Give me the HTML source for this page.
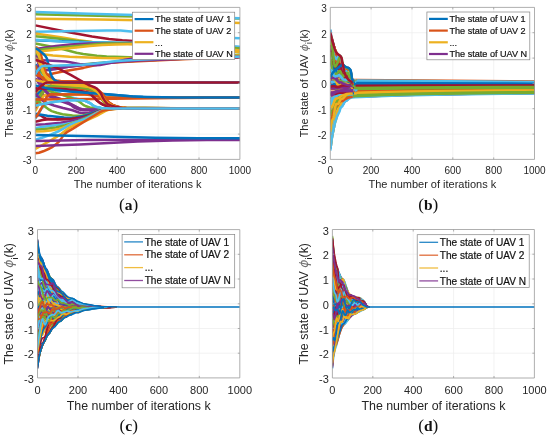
<!DOCTYPE html>
<html lang="en"><head><meta charset="utf-8"><title>UAV state convergence</title>
<style>
html,body{margin:0;padding:0;background:#fff}
body{width:550px;height:438px;overflow:hidden}
svg{display:block;font-family:"Liberation Sans",sans-serif}
</style></head><body>
<svg width="550" height="438" viewBox="0 0 550 438">
<rect width="550" height="438" fill="#fff"/>
<g>
<rect x="35.3" y="7.4" width="204.6" height="152" fill="#fff"/>
<path d="M76.2 7.4V159.4M117.1 7.4V159.4M158.1 7.4V159.4M199 7.4V159.4M35.3 134.1H239.9M35.3 108.7H239.9M35.3 83.4H239.9M35.3 58.1H239.9M35.3 32.7H239.9" stroke="#ececec" stroke-width="0.7" fill="none"/>
<clipPath id="cp1"><rect x="35.3" y="6.4" width="205.6" height="154"/></clipPath>
<g clip-path="url(#cp1)" fill="none" stroke-width="2.5" stroke-linejoin="round" stroke-linecap="butt">
<path d="M35.3 14.2L109 16L239.9 18.5" stroke="#77AC30"/>
<path d="M35.3 12L88.7 13.8L170.9 15.9L239.9 18.2" stroke="#4DBEEE"/>
<path d="M35.3 18.8L98.9 19.5L166.2 20.7L227.8 22.4L239.9 22.9" stroke="#EDB120"/>
<path d="M35.3 25.4L68.9 32.3L92 36.6L109 38.9L122.3 40.3L177.3 44.1L223.5 46.5L239.9 47.2" stroke="#A2142F"/>
<path d="M35.3 31.7L106.7 30.5L120.6 30.5L131.1 31.4L174.8 35L213.5 37.2L239.9 38.3" stroke="#4DBEEE"/>
<path d="M35.3 33.5L62.3 37.6L78.7 40.2L92.4 42L104 42.8L140.1 44.3L175 46.5L209.8 49.3L239.9 52.2" stroke="#EDB120"/>
<path d="M35.3 36.3L57.8 38.5L75.8 40.8L92.6 42.2L112 42.8L145.8 43.6L192.8 45.5L239.5 47.9L239.9 47.9" stroke="#77AC30"/>
<path d="M35.3 40.3L88.3 42.2L157.4 44.3L235.4 47.2L239.9 47.4" stroke="#0072BD"/>
<path d="M35.3 39.8L61.9 41.6L78.9 42.2L145.8 43L185.1 44.2L230.1 46.2L239.9 46.7" stroke="#4DBEEE"/>
<path d="M35.3 43.4L53.3 46.9L62.3 49L76.4 52.8L83.2 54L96.9 55.8L106.7 56.5L129.6 57.2L164.2 57.2L197.1 56.6L224.8 55.6L239.9 54.8" stroke="#77AC30"/>
<path d="M35.3 48.9L56 45.9L70.3 44.4L88.9 43.5L104 43.4L146.6 44.1L177.3 45.1L210.4 46.9L239.9 48.9" stroke="#7E2F8E"/>
<path d="M35.3 50.5L45.3 49L65 46.9L101.2 43.8L110 43.6L151.7 43.7L176.7 44.4L204.1 45.8L235.2 48.1L239.9 48.4" stroke="#77AC30"/>
<path d="M35.3 52.5L45.9 50.8L64.6 48.7L89.9 46.1L102.4 44.9L115.9 44.4L139.4 44.1L161.5 44.5L183.8 45.4L206.3 47L229.1 49.2L239.9 50.5" stroke="#EDB120"/>
<path d="M35.3 53L39 53.8L52.9 55.4L69.7 56.7L101.6 58L118.4 58.3L175.2 57.4L230.3 55.9L239.9 55.5" stroke="#EDB120"/>
<path d="M35.3 73.3L41 69.3L43.5 68L45.5 67.4L53.9 66.5L76.8 65.1L98.3 63L125.7 61.2L177.3 58.9L217.6 57.7L239.9 57.3" stroke="#77AC30"/>
<path d="M35.3 75.8L41 72.2L44.1 70.7L48.2 69.6L56 68.2L83.4 64.9L113.5 62.2L134.7 60.7L186.7 58.4L219.4 57.5L239.9 57.3" stroke="#7E2F8E"/>
<path d="M35.3 80.9L42.7 77L46.8 75.3L54.1 73.3L64.1 71.2L83.4 67.9L100.8 64L107.3 63.1L122.7 61.9L175.7 59.4L214.1 58L239.9 57.6" stroke="#D95319"/>
<path d="M35.3 60.1L48.2 60.4L65.6 61.6L70.1 62.2L80.1 64.3L85.2 64.8L96.3 65.2L100 64.9L112.6 62.5L125.1 59.7L134.9 58.2L144.4 57.9L186.5 57.1L238.3 56.8L239.9 56.8" stroke="#7E2F8E"/>
<path d="M35.3 64.4L36.7 65.9L38.4 68.2L39.2 69.8L40.8 73.5L41.4 74.5L43.1 76.4L44.9 77.9L48.4 79.9L51.9 81.4L56.8 82.6L64.4 83.8L72.3 84.5L82.2 85.1L85.2 85.6L90.3 87.4L94 89.2L96.7 91L98.9 93L101.6 96.1L102.6 97.7L104 100.1L105.5 101.6L107.7 103.4L110.2 104.8L114.3 106.4L118.6 107.4L124.9 108.3L130.2 108.5L239.9 108.5" stroke="#0072BD"/>
<path d="M35.3 54.3L35.9 54.8L36.7 56L37.8 58.1L38.2 59.2L38.8 61.5L39.8 66L40.2 67.5L41.6 71.9L42.5 74L43.1 75.2L43.9 76.3L45.7 78.1L48 79.6L51.9 81.3L56.4 82.7L60.5 83.5L69.1 84.2L80.9 84.9L85.6 85.6L90.3 86.9L93.6 88.3L97.1 90.4L99.3 92.2L101.8 94.8L103.2 96.6L105.3 100.1L106.7 101.6L109 103.4L111.4 104.8L115.5 106.4L119.8 107.4L126.1 108.3L131.5 108.5L239.9 108.5" stroke="#77AC30"/>
<path d="M35.3 70.7L40.4 77.1L42.7 80.1L44.1 81.4L47 83.3L52.1 85.8L56.8 87.7L60.5 88.6L67.6 89.5L76.4 90.5L84.4 91.9L88.7 93.1L90.1 93.8L92.2 95.6L95 98.5L97.5 101L100.8 103.4L103.4 104.9L108.3 106.5L113 107.5L120.6 108.4L133.1 108.5L239.9 108.5" stroke="#A2142F"/>
<path d="M35.3 91L38.8 88.8L43.3 86.4L45.1 86L52.1 86.2L75.4 87.7L84.8 88.7L89.9 89.8L94.6 91.4L97.3 92.6L98.7 93.9L100.6 96.1L104.3 101.1L105.9 102.9L107.5 104L111.8 106.3L114.7 107.4L117.1 107.7L172.8 108.3L239.9 108.5" stroke="#4DBEEE"/>
<path d="M35.3 87.2L40.4 92L42.5 94.1L43.7 94.9L47.2 95.8L59.9 99.8L70.3 103.7L73.6 105.3L78.9 108.3L81.3 109.2L83.8 109.5L94.8 110L98.7 109.9L106.3 108.8L122.1 108.5L239.9 108.5" stroke="#7E2F8E"/>
<path d="M35.3 94.8L37.8 91.7L41 88.2L42.3 87.3L45.3 86.2L47.6 85.9L66 86L78.3 86.8L86.2 87.6L91.4 88.7L95.2 90L97.3 91.2L100.2 93.6L103.8 97.1L108.5 102.9L110 104.3L111.4 105.1L115.7 106.8L119.2 107.6L123.3 107.8L178.5 108.3L239.9 108.5" stroke="#EDB120"/>
<path d="M35.3 97.3L37.6 94.2L39.2 92.4L42.3 89.8L43.7 89.1L45.1 89L51.9 89.5L130.4 96.3L143.1 96.9L174.4 97.4L239.9 97.6" stroke="#0072BD"/>
<path d="M35.3 55.5L35.9 56.2L36.5 57.4L37.3 59.3L37.6 60L37.8 60.9L38.8 66.4L39 67.2L39.2 67.9L39.4 68.2L40.6 68.9L44.9 70.2L48.8 70.1L54.9 69.3L68.4 66.7L86.5 64.6L119.4 61.7L139.2 60.5L189.2 58.4L221.3 57.5L239.9 57.3" stroke="#7E2F8E"/>
<path d="M35.3 118.9L41.2 109L42.5 107.5L44.9 105.2L47 103.9L50.4 102.7L55.1 101.7L65.6 100.4L72.1 100.1L82.8 100.2L85.2 100.9L90.1 103.2L94.6 106.4L96.3 107.1L101.2 107.9L110.8 108.5L239.9 108.5" stroke="#4DBEEE"/>
<path d="M35.3 111.3L39 103.6L40.6 100L41.4 98.6L43.5 96.1L44.7 95.1L45.7 94.8L50.4 94.3L85 94.4L90.7 95.1L102.2 97.1L106.3 97.6L239.9 97.6" stroke="#EDB120"/>
<path d="M35.3 116.3L37.1 115.4L39 115.1L40.2 115.2L41.8 116.1L44.5 117.9L45.9 118.4L52.1 119.2L57.6 119.4L71.1 118.9L76.8 118.3L84.8 116.7L88.7 115.7L93.6 113.6L99.1 111.1L102.4 110.1L111.2 108.8L116.9 108.5L239.9 108.5" stroke="#A2142F"/>
<path d="M35.3 68.2L43.9 78.9L47.2 83L51.9 87.8L54.7 90.3L58.6 92.7L62.9 94.9L67.2 96.5L73.6 98L80.9 99.6L86.2 101.4L89.9 103.1L94.6 106.4L96.3 107.1L101.2 107.9L110.8 108.5L239.9 108.5" stroke="#4DBEEE"/>
<path d="M35.3 106.2L36.7 102.3L38 99.4L40.4 94.7L41.4 93.1L42.3 92.4L44.9 91.4L47.4 91L49.8 91.3L65.4 95.9L73.4 98.8L78.3 101.1L80.1 102.2L83.6 105.1L85.4 106L89.7 107.5L93 108.1L102 108.5L239.9 108.5" stroke="#77AC30"/>
<path d="M35.3 108.7L37.1 103.8L38.8 99.9L41.6 94L43.1 91.5L44.1 90.2L46.8 87.7L48.4 86.7L49.6 86.4L63.5 86.5L71.5 87.3L85.8 89.5L91.4 90.7L95.7 92.3L96.9 93.1L98.3 94.5L100.6 97.5L103.2 101.2L104.9 102.9L106.3 103.9L111 106.2L114.3 107.3L116.9 107.7L172.6 108.3L239.9 108.5" stroke="#D95319"/>
<path d="M35.3 102.4L38.8 98.2L41 95.2L43.9 90.3L44.9 89L46.1 88.1L48.8 86.6L50.8 86L58 86.1L73.4 86.9L83.4 88L88.9 89.1L93.4 90.5L95.2 91.3L96.7 92.5L98.5 94.7L102.4 100L104 101.8L106.9 103.7L111 106L114.1 107.2L116.5 107.7L168.1 108.3L239.9 108.5" stroke="#77AC30"/>
<path d="M35.3 70.7L38.2 77L40.8 82.3L45.1 90.4L46.6 92.6L47.6 93.7L49.8 95.1L53.1 96.4L59.4 98.4L65.8 101.1L68 102.4L70.7 104.7L73.2 106.9L74.8 107.8L78.9 109.5L81.1 110L97.9 109.9L105.1 109L116.1 108.5L239.9 108.5" stroke="#7E2F8E"/>
<path d="M35.3 78.3L39 83.5L42.3 87.6L45.1 90.6L49.2 94.2L53.1 97L56.8 99.1L62.1 101.5L73.2 105.7L79.3 108.5L82.2 109.3L84.8 109.5L99.3 109.4L110 108.5L239.9 108.5" stroke="#7E2F8E"/>
<path d="M35.3 93.5L38.8 97.3L41.4 99.7L43.9 101.4L47.8 103.3L53.9 105.5L63.1 108L72.5 110.3L78.9 112.5L81.3 112.9L89.1 112.6L94.6 112.1L97.7 111.1L102 109.5L104.9 109.1L114.1 108.5L239.9 108.5" stroke="#7E2F8E"/>
<path d="M35.3 98.6L40.8 103.4L49.2 109.7L51.7 111.1L56.8 112.8L62.5 114.2L72.5 115.6L78.1 115.8L82.6 115.4L90.7 113.8L93.8 112.7L100 110L102.6 109.3L112.4 108.6L132.7 108.5L239.9 108.5" stroke="#77AC30"/>
<path d="M35.3 113.8L47.4 115.8L64.1 117.6L71.5 117.9L75.6 117.5L84.6 115.7L89.5 114.2L98.7 111L102.8 110L112.2 108.7L117.8 108.5L239.9 108.5" stroke="#0072BD"/>
<path d="M35.3 121.7L42.7 120L47 119.6L71.7 118.8L77.7 118.1L86.5 116.3L89.9 115.2L99.1 111.1L102.4 110.1L111.2 108.8L116.9 108.5L239.9 108.5" stroke="#A2142F"/>
<path d="M35.3 124.7L45.3 124.2L60.7 122.7L69.7 121.2L79.7 119L85.8 117.3L90.3 115.3L97.7 111.7L101.4 110.4L108.1 109.2L114.7 108.5L239.9 108.5" stroke="#7E2F8E"/>
<path d="M35.3 128L49.2 126L63.3 124.4L70.5 123.1L78.3 121L85.2 118.6L89.7 116.4L95.7 113.3L104.3 109.7L107.3 108.9L111.6 108.6L127.4 108.5L239.9 108.5" stroke="#4DBEEE"/>
<path d="M35.3 129.8L44.9 128.9L56 127.4L65 125.5L71.7 123.5L80.1 120.4L94.2 114L105.3 109.8L109 108.9L113 108.7L127.8 108.5L239.9 108.5" stroke="#77AC30"/>
<path d="M35.3 131.5L43.7 131.2L50.6 130.5L58.2 129.1L61.7 128.1L71.5 123.9L84.8 119.5L88.3 118L93.8 114.7L97.9 112.4L100.8 111.3L107.7 109.4L112 108.8L125.3 108.5L239.9 108.5" stroke="#EDB120"/>
<path d="M35.3 139.6L42.1 137.7L51.1 134.5L59.2 131L63.9 128.4L69.9 124.9L74.8 122.7L86.7 118.3L92 115.6L98.3 112.4L102 111L109.4 109.4L114.5 108.8L128.4 108.5L239.9 108.5" stroke="#4DBEEE"/>
<path d="M35.3 149L46.8 142.7L57 136.6L61.3 133.7L68.2 128.6L71.5 126.6L76.4 124.5L84.6 121.4L96.7 115.9L100.6 113.7L105.1 111.1L107.7 110L112.6 109.2L120 108.6L191.2 108.5L239.9 108.5" stroke="#EDB120"/>
<path d="M35.3 153.3L39 152.7L43.3 151.3L49.6 148.5L52.7 146.8L56 144.3L59 141.5L60.7 139.4L63.5 135.4L65 133.8L67.8 131.6L73.4 128.3L88.9 118.8L94.8 115.2L99.7 112.2L102.8 110.8L105.9 110.1L113.3 108.9L118.8 108.5L239.9 108.5" stroke="#D95319"/>
<path d="M35.3 117.9L38 114L41 109L43.7 104.1L45.1 100.7L46.1 98.2L47 96.7L47.6 96.1L49.6 94.8L51.3 94.3L85 94.4L90.7 95.1L102.2 97.1L106.3 97.6L239.9 97.6" stroke="#D95319"/>
<path d="M35.3 99.4L93.2 99L175.5 97.9L239.9 97.6" stroke="#D95319"/>
<path d="M35.3 88.5L54.7 88.8L65.4 89.3L76.6 90.5L83.6 91.7L88.1 92.9L89.9 93.7L91.8 95.3L95 98.5L97.5 101L100.8 103.4L103.4 104.9L108.3 106.5L113 107.5L120.6 108.4L133.1 108.5L239.9 108.5" stroke="#A2142F"/>
<path d="M35.3 85.4L47.6 88.4L54.7 89.7L69.7 91.4L114.5 95L132.9 96.5L147.6 97L177.9 97.5L239.9 97.6" stroke="#0072BD"/>
<path d="M35.3 46.9L36.3 47.2L37.6 48.2L39 49.9L39.6 50.8L40 51.7L40.6 53.6L42.9 62.1L44.3 68.3L44.9 70.5L45.3 71.6L46.3 73.3L47.8 75.1L49.6 76.9L52.9 79.1L56.4 80.9L59.6 82.1L66 83.4L73.6 84.3L83.4 85L87.3 85.8L92 87.4L95.5 89.1L98.3 91L100.6 93L103.2 96.1L104.3 97.7L105.7 100.1L107.1 101.6L109.4 103.4L111.8 104.8L115.9 106.4L120.2 107.4L126.6 108.3L131.9 108.5L239.9 108.5" stroke="#D95319"/>
<path d="M35.3 65.7L37.6 69.9L39.6 74.4L40.4 75.8L42.3 78L43.7 79.2L45.1 79.8L49 80.6L53.5 80.9L77 81.3L81.1 81.9L84 82.7L86.7 84.2L91 86.8L96.9 89.6L99.1 91.1L101.4 93.2L103.8 96.1L104.9 97.7L106.3 100.1L107.7 101.6L110 103.4L112.4 104.8L116.5 106.4L120.8 107.4L127.2 108.3L132.5 108.5L239.9 108.5" stroke="#D95319"/>
<path d="M35.3 74.5L43.7 77.7L50 79.5L55.6 80.5L60.7 80.9L77.4 81.2L81.9 81.9L84.2 82.5L86.9 84L91.2 86.7L97.3 89.6L99.5 91.1L101.8 93.2L104.3 96.1L105.3 97.7L106.7 100.1L108.1 101.6L110.4 103.4L112.8 104.8L116.9 106.4L121.2 107.4L127.6 108.3L132.9 108.5L239.9 108.5" stroke="#D95319"/>
<path d="M35.3 46.7L36.1 47.8L36.9 49.4L38.2 52.4L38.8 54.3L39.4 56.8L40.8 63.3L41.4 65.7L42.9 70.5L43.7 72.8L44.3 74.2L45.5 76L47.2 77.8L49 79.2L52.7 81.2L56.6 82.6L60.3 83.5L68 84.3L83.6 85.5L88.1 86.4L91.4 87.5L94.6 89.2L97.5 91.1L99.7 93.2L102.2 96.1L103.2 97.7L104.7 100.1L106.1 101.6L108.3 103.4L110.8 104.8L114.9 106.4L119.2 107.4L125.5 108.3L130.8 108.5L239.9 108.5" stroke="#EDB120"/>
<path d="M35.3 58.1L36.5 59.1L38 60.9L39.6 63.5L40.4 65.3L42.7 71.5L43.5 73.3L45.3 76.3L46.8 78.1L48.2 79.3L51.1 81L54.1 82.2L58.8 83.3L67.2 84.4L85.2 86.2L88.7 86.9L91.4 88L95 90.2L97.3 92L99.7 94.6L101.4 96.6L103.4 100.1L104.9 101.6L107.1 103.4L109.6 104.8L113.7 106.4L118 107.4L124.3 108.3L129.6 108.5L239.9 108.5" stroke="#EDB120"/>
<path d="M35.3 80.1L46.1 82.5L55.4 83.9L64.4 84.7L82.6 85.9L88.1 86.6L90.5 87.3L93.6 88.9L96.9 91.1L99.1 93.2L101.6 96.1L102.6 97.7L104 100.1L105.5 101.6L107.7 103.4L110.2 104.8L114.3 106.4L118.6 107.4L124.9 108.3L130.2 108.5L239.9 108.5" stroke="#EDB120"/>
<path d="M35.3 48.2L37.6 49.3L40.4 51.4L44.3 54.8L45.5 56.3L46.6 57.9L47 58.8L47.4 60.2L48.6 65.7L50 71.4L50.8 74L51.7 76.1L52.3 77.3L53.7 79.2L54.9 80.4L56.6 81.2L59 82L64.6 82.5L239.9 82.5" stroke="#0072BD"/>
<path d="M35.3 59.8L43.9 62.7L54.5 66.9L61.5 70.1L71.1 75.1L83.2 82L88.5 85L91.6 86.2L95 87.5L96.9 88.6L98.5 90.3L100.4 92.7L101.2 94L103.2 98.4L104.9 100.9L106.5 103L107.7 104.1L110.6 105.4L114.5 106.5L122.5 108.1L127 108.5L239.9 108.5" stroke="#A2142F"/>
<path d="M35.3 92.3L38.2 88.9L40.6 86.6L44.9 83.3L46.6 82.5L48.2 82.4L239.9 82.5" stroke="#A2142F"/>
<path d="M35.3 146L79.5 144.4L113.9 142.7L137.8 141.4L172.8 140.4L207 140L239.9 139.9" stroke="#7E2F8E"/>
<path d="M35.3 140.9L87.1 140L166.9 139.8L239.9 139.8" stroke="#7E2F8E"/>
<path d="M35.3 135.1L104 136.4L155.6 137.8L198.6 138.2L239.9 138.2" stroke="#0072BD"/>
<path d="M35.3 105.7L45.7 103.3L54.7 101.8L67 100.3L73.4 100.1L82.8 100.2L85.2 100.9L90.1 103.2L94.6 106.4L96.3 107.1L101.2 107.9L110.8 108.5L239.9 108.5" stroke="#4DBEEE"/>
<path d="M35.3 74.5L36.9 71.5L38.2 69.7L40.4 67.3L41.6 66.4L42.9 66.1L52.9 65.8L82.6 64.7L93.6 63.7L116.9 61.1L138 59.8L172.2 58.3L219.6 57.1L239.9 56.8" stroke="#4DBEEE"/>
</g>
<path d="M35.3 7.4H239.9V159.4H35.3ZM76.2 159.4v-2M76.2 7.4v2M117.1 159.4v-2M117.1 7.4v2M158.1 159.4v-2M158.1 7.4v2M199 159.4v-2M199 7.4v2M35.3 134.1h2M239.9 134.1h-2M35.3 108.7h2M239.9 108.7h-2M35.3 83.4h2M239.9 83.4h-2M35.3 58.1h2M239.9 58.1h-2M35.3 32.7h2M239.9 32.7h-2" stroke="#9a9a9a" stroke-width="0.8" fill="none"/>
<g font-size="10" fill="#262626">
<text x="35.3" y="174" text-anchor="middle">0</text>
<text x="76.2" y="174" text-anchor="middle">200</text>
<text x="117.1" y="174" text-anchor="middle">400</text>
<text x="158.1" y="174" text-anchor="middle">600</text>
<text x="199" y="174" text-anchor="middle">800</text>
<text x="239.9" y="174" text-anchor="middle">1000</text>
<text x="31.7" y="12.2" text-anchor="end">3</text>
<text x="31.7" y="37.5" text-anchor="end">2</text>
<text x="31.7" y="62.8" text-anchor="end">1</text>
<text x="31.7" y="88.2" text-anchor="end">0</text>
<text x="31.7" y="113.5" text-anchor="end">-1</text>
<text x="31.7" y="138.8" text-anchor="end">-2</text>
<text x="31.7" y="164.2" text-anchor="end">-3</text>
</g>
<text x="137.6" y="187.7" text-anchor="middle" font-size="11" fill="#262626">The number of iterations k</text>
<text transform="translate(13 83.4) rotate(-90)" text-anchor="middle" font-size="11" fill="#262626">The state of UAV <tspan font-family="'DejaVu Sans',sans-serif" font-style="italic" fill="#707070" font-size="11">ϕ</tspan><tspan font-size="8.2" dy="3.6">i</tspan><tspan dy="-3.6">(k)</tspan></text>
<rect x="132.5" y="12.2" width="102.2" height="47.4" fill="#fff" stroke="#858585" stroke-width="0.7"/>
<g font-size="9.1" fill="#111" stroke="#111" stroke-width="0.2">
<path d="M134.6 19.1h18.8" stroke="#0072BD" stroke-width="2.2" fill="none"/>
<text x="155.1" y="22.4">The state of UAV 1</text>
<path d="M134.6 30.7h18.8" stroke="#D95319" stroke-width="2.2" fill="none"/>
<text x="155.1" y="33.9">The state of UAV 2</text>
<path d="M134.6 42.2h18.8" stroke="#EDB120" stroke-width="2.2" fill="none"/>
<text x="155.1" y="45.5">...</text>
<path d="M134.6 53.8h18.8" stroke="#7E2F8E" stroke-width="2.2" fill="none"/>
<text x="155.1" y="57.1">The state of UAV N</text>
</g>
</g>
<g>
<rect x="330.3" y="7.4" width="204.2" height="152" fill="#fff"/>
<path d="M371.1 7.4V159.4M412 7.4V159.4M452.8 7.4V159.4M493.7 7.4V159.4M330.3 134.1H534.5M330.3 108.7H534.5M330.3 83.4H534.5M330.3 58.1H534.5M330.3 32.7H534.5" stroke="#ececec" stroke-width="0.7" fill="none"/>
<clipPath id="cp2"><rect x="330.3" y="6.4" width="205.2" height="154"/></clipPath>
<g clip-path="url(#cp2)" fill="none" stroke-width="2.5" stroke-linejoin="round" stroke-linecap="butt">
<path d="M330.3 60.7L330.9 63.8L331.3 65.4L331.7 66.4L331.9 66.8L332.5 67L333 67.6L333.4 68.7L334.6 73.3L335 74.4L335.4 75L335.8 75.1L336.4 74.6L337.7 73L339.5 71.8L340.3 71.7L341.7 72.3L342.6 73.4L343 73.2L345.8 71L346.6 71L347.5 71.6L348.5 73.1L349.9 76L350.7 77.3L351.3 79.1L351.9 80.9L352.4 81.6L353.6 82.2L355.6 82.3" stroke="#0072BD"/>
<path d="M330.3 50.6L330.9 53.9L331.3 55.6L331.7 56.8L332.1 57.3L332.8 58L333.4 59.3L334.4 62.5L334.8 63.4L335.2 63.8L335.8 63.7L337.4 62.4L340.1 61.2L341.1 61.2L341.5 61.4L341.7 61.9L341.9 62.7L342.6 65.7L342.8 66.3L343.8 68.2L345 71L345.6 71.9L347.5 72.8L348.5 73.4L350.1 72.9L350.5 73.1L350.7 73.4L350.9 74.2L351.3 76.3L351.7 78.5L351.9 79.5L352.1 80.2L352.6 80.8L353.2 81.3" stroke="#0072BD"/>
<path d="M330.3 102.5L330.7 102.7L331.1 102.4L331.9 100.9L332.5 99.5L334 98L334.8 96.5L335.6 94.8L336.4 93.7L337.4 93.3L339.3 93.3L340.5 92.8L342.6 91L345.4 90.2L350.5 88.4L354.2 88.1" stroke="#77AC30"/>
<path d="M330.3 133.3L330.7 131.9L331.1 131.1L331.5 131L331.9 131.4L332.3 129.7L332.5 128.5L332.8 127.2L333.2 123.8L334 116.3L334.2 114.7L334.4 113.3L334.6 112.2L334.8 111.3L335 110.7L335.4 110.1L336.2 109.7L336.8 108.7L338.1 105.4L338.7 104.3L340.3 102.5L341.7 100.5L344 98.2L345.8 95.9L349.3 93.7L351.1 92.7L355 92.5" stroke="#0072BD"/>
<path d="M330.3 96.2L332.1 95.5L336.4 95.5L339.5 95.6L343.4 96L349.3 95.5L355.4 95.5" stroke="#EDB120"/>
<path d="M330.3 137.1L330.7 132.8L331.1 129L331.3 127.4L331.5 126L331.7 125L331.9 124.2L333.6 122.6L334.2 121.5L334.8 119.7L336.4 113.1L337.4 109.8L339.1 105.3L339.7 104L341.3 102.1L342.6 100.1L343.4 99.6L344.4 98.9L346.2 96.6L349.7 93.8L351.3 93.3L353 93.2" stroke="#0072BD"/>
<path d="M330.3 97.5L331.9 98.6L335.4 98.5L337.9 98.4L342.8 97L348.3 96.5L353.2 96.3" stroke="#77AC30"/>
<path d="M330.3 64.2L330.7 63.7L331.3 63.9L331.7 64.1L331.9 63.9L332.3 64.1L333 63.9L333.4 64.3L333.8 65.1L334.8 67.9L335.4 69L336.2 70.2L336.6 71.2L337.2 73.5L338.1 77L338.5 78.3L338.9 79.1L339.5 79.5L341.7 78.8L342.6 79L344 77.6L346 76.7L347 76.7L348.7 77.2L350.3 77.1L350.7 77.4L351.1 78.4L351.9 81.6L352.1 82.2L352.6 82.8L353.8 83.7L355 83.8" stroke="#0072BD"/>
<path d="M330.3 35.7L331.1 38L331.5 38.7L331.9 38.9L333.4 44.4L334.4 47.9L334.6 49.2L335.8 59.8L336.2 62.9L336.6 65.3L336.8 66.2L337 66.9L337.2 67.4L337.4 67.6L337.7 67.6L338.1 66.9L338.9 64.8L339.3 64.2L339.9 64.1L341.3 64.4L341.5 64.5L341.7 65L341.9 66L342.3 68.5L342.6 69.5L342.8 70.1L343.4 70.9L344 71L346 69.5L347.2 69.3L349.5 69.8L350.3 70.1L350.5 70.3L350.7 70.9L350.9 72L351.1 73.4L351.7 78.4L351.9 79.8L352.1 80.8L352.4 81.3L353.2 82.3L354 82.7L355.6 82.7" stroke="#0072BD"/>
<path d="M330.3 143.9L330.5 141.2L330.7 138.7L330.9 136.4L331.1 134.4L331.5 130.9L331.9 127.9L332.8 124L333.6 120.9L334.4 117.9L335.4 113.7L336.2 111.3L337.9 107.5L338.5 106.6L339.3 106L340.1 105.7L340.7 104.9L341.3 103.5L342.8 99.4L343.4 98.1L344.2 97.2L347.7 94.3L349.9 92.3L351.5 91.9L355.4 91.6" stroke="#0072BD"/>
<path d="M330.3 89.3L331.3 87.9L331.9 87.3L334.4 88.5L337 88.8L340.9 88.8L344.6 89.2L349.9 88.7L355.6 88.6" stroke="#77AC30"/>
<path d="M330.3 148.3L330.5 148.1L330.7 147L331.3 142.2L331.9 137.9L332.5 134.2L333.4 130L334 127.2L334.4 123.2L334.6 121.4L334.8 119.8L335 118.4L335.2 117.2L335.4 116.3L335.8 115.1L336.2 114.6L337.2 114.1L337.7 113.3L338.3 111.5L339.1 108.7L339.7 107.4L340.5 106.7L341.9 105.7L343 104.4L344.4 101.8L345.2 101.1L346.8 100.4L349.3 97.5L350.7 96.7L354 96.3" stroke="#0072BD"/>
<path d="M330.3 121.7L330.7 121.6L330.9 121.2L331.1 120.7L331.5 118.9L331.9 116.7L332.3 114.1L332.8 112.1L333.2 110.7L335 106.4L336 103.4L337 100.2L337.7 98.8L338.5 97.8L340.1 96.9L341.5 96.3L342.6 95.1L344.4 92.5L345.4 91.6L349.5 89.4L351.5 88.9L355.6 88.7" stroke="#77AC30"/>
<path d="M330.3 97.5L331.3 98.8L331.9 99.2L334.4 97.3L336.4 96.4L339.3 96.4L345.2 97L350.7 96.7L353 96.7" stroke="#4DBEEE"/>
<path d="M330.3 30.3L330.7 34.7L331.1 38.6L331.5 42.1L331.9 45L332.3 45.8L332.8 45.6L333.4 44.5L334.6 48.5L335.6 51.2L336.4 52.7L337.4 53.9L337.9 54.3L338.3 55.7L339.5 60.9L339.9 62.3L340.3 63.3L340.7 63.8L341.3 63.7L341.5 63.6L341.7 63.8L341.9 64.3L342.6 66.5L342.8 66.8L343.6 67.3L344.4 68.6L345.4 70.6L346 71L346.6 70.7L347.5 69.3L348.1 68.3L348.5 68L348.9 68.3L350.3 71.1L350.7 71.9L350.9 72.7L351.3 74.9L351.9 78.5L352.1 79.3L352.4 79.8L353.4 80.7L353.8 81" stroke="#A2142F"/>
<path d="M330.3 89.2L334.4 89.3L336.6 88.6L339.9 87.1L341.5 87L347 89.5L349.1 89.5L353.4 89.3L357.1 89.2" stroke="#D95319"/>
<path d="M330.3 138.7L330.9 135L331.3 133.1L331.5 132.6L331.7 132.3L331.9 132.3L332.5 131.2L333 129.9L333.4 127.9L334.6 121L335.4 117L336 114.5L337.9 108.5L338.7 106.5L340.1 103.8L341.3 101L341.9 100.2L342.6 99.9L343.8 100L344.6 99.4L345.4 98.3L347.2 94.8L348.3 93.6L350.9 91.8L353.6 91.3L357.7 91.3" stroke="#D95319"/>
<path d="M330.3 134.6L331.3 128L331.9 124.7L332.5 122.2L335 114.1L335.6 112.6L337.9 108.5L339.1 106.4L340.3 104.1L344.4 98.9L346.4 96.7L349.1 95.3L351.3 94.6L356.8 94.4" stroke="#7E2F8E"/>
<path d="M330.3 108L330.9 106.1L331.5 104.7L332.1 103.9L334.6 101.7L336 100.4L337.7 99L339.1 97.8L341.9 96.2L344 95.6L347.2 94.2L351.9 93.3L355.2 93.1" stroke="#4DBEEE"/>
<path d="M330.3 88.7L331.5 87.9L335.6 87.7L339.1 88.3L340.9 87.9L344 86.7L346.4 86.5L356 86.8" stroke="#D95319"/>
<path d="M330.3 94.4L331.9 94.7L334.6 93.8L337 93.8L341.9 94.9L344 94.9L346.6 94.7L350.7 95.4L353.4 95.8L355 95.9" stroke="#4DBEEE"/>
<path d="M330.3 116.6L330.7 114.4L330.9 113.6L331.3 112.6L332.1 111.6L333 109.7L333.8 107.7L334.6 106.3L335.6 105.6L336.6 104.8L337.7 103.3L338.9 101.3L339.7 100.5L340.9 100.1L342.3 99.9L344.8 98.4L349.5 96.9L354.4 96.7L354.8 96.7" stroke="#A2142F"/>
<path d="M330.3 93L331.9 92.5L336.6 93.2L339.5 92.7L343.4 91.7L347.5 91.6L353.8 91.7" stroke="#D95319"/>
<path d="M330.3 84.2L331.3 82.3L331.9 81.5L335.6 83.3L337.2 83.5L339.1 82.8L340.9 82L344.2 82L349.5 82.3L355.6 82.3" stroke="#A2142F"/>
<path d="M330.3 106L331.3 101.8L331.7 100.5L331.9 100.1L333.4 98.9L334 97.6L334.8 95L335.4 92.9L336 91.5L336.6 91L338.1 91.2L340.1 89.9L341.5 89.5L344.4 87.5L346.6 86.5L350.9 85.5L357.5 85.3" stroke="#EDB120"/>
<path d="M330.3 82.6L331.9 81.6L334.2 82.3L336.2 82.8L340.9 83.1L343.2 83.8L346.4 83.6L350.5 83.2L351.7 83.8L353 84.2L356.8 84.3" stroke="#D95319"/>
<path d="M330.3 73.8L331.5 76L331.9 76.6L335.4 77.2L336.8 76.7L338.5 76.1L340.3 76.2L341.5 76.8L343 78.5L345.2 80.5L346.8 81.2L348.9 81.2L350.9 80.6L353 80L356.8 80" stroke="#D95319"/>
<path d="M330.3 104.9L330.9 104.2L331.3 103.4L331.7 102.2L332.3 100L332.8 98.9L333.4 97.9L334.6 97.2L336 96.6L337 95.4L338.3 93.7L339.1 93.2L340.9 93.3L343.6 92.1L347.2 91.3L353 90.6L354.8 90.5" stroke="#4DBEEE"/>
<path d="M330.3 125.1L330.5 123.5L330.7 122L330.9 120.9L331.1 120L331.5 118.8L332.1 117.2L333.2 113.3L333.8 111.7L334.4 110.7L335.8 109.3L336.6 107.9L338.7 102.8L339.5 101.3L341.5 98.6L342.1 98.3L343.8 98.6L344.6 98L346.6 95.9L348.9 94.4L351.3 93.8L355.8 93.6" stroke="#A2142F"/>
<path d="M330.3 146.8L330.9 142.4L331.7 136.2L332.3 132.5L333.6 126.2L334 124.6L334.4 123.5L335.2 122.2L336.4 118.4L337.4 113.8L338.3 110.9L339.3 108.1L340.5 105.5L341.3 104.4L342.6 103.2L344.2 100.7L345.6 99.3L349.5 97L351.3 96.2L354.4 95.9" stroke="#EDB120"/>
<path d="M330.3 128.1L330.7 125.1L330.9 123.2L331.7 114.9L331.9 113.3L332.1 112.9L332.3 112.8L333.2 113.6L333.6 113.4L334 112.4L335.2 107.7L335.8 105.9L336.4 104.7L337 104.2L338.1 104.3L339.1 104.3L340.1 103.7L342.1 101.8L343.2 99.9L344.2 98L346 96L347.9 94.8L350.9 93.3L355.6 92.8L356.6 92.8" stroke="#EDB120"/>
<path d="M330.3 47.1L330.7 44.9L330.9 44.1L331.1 43.6L331.3 43.3L331.7 43.3L331.9 43.5L332.3 46.4L332.8 48.6L333.4 51.3L334.4 55.5L335.8 62.7L336.2 64.3L336.8 65.9L338.9 69.7L339.5 70.2L340.1 70L341.3 68.6L341.5 68.5L341.7 68.7L341.9 69.3L342.6 71.7L342.8 72.1L344 73.1L345.2 73.3L346.2 73.5L347.7 74.5L349.3 74.3L349.9 74.9L350.5 76.1L350.7 76.9L351.1 79.1L351.7 82.7L351.9 83.6L352.1 84.4L352.6 85L353.8 85.8L356.6 85.8" stroke="#7E2F8E"/>
<path d="M330.3 141.6L330.5 138.7L330.7 136.2L330.9 133.9L331.1 132.1L331.3 130.5L331.5 129.3L331.9 127.5L332.3 125.8L333 122.4L333.6 118.9L334 117.1L334.4 115.8L335.2 114.1L336 112.4L337.2 108.6L338.7 104.2L339.3 102.8L340.3 101.4L342.3 99.2L344.6 95.3L346.6 92.6L348.5 91.2L350.3 90L352.1 89.7L353.6 89.7" stroke="#4DBEEE"/>
<path d="M330.3 81.2L331.3 81.3L332.3 80.9L335.8 81L339.7 82.4L342.8 83.8L345.6 84.1L350.3 83.3L351.7 83.5L354.4 83.9L355.8 83.9" stroke="#A2142F"/>
<path d="M330.3 126.5L331.1 122.5L331.9 118.4L332.5 116.5L334 112.2L334.6 110.5L335.2 109.4L336.6 108.2L338.5 105.1L340.3 103.2L344.6 99.7L346.2 98.1L350.5 96.4L354 96.2" stroke="#D95319"/>
<path d="M330.3 145.6L330.7 145.9L330.9 145.4L331.5 140.7L332.1 136.6L332.8 133L333.6 129L334 127.2L334.6 123.4L335 121.5L336.2 117.1L337 113.3L337.7 110.4L338.1 108.9L338.5 107.9L339.1 107.2L339.9 106.7L340.5 105.7L341.3 103.6L342.6 100.1L343.4 98.3L344.2 97.1L345.8 95.4L348.3 92.6L350.1 91.3L351.7 90.8L353.8 90.7" stroke="#EDB120"/>
<path d="M330.3 88L331.9 85.2L333.6 86.5L335.6 89.4L337 90.6L338.1 90.9L340.7 90.4L341.7 90L342.8 91L345 91.5L347.2 92.6L349.3 94L350.7 95L351.7 96.1L352.8 96.3L354.6 96" stroke="#77AC30"/>
<path d="M330.3 118.4L331.1 119L331.7 119L331.9 118.8L332.8 114.5L333.6 111L335.6 103.4L336.4 100.9L337 99.6L337.9 98.7L338.7 97.9L339.5 96.4L340.5 94.2L341.1 93.4L343 92.4L345.6 89L348.3 86.9L350.3 86.1L353 85.7" stroke="#77AC30"/>
<path d="M330.3 86L331.5 86.7L332.3 86.5L334.8 85.2L336.4 84.9L341.1 86.2L343 87.3L345.4 87.9L350.5 88.1L352.6 88.7L355.4 88.6" stroke="#7E2F8E"/>
<path d="M330.3 113.4L330.7 113.4L331.1 112.7L331.5 111.3L332.1 108.3L332.5 106.8L333 105.9L333.6 105.6L334.2 105.4L334.8 104.6L336 102.1L336.6 101.4L338.1 100.8L339.9 99.3L343 97.9L345 97L348.3 95.8L351.7 95.3L357.3 95.2" stroke="#77AC30"/>
<path d="M330.3 78.7L333.4 79.3L337.9 78.8L339.5 79.4L342.1 80.9L343.8 81.1L350.3 80.1L351.5 80L354.4 80.6L356 80.6" stroke="#EDB120"/>
<path d="M330.3 123.6L330.9 120.5L331.3 118.8L332.8 114.4L333.6 111.9L334.4 110.1L335.4 108.6L336.4 107.2L337.2 105.4L338.7 101.9L339.5 100.4L340.3 99.6L341.5 98.7L343.4 96.6L346.6 94.5L350.5 93.2L354.4 93.1" stroke="#77AC30"/>
<path d="M330.3 150.5L330.9 145.4L331.5 140.7L332.1 136.6L332.8 133L333.6 129L334.8 123.8L335.6 120.9L337 116.8L338.5 113.5L339.5 111.5L339.7 110.9L340.1 109.3L340.5 108.2L341.1 107.3L342.1 106.5L343 105L344 102.9L344.8 101.8L347.9 99.6L349.5 98.3L351.3 97.6L354.4 97.3" stroke="#4DBEEE"/>
<path d="M330.3 31.9L331.1 36.2L331.3 37L331.5 37.7L331.7 38L331.9 38.7L332.5 41.3L334 46.6L334.8 49.1L335 49.9L335.4 53.5L335.6 55.1L335.8 56.4L336 57.6L336.2 58.5L336.6 59.6L337 60L337.4 59.8L338.7 57.5L339.1 57.3L339.5 57.9L340.1 59.7L341.3 63.7L341.7 65L342.3 68L342.6 68.7L342.8 68.9L344.4 68.1L345 68.3L346.2 69.5L346.8 69.4L347.9 68.4L348.3 68.4L348.7 68.8L349.3 70.3L350.5 74.4L350.7 75.2L351.5 79.5L351.9 81.2L352.1 81.7L352.8 82.2L354 82.6L355 82.6" stroke="#D95319"/>
<path d="M330.3 88.3L331.7 88.2L334.4 88.5L339.7 87.5L342.8 87.6L346.6 88.1L353 87.9L354.6 87.9" stroke="#7E2F8E"/>
<path d="M330.3 119.3L331.1 118.8L331.9 118.7L332.8 115.2L333.6 111.6L334.2 109.4L334.8 107.8L335.6 106.5L337.4 104.2L338.9 102.7L340.1 101.3L341.1 101L342.6 100.9L345.2 99L348.9 97.4L352.1 96.8L355.8 96.6" stroke="#D95319"/>
<path d="M330.3 111.6L330.7 109.9L331.1 108.7L331.5 108.1L332.3 107.8L333.2 106.7L334 105L334.8 102.5L335.6 99.9L336.2 98.6L337 97.8L338.7 96.7L340.3 96.5L341.1 95.7L342.6 94L344.2 92.9L345.8 91.9L347.7 90.5L350.3 89.7L357.1 89.1L357.7 89.1" stroke="#77AC30"/>
<path d="M330.3 101.7L332.3 98.9L333.4 98.3L335 97.8L336.4 96.4L337.9 94.8L339.9 93.9L342.8 92.9L346.4 91.3L351.9 90.1L357.3 89.8" stroke="#4DBEEE"/>
<path d="M330.3 96.2L331.5 94.6L331.9 94.3L333.8 95L345.2 94.5L348.9 94.6L357.7 94.1" stroke="#4DBEEE"/>
<path d="M330.3 82.7L331.9 81.9L335.4 83.2L337.4 84L341.1 84.2L345.6 84L348.5 83.9L350.7 83.6L352.8 84.1L354 84.2" stroke="#0072BD"/>
<path d="M330.3 131.9L331.3 124.4L331.7 122L331.9 121.1L332.3 120.1L333 119L333.4 117.8L333.8 115.9L334.4 112L335 108.2L335.4 106.3L335.8 105L336.2 104.2L336.8 103.9L337.9 104.1L338.5 103.6L339.3 102L340.3 99.9L340.9 99.2L341.9 98.8L343 98.5L344 97.4L345.6 95.4L349.1 92.8L351.3 92L354.4 91.8" stroke="#EDB120"/>
<path d="M330.3 82.3L332.3 81.7L334.6 81.9L337.2 82.4L343 81.8L348.3 81.6L354.2 81.9" stroke="#4DBEEE"/>
<path d="M330.3 48.6L331.1 50.8L331.7 51.9L331.9 52L332.5 53.1L333.4 54.4L334 56L335.4 60.6L337 65L338.1 68L339.3 70.5L340.7 73.3L341.3 73.9L341.7 74.1L342.6 76L342.8 76.1L343.6 75.7L344.2 75.9L345.6 77.6L346.2 77.6L347 76.7L347.9 75.8L348.9 75.5L349.9 75.6L350.5 76.2L350.7 76.8L350.9 77.8L351.3 80.6L351.7 83.6L351.9 84.9L352.1 85.9L352.4 86.4L353.4 87.5L353.6 87.7" stroke="#A2142F"/>
<path d="M330.3 70.5L330.9 71.9L331.3 72.3L331.7 72.2L331.9 71.9L332.5 72.1L333 72.7L334 75.3L334.4 76L335.2 76.4L335.8 76.7L336.6 78.1L338.3 81.2L338.9 81.8L339.5 81.5L340.5 80.3L341.1 80.2L341.5 80.5L341.7 80.9L342.6 83.5L343 84.1L344.2 84.9L345.8 85.5L347.2 86.7L348.3 86.6L350.3 86.2L350.7 86.4L351.1 87.3L351.9 90.3L352.1 90.9L352.6 91.4L353.8 92.2L354 92.2" stroke="#7E2F8E"/>
<path d="M330.3 43.6L330.9 45.4L331.5 47.6L332.1 48.9L333.2 50.3L333.8 51.6L334.4 53.6L335.2 57.2L335.8 59.9L336.2 61.3L336.6 62.3L337 62.7L337.7 62.5L338.7 61.7L340.1 61.3L340.7 60.9L341.1 61.1L341.5 61.9L341.7 62.7L341.9 64.1L342.3 67.3L342.6 68.6L342.8 69.4L343.4 70.5L344.2 70.8L345 71.2L346 72.3L346.8 72.5L349.5 72.4L350.1 73L350.5 73.8L350.7 74.5L350.9 75.5L351.7 80.6L351.9 81.6L352.1 82.3L352.4 82.7L353 83.3" stroke="#D95319"/>
<path d="M330.3 84.5L331.9 85.3L338.1 83.3L340.7 83L344.8 83.3L354.2 83.1" stroke="#0072BD"/>
<path d="M330.3 94.1L332.1 94.5L335 94.1L339.1 92.7L341.3 92.6L346.2 93.1L356.6 92.8" stroke="#A2142F"/>
<path d="M330.3 109.2L331.5 107.6L331.9 107.2L333.2 104.2L334.4 101.1L335.4 99.3L336.2 98.4L337.4 98.2L338.7 97.9L341.3 95.9L346.2 94.1L350.3 93.5L354.2 93.4" stroke="#EDB120"/>
<path d="M330.3 72.7L330.9 70.7L331.3 69.8L331.7 69.5L331.9 69.6L332.8 72.9L333.6 75.6L335 79.2L337.2 83.9L338.1 85L339.1 85.6L339.9 85.5L341.1 84.5L341.7 83.9L342.8 84.1L344.4 83.8L346.2 83.5L348.3 84.4L350.5 84.9L350.9 85.3L351.9 87.6L352.4 88L354.2 88.5L356.6 88.5" stroke="#EDB120"/>
<path d="M330.3 77.8L331.9 77.5L334.6 79L336.6 80.4L338.7 81L341.3 81L342.8 81L345.2 80.1L347 80.4L349.5 81.2L351.5 82.2L352.6 82.6L355.2 82.7" stroke="#77AC30"/>
<path d="M330.3 38.5L330.7 42L331.1 44.8L331.3 45.9L331.5 46.7L331.7 47.3L331.9 47.6L332.5 47.2L333.2 46.6L333.8 46.7L334 46.8L334.4 47.9L335.4 50.7L336.2 52.4L337.2 53.8L339.7 55.5L340.1 56.7L340.7 58.6L341.3 59.9L341.5 60.3L341.7 60.9L341.9 61.9L342.3 64.4L342.6 65.5L342.8 66.1L343.4 67.4L344.8 71.6L345.2 72.3L345.8 72.6L347.2 71.9L349.7 72L350.5 72.5L350.7 73L350.9 73.9L351.3 76.5L351.7 79.4L351.9 80.7L352.1 81.7L352.4 82.2L353.4 83.5L354.2 83.9L355.2 83.9" stroke="#EDB120"/>
<path d="M330.3 92.5L331.3 94.6L331.9 95.4L334.6 92.9L336.4 91.9L341.3 90.8L344.2 90.9L347.9 91L357.7 90.8" stroke="#7E2F8E"/>
<path d="M330.3 45L330.7 50.8L331.1 56.2L331.3 58.6L331.5 60.9L331.7 62.8L331.9 64.3L332.3 63.9L333.2 62.2L333.6 61.9L334 62.4L334.4 63.6L335.2 66.6L335.6 67.7L336 68.3L336.4 68.3L337.2 67.6L338.5 65.5L339.1 64.5L339.5 64.2L339.9 64.4L340.5 65.4L341.1 67L341.5 68.3L341.7 69.2L342.3 72.8L342.6 73.7L342.8 74.1L343.6 74.2L345.2 73.8L346.8 73L347.9 73.3L348.7 74.2L349.5 75.8L350.5 78.3L350.7 79L351.1 80.9L351.7 84L351.9 84.9L352.1 85.5L352.6 85.9L353.6 86.4L356.6 86.4" stroke="#A2142F"/>
<path d="M330.3 29.4L331.3 36.9L331.7 40.4L331.9 42.5L332.8 49.4L333.2 52.3L333.4 53.4L333.8 55.1L334.2 56.1L335.6 57.6L336.6 59.3L337 59.4L337.4 58.8L338.1 57.1L338.7 55.2L338.9 55L340.3 56L340.7 56.5L340.9 57L341.5 59.3L341.7 60.2L342.3 64.2L342.6 65.3L342.8 66L343.4 67.8L344.2 70.8L344.6 71.8L345 72.2L345.6 71.9L346.2 71.3L346.6 71.4L347.2 72.2L348.1 73.7L348.7 74.1L350.3 73.7L350.7 74L350.9 74.5L351.3 76.3L351.7 78.3L351.9 79.1L352.1 79.7L352.6 80.2L353.6 80.6L357.1 80.6" stroke="#4DBEEE"/>
<path d="M330.3 92.4L332.1 92.6L338.3 90.8L344.8 90.2L351.3 90.5L355.2 90.4" stroke="#7E2F8E"/>
<path d="M330.3 86.9L332.1 86.1L334.2 86.2L337.2 87.1L338.9 86.8L342.1 85.5L344.6 85.3L354 85.6" stroke="#A2142F"/>
<path d="M330.3 79.3L331.3 78.5L331.9 77.7L334.2 78L335.8 78.9L337.2 80.6L338.5 81.9L339.5 82.3L341.5 82.5L342.8 83.6L347.2 84.9L351.1 85.9L352.4 86.3L354.8 86.3" stroke="#7E2F8E"/>
<path d="M330.3 52.2L331.3 63.2L331.9 69.9L332.3 70.9L332.8 71.3L333.6 71.4L334 71.9L335.2 74.6L335.6 75L336 74.9L337.7 72.7L339.3 70.9L339.9 70.9L340.3 71.3L341.1 73.1L341.7 74.5L342.3 76.5L342.6 76.9L342.8 77L343.6 76.2L345 74.2L347 72.8L347.7 73L348.3 74L349.5 77.1L350.1 78.1L350.7 78.7L351.1 79.7L351.7 82.3L352.1 83.9L352.4 84.4L353.6 85.6L354 85.9" stroke="#77AC30"/>
<path d="M330.3 37.3L330.7 36.5L330.9 36.5L331.1 36.8L331.3 37.5L331.5 38.5L331.7 40L331.9 41.8L332.3 46.4L333 52.7L333.6 58.5L334 62L334.2 63.4L334.4 64.6L334.6 65.5L334.8 66.1L335 66.5L335.4 66.5L336.2 65.5L337 63.9L338.1 61.1L338.9 58.8L339.7 57.2L340.3 56.4L340.5 56.3L341.3 57.4L341.5 57.8L341.7 58.5L341.9 59.7L342.3 62.4L342.6 63.5L342.8 64.1L344 65.7L344.6 66.3L345.8 67.8L346.6 68L347.9 67.9L348.7 68.4L349.7 69.9L350.5 71.4L350.7 72L350.9 73L351.7 78.1L351.9 79.2L352.1 80L352.4 80.4L353.4 81.2L354 81.4" stroke="#77AC30"/>
<path d="M330.3 69.6L331.7 70.7L332.3 71.9L333.8 75.1L334.4 76L335.2 76.5L337.2 76.1L338.9 75.2L339.7 75.4L341.5 77.4L342.6 79L343.6 79.6L346.4 79.7L348.1 79.3L349.1 79.6L351.7 81.8L353.4 81.8L355.2 81.7L355.4 81.7" stroke="#4DBEEE"/>
<path d="M330.3 77.1L332.1 73.7L333.6 71.8L336 69.4L340.7 65.7L342.8 64.4L343 64.5L344.2 65.9L345.8 66.8L348.5 67.9L349.7 68.9L350.5 70L350.7 70.5L350.9 71.4L351.3 73.8L351.9 77.7L352.1 78.7L352.6 79.8L353.6 82L354.2 82.8L354.8 83.1L356.4 83.1" stroke="#0072BD"/>
<path d="M330.3 32.2L331.7 38.3L333.8 45.9L334.8 49.1L335.8 51.6L336.6 53L337.9 54.3L340.1 55.8L341.1 57.1L341.5 57.8L341.7 58.5L341.9 59.7L342.3 62.4L342.6 63.5L342.8 64.1L344 70.4L344.4 72.1L345.2 74.4L346.2 76.7L347.5 78.6L348.9 80L351.7 82.1L353 83.9L354 85.4L354.6 85.8L355.8 85.8" stroke="#A2142F"/>
<path d="M354.8 83.8L473.4 83.9L534.5 84.1" stroke="#0072BD"/>
<path d="M352.8 83.1L353.6 83.6L355.6 83.7L475.1 83.8L534.5 84.1" stroke="#D95319"/>
<path d="M356.4 88.5L416.1 87.8L515.9 87.4L534.5 87.4" stroke="#EDB120"/>
<path d="M353.8 92.2L368.9 91.9L413.8 91L502 90.1L534.5 90" stroke="#7E2F8E"/>
<path d="M354.4 96L367.5 95.6L402.6 94.4L481.8 93.1L534.5 92.7" stroke="#77AC30"/>
<path d="M352.8 96.7L366.4 96.2L397.3 95.1L460.6 93.9L519.4 93.2L534.5 93.1" stroke="#4DBEEE"/>
<path d="M353.8 85.6L421.8 85.2L534.5 85.3" stroke="#A2142F"/>
<path d="M353.8 96.3L387.7 95L429.7 94L501.4 93L534.5 92.8" stroke="#0072BD"/>
<path d="M353.8 96.2L389.5 94.9L433.6 93.9L503.5 92.9L534.5 92.7" stroke="#D95319"/>
<path d="M355.2 95.5L386.7 94.3L429.7 93.4L502.6 92.4L534.5 92.2" stroke="#EDB120"/>
<path d="M354.6 86.3L429.3 85.8L533.5 85.8L534.5 85.8" stroke="#7E2F8E"/>
<path d="M354.2 93.1L398.1 92L481 90.9L534.5 90.6" stroke="#77AC30"/>
<path d="M357.1 89.8L402.8 89L500.4 88.3L534.5 88.3" stroke="#4DBEEE"/>
<path d="M353.6 80.9L354.4 81L534.5 82.2" stroke="#A2142F"/>
<path d="M355.4 82.3L534.5 83" stroke="#0072BD"/>
<path d="M356.6 84.3L457.3 84.2L534.5 84.5" stroke="#D95319"/>
<path d="M353.6 90.7L382.8 89.9L438.3 89.3L519 88.8L534.5 88.8" stroke="#EDB120"/>
<path d="M354.4 87.9L368.5 87.8L426.1 87.3L522.5 87L534.5 87.1" stroke="#7E2F8E"/>
<path d="M353.8 85.8L354.6 85.9L432.8 85.5L534.5 85.6" stroke="#77AC30"/>
<path d="M354.8 95.9L367.7 95.4L403.4 94.3L483.2 93L534.5 92.6" stroke="#4DBEEE"/>
<path d="M353.4 87.5L354 87.8L419.9 87.2L520.6 86.9L534.5 86.9" stroke="#A2142F"/>
<path d="M354.8 92.5L399.9 91.4L486.9 90.4L534.5 90.2" stroke="#0072BD"/>
<path d="M354.8 82.6L533.7 83.2L534.5 83.3" stroke="#D95319"/>
<path d="M354.2 95.9L394.6 94.5L451.2 93.4L514.3 92.6L534.5 92.5" stroke="#EDB120"/>
<path d="M356.4 85.8L432.4 85.5L534.5 85.5" stroke="#7E2F8E"/>
<path d="M355 82.7L523.9 83.3L534.5 83.4" stroke="#77AC30"/>
<path d="M357.5 94.1L395.6 93L464.3 91.9L526.1 91.4L534.5 91.4" stroke="#4DBEEE"/>
<path d="M355.4 82.3L534.5 83.1" stroke="#A2142F"/>
<path d="M355.4 82.7L526.1 83.3L534.5 83.3" stroke="#0072BD"/>
<path d="M355.6 96.6L392.2 95.2L439.3 94.2L505.9 93.2L534.5 93.1" stroke="#D95319"/>
<path d="M357.3 85.3L448.1 85.1L534.5 85.2" stroke="#EDB120"/>
<path d="M355 90.4L366 90.3L410.6 89.5L505.1 88.8L534.5 88.8" stroke="#7E2F8E"/>
<path d="M355.4 88.7L403.2 88L505.7 87.5L534.5 87.5" stroke="#77AC30"/>
<path d="M354 81.8L534.5 82.7" stroke="#4DBEEE"/>
<path d="M355.6 93.6L366.9 93.2L405 92.3L491 91.2L534.5 91" stroke="#A2142F"/>
<path d="M355.2 91.6L396.1 90.7L481.6 89.8L534.5 89.6" stroke="#0072BD"/>
<path d="M355.8 86.8L422.4 86.3L527.4 86.2L534.5 86.2" stroke="#D95319"/>
<path d="M354.2 91.8L403.2 90.7L494.1 89.8L534.5 89.7" stroke="#EDB120"/>
<path d="M356.6 94.4L400.5 93.1L481.8 91.9L534.5 91.6" stroke="#7E2F8E"/>
<path d="M352.8 85.7L370.1 85.4L453.6 85.2L534.5 85.3" stroke="#77AC30"/>
<path d="M353.4 89.7L398.1 88.9L495.3 88.2L534.5 88.2" stroke="#4DBEEE"/>
<path d="M355.6 83.9L470 83.9L534.5 84.2" stroke="#A2142F"/>
<path d="M352.8 93.2L389.1 92.1L443 91.3L514.9 90.6L534.5 90.6" stroke="#0072BD"/>
<path d="M356.8 89.2L413 88.4L511.2 87.9L534.5 87.9" stroke="#D95319"/>
<path d="M355 83.9L470.6 83.9L534.5 84.2" stroke="#EDB120"/>
<path d="M355.2 88.6L416.3 87.9L515.3 87.5L534.5 87.5" stroke="#7E2F8E"/>
<path d="M355.4 88.6L419.3 87.9L516.7 87.5L534.5 87.5" stroke="#77AC30"/>
<path d="M355 93.1L396.1 92L472.8 90.9L534.3 90.6L534.5 90.6" stroke="#4DBEEE"/>
<path d="M354.6 96.7L367.9 96.2L403 95L481 93.6L534.1 93.1L534.5 93.1" stroke="#A2142F"/>
<path d="M353 81.2L354 81.7L534.5 82.6" stroke="#0072BD"/>
<path d="M353.6 91.7L408.5 90.6L499.6 89.7L534.5 89.6" stroke="#D95319"/>
<path d="M355.8 80.6L534.5 81.9" stroke="#EDB120"/>
<path d="M357.5 90.8L411.6 89.9L504.5 89.1L534.5 89.1" stroke="#7E2F8E"/>
<path d="M353.8 81.4L534.5 82.4" stroke="#77AC30"/>
<path d="M354.6 90.5L390.5 89.7L464.9 89L534.5 88.7" stroke="#4DBEEE"/>
<path d="M356.4 92.8L364 92.7L395.8 91.9L472.4 90.9L534.3 90.5L534.5 90.5" stroke="#A2142F"/>
<path d="M354 83.1L366.9 83.1L510.8 83.5L534.5 83.6" stroke="#0072BD"/>
<path d="M356.6 80L534.5 81.4" stroke="#D95319"/>
<path d="M354.2 97.3L391.6 95.8L435.7 94.8L502.8 93.7L534.5 93.5" stroke="#4DBEEE"/>
<path d="M357.5 91.3L375.2 90.7L424 90L509.8 89.3L534.5 89.3" stroke="#D95319"/>
<path d="M356.8 80.6L534.5 81.9" stroke="#4DBEEE"/>
<path d="M355.2 81.7L534.5 82.6" stroke="#4DBEEE"/>
<path d="M356.2 83.1L500.8 83.5L534.5 83.7" stroke="#0072BD"/>
<path d="M353.8 84.2L460.8 84.2L534.5 84.4" stroke="#0072BD"/>
<path d="M355.6 85.8L432.6 85.5L534.5 85.6" stroke="#A2142F"/>
<path d="M356.4 86.4L427.3 85.9L531.6 85.9L534.5 85.9" stroke="#A2142F"/>
<path d="M354 88.1L399.7 87.5L505.3 87L534.5 87.1" stroke="#77AC30"/>
<path d="M357.5 89.1L413.4 88.3L511.8 87.8L534.5 87.8" stroke="#77AC30"/>
<path d="M356.4 92.8L383.8 92L431.6 91.2L509.4 90.4L534.5 90.4" stroke="#EDB120"/>
<path d="M354 93.4L367.1 93.1L406.1 92.1L492.4 91.1L534.5 90.9" stroke="#EDB120"/>
<path d="M357.1 95.2L396.9 93.9L464.9 92.7L524.5 92.2L534.5 92.1" stroke="#77AC30"/>
<path d="M353 96.3L359.3 96.1L383.6 95.1L423.6 94.1L498.4 93L534.5 92.8" stroke="#77AC30"/>
</g>
<path d="M330.3 7.4H534.5V159.4H330.3ZM371.1 159.4v-2M371.1 7.4v2M412 159.4v-2M412 7.4v2M452.8 159.4v-2M452.8 7.4v2M493.7 159.4v-2M493.7 7.4v2M330.3 134.1h2M534.5 134.1h-2M330.3 108.7h2M534.5 108.7h-2M330.3 83.4h2M534.5 83.4h-2M330.3 58.1h2M534.5 58.1h-2M330.3 32.7h2M534.5 32.7h-2" stroke="#9a9a9a" stroke-width="0.8" fill="none"/>
<g font-size="10" fill="#262626">
<text x="330.3" y="174" text-anchor="middle">0</text>
<text x="371.1" y="174" text-anchor="middle">200</text>
<text x="412" y="174" text-anchor="middle">400</text>
<text x="452.8" y="174" text-anchor="middle">600</text>
<text x="493.7" y="174" text-anchor="middle">800</text>
<text x="534.5" y="174" text-anchor="middle">1000</text>
<text x="326.7" y="12.2" text-anchor="end">3</text>
<text x="326.7" y="37.5" text-anchor="end">2</text>
<text x="326.7" y="62.8" text-anchor="end">1</text>
<text x="326.7" y="88.2" text-anchor="end">0</text>
<text x="326.7" y="113.5" text-anchor="end">-1</text>
<text x="326.7" y="138.8" text-anchor="end">-2</text>
<text x="326.7" y="164.2" text-anchor="end">-3</text>
</g>
<text x="432.4" y="187.7" text-anchor="middle" font-size="11" fill="#262626">The number of iterations k</text>
<text transform="translate(308 83.4) rotate(-90)" text-anchor="middle" font-size="11" fill="#262626">The state of UAV <tspan font-family="'DejaVu Sans',sans-serif" font-style="italic" fill="#707070" font-size="11">ϕ</tspan><tspan font-size="8.2" dy="3.6">i</tspan><tspan dy="-3.6">(k)</tspan></text>
<rect x="426.9" y="12" width="102.9" height="47.8" fill="#fff" stroke="#858585" stroke-width="0.7"/>
<g font-size="9.1" fill="#111" stroke="#111" stroke-width="0.2">
<path d="M429 18.9h18.8" stroke="#0072BD" stroke-width="2.2" fill="none"/>
<text x="449.5" y="22.2">The state of UAV 1</text>
<path d="M429 30.6h18.8" stroke="#D95319" stroke-width="2.2" fill="none"/>
<text x="449.5" y="33.9">The state of UAV 2</text>
<path d="M429 42.3h18.8" stroke="#EDB120" stroke-width="2.2" fill="none"/>
<text x="449.5" y="45.6">...</text>
<path d="M429 54h18.8" stroke="#7E2F8E" stroke-width="2.2" fill="none"/>
<text x="449.5" y="57.3">The state of UAV N</text>
</g>
</g>
<g>
<rect x="37.5" y="229.6" width="202.3" height="148.3" fill="#fff"/>
<path d="M78 229.6V377.9M118.4 229.6V377.9M158.9 229.6V377.9M199.3 229.6V377.9M37.5 353.2H239.8M37.5 328.5H239.8M37.5 303.8H239.8M37.5 279H239.8M37.5 254.3H239.8" stroke="#ececec" stroke-width="0.7" fill="none"/>
<clipPath id="cp3"><rect x="37.5" y="228.6" width="203.3" height="150.3"/></clipPath>
<g clip-path="url(#cp3)" fill="none" stroke-width="1.7" stroke-linejoin="round" stroke-linecap="butt">
<path d="M37.5 338.3L38.3 335.1L38.9 333.4L39.5 332.4L40.3 331.9L41.1 331.5L42.2 330L42.6 329.1L43.8 325.4L45.2 321.5L46.4 317.9L47 316.7L47.6 316.5L48.2 317.1L50 320.9L50.9 321.8L51.7 321.9L52.7 320.8L54.9 317.5L56.9 315.8L58.3 315.2L60.4 315L61.8 313.9L63.2 312.6L64.4 312.5L66 312.7L67.2 311.9L69.7 309.7L71.9 308.6L74.1 308.4L79 309.1L86.9 309L91.1 308.2L100.8 307.5" stroke="#0072bd"/>
<path d="M37.5 353.8L38.3 350.5L38.9 348.7L39.5 347.7L40.3 347.3L41.3 346.9L42.2 345.9L43.2 343.2L45 337.9L46.6 331.9L47.2 330.2L48 328.7L49.4 326.5L50.4 324L51.7 320.7L52.5 319.3L53.3 318.8L54.9 319.2L55.9 318.6L57.5 317L58.3 317L59.3 318L60.6 319.4L61.4 319.7L62.4 319L64.6 316.3L68 313.7L69.7 312.8L72.9 312.3L75.1 311.6L76.7 312.1L78.2 312.7L81.4 311.3L84 309.9L90.5 308.3L101 307.5L109.7 307.2" stroke="#d95319"/>
<path d="M37.5 324.7L38.3 319.9L39.1 315.9L39.9 312.7L41.3 308.4L42 307.1L42.6 306.5L43.8 308.4L45.6 311.7L46.8 313.9L48.2 317L48.8 317.7L49.4 317.7L50.4 316.8L51.9 315.1L52.9 314.7L55.5 315.3L57.9 314.9L59.3 315.7L60.6 316.4L61.4 316L62.4 314.7L63.8 312.4L64.8 311.5L66.8 311.3L68.9 310.9L70.5 309.6L72.7 307.4L74.1 306.8L75.9 307.1L79.2 308.3L81.8 308.3L86.9 307.5L100.2 307.5L106.9 307.3" stroke="#edb120"/>
<path d="M37.5 288L38.5 290.8L39.3 292.3L39.9 292.8L40.5 292.7L41.3 291.7L42.2 290.7L42.8 290.7L44.6 292.5L45.4 292.5L47 291.4L47.8 291.5L49.8 293.1L52.5 293.9L53.9 295.4L55.3 297.1L56.3 297.5L58.1 297.4L59.1 298.1L61.2 300.6L62.4 301.2L64.2 301.8L66.4 303.7L69.3 306.6L70.9 307.5L72.7 307.5L76.5 306.6L82 306.4L87.7 307.5L94.3 306.9L114.4 307.1" stroke="#7e2f8e"/>
<path d="M37.5 344.5L38.1 340.2L38.7 336.6L39.3 333.8L40.1 331L41.1 327.9L42.6 322.6L44.6 317.4L45.6 314L46.6 310.4L47.2 308.8L47.8 307.9L48.8 307.4L50.6 307.7L52.3 308.8L54.9 312.1L55.9 312.6L58.3 311.9L59.6 312.5L61 313.5L62.2 313.3L64 312.7L66.6 313L68.5 312.2L71.9 310.3L77.6 308.9L85.2 308.5L88.7 308.7L96.8 307.7L113.4 307.2L116.2 307.2" stroke="#77ac30"/>
<path d="M37.5 356.2L38.1 350.9L38.7 346.2L39.3 342.5L39.9 339.7L40.7 337.1L42.2 333.4L42.8 332.2L43.8 331.3L45.8 330.6L48.4 329.5L49.2 328.4L50.2 326.1L52.1 320.9L52.9 319.4L53.7 318.7L54.7 319L56.5 320L57.9 319.7L60.6 318.3L63.8 315.1L66.6 313.5L69.1 311.6L74.5 310.1L76.3 310.7L78 311.2L80 310.6L85.8 308.9L95.4 307.8L107.5 307.3L110.9 307.2" stroke="#4dbeee"/>
<path d="M37.5 321.9L38.3 318L39.1 314.8L40.9 309.5L42.2 305.3L42.6 304.3L43.2 304.3L44 305.4L45.2 307.5L46.2 308.4L47.8 309.3L49.2 310.3L50.6 310.3L52.5 310.1L54.5 310.7L55.5 310.2L57.9 307.1L58.9 306.5L61.6 306.6L63.2 306.5L64.4 307.2L66.6 309.2L68.2 309.6L72.7 308.9L75.7 307.8L81 307.7L85.6 307.2L92.1 306.8L98.2 307.3L107.9 307.1" stroke="#a2142f"/>
<path d="M37.5 252.7L39.5 266.1L40.3 270.8L40.9 273.4L41.7 275.5L42.6 276.9L45 276.7L46.6 275.7L47.4 276L49.4 278.6L50.4 279L51.9 279.2L52.7 280.1L53.3 281.4L54.1 284L55.5 289L56.3 291.1L57.1 292.3L59.3 293.9L61.4 296L64.6 297.3L69.3 300.5L71.3 300.9L73.3 301.3L75.3 302.9L77.4 304.6L79 305L82.6 305L88.3 305.5L95.8 306.6L109.9 306.9L110.7 306.9" stroke="#0072bd"/>
<path d="M37.5 330.1L38.9 326.9L40.3 324.6L42 322L43 321.2L44 321.6L45 321.9L45.8 321.3L47.6 319.3L48.8 318L49.6 316.5L51.7 311.2L52.3 310.2L52.9 309.8L53.5 310.1L55.3 312.6L56.1 313L58.5 312.1L60.4 312.3L61.6 311.5L63.2 309.9L64.2 309.6L65.8 310.5L68 311.7L69.7 311.8L71.5 310.9L74.1 309.4L76.1 309L80.2 309.8L82.4 309.4L87.3 307L89.3 306.9L94.3 307.8L103.4 307.4" stroke="#d95319"/>
<path d="M37.5 261.8L38.3 265.2L38.9 267L39.5 268.1L40.1 268.5L40.7 268.1L41.7 266.6L42.4 266.4L42.6 266.4L43.2 268.2L44.2 272.4L45 275.7L45.8 278.3L48.6 284.6L49.4 285.8L50.4 286.4L52.5 286.4L53.7 287.3L56.1 289.9L57.9 291.4L58.9 293L60.6 296.9L61.8 299.6L63 301.4L64.2 302.4L65.2 302.6L66.6 301.8L68.2 300.7L69.7 300.8L72.5 302.1L75.7 302.4L77.8 303.5L80.4 305.3L82.8 305.9L88.5 306.1L99.4 307.1L101.2 307" stroke="#edb120"/>
<path d="M37.5 298.3L39.9 300.8L40.5 301L41.1 300.3L42 298.1L42.8 295.5L43.6 293.6L45.2 291.5L46.4 290.1L47 289.8L47.6 290.2L48.4 291.6L50 295.1L51.7 297.5L52.7 299.1L53.9 302L54.9 304.5L55.5 305.3L56.1 305.6L56.9 305.1L58.3 303.8L59.1 303.9L60.4 305.4L61.4 306.6L62.4 306.9L64.6 306.6L67 307L68.9 306.3L71.5 304.6L72.9 304.4L74.9 305.5L77.6 306.9L81.4 307.6L84.8 307L87.9 306.8L93.9 307.2L99.4 307.2" stroke="#7e2f8e"/>
<path d="M37.5 263.3L38.9 266.4L39.5 267.2L40.1 267.2L40.7 266.4L41.7 264L42.2 263.6L42.6 263.7L43.2 266.3L44.6 274.1L45.2 276.9L45.8 278.9L47.6 283.2L49.6 289.5L50.4 291.3L51.5 292.5L53.5 293.9L55.3 295.8L56.5 296.2L58.3 296L59.3 296.6L61.4 298.6L65 299.8L69.1 301.6L75.1 303.6L78.4 305L83.6 306.2L94.3 306.5L104.9 307L109.3 306.9" stroke="#77ac30"/>
<path d="M37.5 253.9L38.5 260.9L39.3 265.8L40.1 269.9L40.7 272.2L42.6 277.1L44.2 279.1L45 279.3L46.6 278.5L47.2 278.8L48 280.2L49.2 282.6L49.8 283.2L50.6 283.1L52.3 281.4L52.9 281.3L53.5 282L54.1 283.6L55.9 290.2L56.5 291.8L57.3 293.1L60.2 295.2L61.4 295.9L63.6 296.1L66.6 298L71.3 302.7L73.3 304.3L75.1 304.7L77.2 304.3L79.6 303.5L81.4 303.7L85 305.2L96.2 306.4" stroke="#4dbeee"/>
<path d="M37.5 302.7L38.1 299.2L38.7 296.5L39.3 294.7L40.9 291.6L42.6 286.4L43.8 286.4L46 287.4L46.6 288.3L47.2 290.1L47.8 292.8L49 299.2L49.6 301.7L50.2 303.5L50.9 304.5L51.7 304.9L53.9 304.4L55.7 304.5L56.9 303.8L58.3 302.7L59.3 302.6L61.8 304.4L64.8 305.4L68 307.4L69.9 307.6L74.3 306.8L75.9 307.3L78.2 308.6L79.8 308.6L83.4 307.6L88.9 307.3L93.9 307.6L96.2 307.3" stroke="#a2142f"/>
<path d="M37.5 334.8L38.3 330.5L39.1 327.1L39.9 324.5L41.1 321.9L41.7 321.1L42.4 320.8L43.4 321.7L44.4 322.6L45 322.5L45.8 321.4L47 319.3L47.8 318.9L49.4 319L50.2 318.4L52.5 314.9L53.3 314.2L55.7 314.1L58.3 312.3L60.8 311.7L63.6 309.4L65.2 309.1L69.1 309.4L70.7 308.7L72.9 307.1L74.1 307.1L77.4 308.9L79 308.9L82.2 308.3L85.6 308.7L87.7 308.6L91.1 307.6L98.6 307.4L116.2 307.1" stroke="#0072bd"/>
<path d="M37.5 290.6L40.7 298.5L41.3 299.4L42.2 300L42.6 299.8L43.6 297.3L45.6 290.9L46.2 289.6L46.8 289L47.4 289.3L48.2 290.8L49.8 294.5L51.3 296.7L52.9 298.4L55.7 299.9L58.7 301.3L60.4 302.2L61.6 302L63 301.4L64 301.7L66.6 304.1L68.9 304.9L71.5 305.1L74.5 304.1L76.3 304.5L81 306.7L84.2 307L93.1 307.1L102.2 307" stroke="#d95319"/>
<path d="M37.5 268.9L38.9 267.6L40.1 266.4L41.5 263.8L42.2 263.5L42.6 263.8L44.4 272.4L45 274.7L45.6 276.4L46.6 278.2L48.2 279.9L49.4 280.4L50.9 280.7L51.9 281.7L52.9 283.6L54.5 287.5L55.3 288.6L56.1 288.7L57.9 287.2L59.1 288.2L60 289.3L62 294.4L64.8 300.2L66 302L67.2 302.9L69.3 303L71.5 303.1L75.1 304.4L78.8 304.3L85.6 306.3L90.1 305.9L95.6 306.6" stroke="#edb120"/>
<path d="M37.5 240.8L38.3 247.3L38.9 251.5L39.5 255L40.1 257.5L40.7 259.1L41.3 259.8L42.6 261L43.4 262.5L44.6 266.1L45.4 267.7L47 269.7L47.8 271.5L49.4 276L50.4 277.8L51.1 278.6L52.3 279L53.3 280L54.3 281.9L55.1 283.8L56.1 286.8L56.9 288.6L59.3 292L60.8 294.5L61.8 295.4L63.8 295.9L68 299.3L72.5 301.5L78.8 302.3L83.8 304.4L88.9 305L92.5 305.5L100.8 306.4" stroke="#7e2f8e"/>
<path d="M37.5 320.4L38.3 322.2L39.1 323.2L39.9 323.3L40.5 322.7L41.1 321.5L42.2 318.9L43 317.4L43.6 317.1L45 317.8L45.6 317.4L47.6 314.4L49.2 313.3L51.5 312.5L54.1 312.2L55.5 311.1L58.1 308.5L59.6 308.1L61.2 307.8L63.6 306.1L65 306.2L66.8 306.3L70.5 305L71.9 305.3L75.5 307.5L77.4 307.8L81 307L86.1 307.6L96.6 307.1L102.8 307.2L103.9 307.2" stroke="#77ac30"/>
<path d="M37.5 331.7L38.5 330.3L39.3 328.4L40.1 325.7L40.7 323L41.3 319.6L42.4 313.5L42.6 312.4L43 311.3L43.6 310.6L44.2 310.7L45.6 311.8L47.4 312.5L50 315.1L53.7 317.1L54.7 317L55.5 316.1L56.9 313.5L57.9 311.6L58.7 310.8L60.2 310.7L61.4 310.3L63.6 308.2L65 307.9L66.6 307.7L69.3 306.4L71.1 306.3L74.1 307.1L78.2 307L82.4 307.7L86.3 307.4L96 307.7L104.1 307.3L108.5 307.3" stroke="#4dbeee"/>
<path d="M37.5 352.2L40.9 335L41.7 330.8L42.4 328.2L42.6 327.5L43.2 326.7L44 326.7L45 326.9L45.8 326.3L48.6 322.3L50.9 319.5L52.7 318.2L56.3 316.8L58.3 315.8L61 315.9L62.2 315.1L64.6 312.3L66.4 311.1L68.5 310.8L73.5 312L80.6 310.5L89.5 308L100.2 307.4L107.1 307.2" stroke="#a2142f"/>
<path d="M37.5 303.3L39.3 300.4L40.9 297L41.7 295.2L42.4 294.4L42.6 294.3L43.6 295.9L44.8 298.1L45.8 299L47.2 299.9L48.8 301.6L49.6 301.6L51.9 300.3L52.7 300.4L53.7 301.5L55.7 304.5L57.1 305.6L59.1 306.9L60.6 307.7L61.6 307.4L63.8 305.2L64.8 305L66.6 305.9L68.7 306.8L71.3 306.9L74.9 306.4L84.2 307.7L91.1 307.4L96.8 307L107.3 307.2" stroke="#0072bd"/>
<path d="M37.5 350.6L38.3 343.6L38.9 339L39.5 335.1L40.1 332.1L40.9 329.3L41.7 327.1L42.6 325.5L44.2 324.1L45.2 322.6L46.2 320.8L46.8 320.3L47.4 320.6L48.2 322.1L49.4 324.6L50 325.2L50.6 325.3L51.5 324.6L53.7 320.9L55.7 318.7L57.3 317.5L58.3 317.4L60.4 318.4L61.4 318.1L62.6 316.6L64.2 314.2L65.4 313.3L67.6 312.9L69.9 312.6L72.9 310.8L74.5 310.9L78 312.1L79.4 311.6L83.4 308.6L85.6 307.8L90.7 307.5L104.7 307.4L116 307.1" stroke="#d95319"/>
<path d="M37.5 346.8L38.9 340.1L39.9 336.2L42.6 328.6L44.4 324.3L45.2 321.7L46.8 315.6L47.6 313.5L48.4 312.2L49.4 311.5L50.4 311.5L51.5 312.6L52.7 315L53.9 317.5L54.7 318.5L55.5 318.6L56.5 317.9L61.6 311.5L62.8 310.8L64 311.1L66 312.2L67.4 312L72.1 310.1L74.7 309.6L79.2 309.5L84.8 308.9L87.7 308.7L91.5 307.7L99.2 307.7" stroke="#edb120"/>
<path d="M37.5 327.1L38.3 322.7L38.9 320.2L39.5 318.4L40.3 316.9L41.7 315.1L42.6 314.8L44.4 315.7L45 315.3L45.8 314L47 311.4L47.6 310.7L48.4 310.6L51.5 312.4L54.7 313.5L55.7 313.2L56.7 312.1L58.5 309.3L59.6 308.6L63.8 308.7L66.2 309.3L69.3 309L72.9 309.3L78.2 309.6L82.4 308.5L85.4 307.8L90.5 307.5L98.2 307.5" stroke="#7e2f8e"/>
<path d="M37.5 316.1L38.3 312.9L39.1 310.6L39.9 309.2L41.3 308.4L42.2 308.5L43.2 309.6L45.2 312.4L46.4 313.8L47.4 315.8L48.4 318L49 318.6L49.6 318.6L50.4 317.5L52.7 312.5L53.7 311L56.7 307.9L58.3 306L59.6 305.4L63.4 305.6L65.2 306.6L67.2 307.9L69.1 308L72.9 307.4L76.5 307.8L79 307.8L88.5 307L91.9 306.8L97.2 307.1L108.3 307.1" stroke="#77ac30"/>
<path d="M37.5 279.6L38.7 282L40.5 286.7L41.1 287.6L42.2 287.8L43.8 286.9L45 287.3L46 288.2L46.6 289.3L47.2 291L48.2 294.8L49.2 298.7L50 301L50.9 302.3L51.7 302.7L52.7 302.3L54.5 300.3L57.7 296L58.7 295.5L59.8 296L63.4 300.5L65.4 303.4L66.6 304.4L68.7 304.7L73.9 304.2L77.6 305.5L81.6 305.3L97 307.4L109.7 307" stroke="#4dbeee"/>
<path d="M37.5 275.2L39.3 280.7L40.1 282.5L40.7 283.1L42 283L42.6 283.6L43.2 285L44.6 289.8L45.2 291.1L45.8 291.5L46.6 290.8L48 289.2L51.1 287.5L52.1 287.6L52.9 288.4L53.9 290.5L55.5 294.5L56.3 295.8L57.5 296.7L58.9 297.7L60.8 299.7L61.8 299.9L63.8 299.4L65.2 300L67.8 301.9L69.5 302.2L72.1 301.9L73.9 302.7L76.9 304.5L83.6 306.8L88.3 307L97.2 306.9L101.2 306.9" stroke="#a2142f"/>
<path d="M37.5 365.8L38.1 359.1L38.5 355.2L38.9 351.9L39.3 349.1L39.7 347L40.1 345.5L40.7 344.2L41.5 343.4L43.2 343.3L44.8 340.9L46 338.2L47 336L48 334.7L49.4 333.2L50.9 330.8L51.3 329.4L52.1 326.5L52.7 325L53.3 324.1L54.1 323.8L56.3 324.2L56.9 324L58.1 322.4L59.3 321.6L61 321L61.6 320.4L63.2 317.8L64.4 316.7L68.2 315.2L70.9 314.9L72.1 314.2L74.5 311.9L75.9 311.4L78.6 311.5L82.2 310.5L88.1 309.8L93.1 308.8L99.4 307.9L99.8 307.8" stroke="#0072bd"/>
<path d="M37.5 312.1L39.1 311.9L39.9 312.4L40.5 313.4L41.3 315.6L42 318.1L42.6 321.2L43.2 322.6L43.8 323.3L44.4 322.9L45 321.5L45.6 319.2L46.8 314.1L47.4 312.2L48.2 310.5L51.1 306.2L52.1 305.3L53.1 305.4L54.7 306.1L55.7 305.8L58.1 302.9L59.1 302.5L60.6 303L63.2 305L65.4 307L66.8 307.5L70.9 307L74.1 306.4L79.4 307.2L90.7 307L95.8 307.4L104.1 307.2" stroke="#d95319"/>
<path d="M37.5 361.4L40.3 341.4L41.5 333.5L42.2 330.4L42.6 329L43.2 329L44 330.1L45.2 332.3L46.4 333.3L48 333.8L48.8 333.3L49.6 331.7L51.5 326.7L52.3 325.2L53.1 324.5L55.1 324.6L55.9 323.9L57.1 321.8L58.5 319.1L59.8 317.7L62.4 315.7L64 314.5L67 314L69.9 312.6L73.9 312L76.1 311.5L79.2 311.9L82 310.8L84.4 310L87.7 309.7L91.7 308.5L98.2 307.8L110.7 307.3" stroke="#edb120"/>
<path d="M37.5 269.9L38.1 275.5L38.5 278.5L38.9 281L39.3 282.8L39.9 284.6L40.5 285.5L41.7 285.8L42.4 286.7L43.2 288.2L44.8 292.5L45.6 293.7L47 295L48.8 297.8L49.4 298.1L50.2 297.7L52.3 295.1L53.3 294.8L55.3 295.1L56.7 294.2L57.9 293.5L58.7 293.9L59.6 295.2L61 298.2L61.8 299.2L63 299.7L64.6 300.3L67.6 302.7L70.5 303.7L75.1 304.2L79.2 306L81.6 306L85.8 305.4L93.7 306.6L101.2 306.8L103.2 306.8" stroke="#7e2f8e"/>
<path d="M37.5 367.1L38.3 361.7L39.3 356L39.9 353.1L41.3 348.3L42.6 344.8L43.6 342.8L45 340.6L45.6 339.1L46.8 332.5L47.4 329.9L48 328L49 325.8L50.9 322.9L52.1 321.7L53.1 321.6L54.1 322.4L55.9 324.4L56.3 324.7L56.7 324.3L58.1 322.4L59.3 321.6L61 321L62.8 319.1L64.2 317.8L66.2 316.9L68.7 314.3L74.1 310.5L76.3 310L78.2 309.4L80.2 308.6L82.4 309L85 309.3L93.1 308.1L110.3 307.3" stroke="#77ac30"/>
<path d="M37.5 278.5L38.3 277.9L39.1 278.1L40.7 279.6L41.5 279.3L42.6 278.9L43.4 280.3L45.4 285.6L46.4 287.2L48.2 289.6L49.8 292.1L51.1 293.3L53.1 294.5L54.1 295.8L55.7 298.6L56.7 299.5L58.7 300L60.2 301.5L61.2 302.5L62.2 302.7L64.8 301.4L66.6 301.4L74.9 305.5L76.9 305.7L80.6 305.3L85.8 306.1L91.3 306.2L102.8 306.9" stroke="#4dbeee"/>
<path d="M37.5 341.2L38.3 336.4L38.9 333.6L39.5 331.5L40.1 330L42.2 326.8L44.2 324.4L45 322.7L45.8 320.2L47.2 315.2L48 313.1L49 311.4L50.2 310.2L51.9 309.9L54.1 309.7L56.5 309L58.5 309.5L60.2 309.9L61.8 309.2L63.2 308.7L64.4 309.2L66.6 310.9L68 311.2L70.1 310.4L72.5 309.4L74.7 309.5L78 310.5L79.8 310.1L83.2 308.9L88.3 308L91.1 307.7L100.2 307.8L106.9 307.3L107.5 307.2" stroke="#a2142f"/>
<path d="M37.5 307.3L38.1 311.1L38.7 314L39.3 315.9L39.9 316.8L40.5 317L41.1 316.3L42.4 314.2L42.6 314L43.2 312.7L44 312.1L45 311.6L45.8 310.3L47.2 307.4L48 306.6L49.8 305.7L51.9 303.6L52.7 303.4L53.7 304.1L55.1 305.7L55.9 306L56.9 305.5L58.3 304.3L59.1 304.3L60.2 305.4L62.2 308.4L63.8 309.9L65.2 310.5L66.6 310.1L68.9 308.8L71.1 308.7L72.7 308.4L74.9 307.3L76.3 307.5L78.2 308.2L79.6 307.8L81.8 306.8L83.6 306.8L86.7 307.6L94.5 307.5L102 307.2L103.2 307.2" stroke="#0072bd"/>
<path d="M37.5 289.7L38.7 289.2L40.5 289.2L41.3 288.5L42.4 287.8L42.6 287.7L43.8 289.3L45 291L47 291.7L47.8 292.8L49.8 296.9L50.9 298.3L52.1 299L55.3 299.5L57.5 298.7L58.3 299L59.3 300.3L60.6 302.1L61.4 302.4L62.6 301.7L63.8 301L64.8 301.4L67.4 303.5L69.7 304.1L75.3 305.3L82.8 306.2L98.8 307L110.1 306.9" stroke="#d95319"/>
<path d="M37.5 246.2L38.3 252L38.9 255.7L39.5 258.7L40.1 260.8L40.7 262L42 262.5L42.6 263.3L43.2 265L45 271.9L45.8 274.1L47.6 277.9L49.4 282.7L50.4 284.5L52.7 287L53.7 289L55.1 292.5L55.9 293.8L56.7 294.3L58.7 294.2L60 295L62 296.7L63.2 297.8L65.6 301.2L67 302.2L69.1 302.5L72.1 301.8L73.9 302.4L79.8 305L82.6 305.4L89.5 306.3L96.2 306.9L97.6 306.9" stroke="#edb120"/>
<path d="M37.5 267.7L38.3 273.3L38.9 276.8L39.5 279.6L40.1 281.7L40.7 283L42.2 284.4L43.4 286L44.6 288.2L45.2 288.8L46 288.6L47 288.1L47.8 288.5L49.8 291.5L50.6 292L51.9 291.5L52.9 291L53.7 291.3L54.7 292.7L56.1 295.1L57.1 295.9L59.3 296L63.4 298.9L65.6 300.7L68.7 302.4L70.3 303.2L71.9 303.1L74.1 302.4L76.1 302.8L82 305.7L84.6 306.2L89.7 306L97.4 306.9L110.5 306.9L113 307" stroke="#7e2f8e"/>
<path d="M37.5 248.4L38.3 254.6L38.9 258.6L39.5 261.9L40.1 264.3L40.7 265.9L41.3 266.4L42.8 267.3L43.8 269L44.8 270.9L45.6 271.6L47.2 272.2L48 273.1L49 275L49.8 276.9L50.6 278L51.7 278.9L52.5 280.4L53.3 282.8L54.3 286.8L55.3 290.8L55.9 292.7L56.5 294L57.3 294.8L58.9 295.8L60.4 297.8L61.6 299.3L63 300L67.4 301L70.7 302.7L72.3 302.8L74.5 302.4L81 303.7L83.8 304.4L90.3 306.3L98 306.9L111.1 306.9L112.6 307" stroke="#77ac30"/>
<path d="M37.5 265.7L38.1 271.4L38.7 276.2L39.1 278.7L39.7 281.6L40.3 283.6L40.9 284.7L41.7 285.6L42.4 286.8L42.6 287.3L43.2 288.3L44.6 291.6L45.2 292.3L45.8 292.3L48.2 290.5L49.8 289.1L51.1 288.1L51.9 288L52.7 288.8L54.3 291.7L55.3 293.3L56.5 294.3L58.3 295.2L60.8 297.7L61.8 297.9L63.6 297.7L65.2 298.7L69.5 301.7L75.3 304.6L77.4 304.6L79.8 304.5L85.8 306L89.7 306.3L94.1 306.9L96 306.9" stroke="#4dbeee"/>
<path d="M37.5 304.2L38.3 301.7L39.1 300.1L39.9 299.4L41.7 299.1L42.6 299.7L44 302L44.6 302.4L45.2 302.2L46.6 300.7L47.2 300.8L47.8 301.7L49.4 305.1L50.4 306.3L52.5 307.8L54.3 309.7L55.1 309.9L56.1 309.2L57.7 307.5L58.7 307.3L60.6 308.2L61.4 308L63.4 305.9L64.4 305.7L66.6 306.9L68.9 306.7L74.3 306.3L78.6 307.4L83 306.6L87.9 307.1L94.3 307.4L113.2 307.1" stroke="#a2142f"/>
<path d="M37.5 309.2L38.3 305.6L39.1 302.7L40.1 299.9L41.5 296.5L42.2 295.7L42.6 295.6L43.8 298.8L44.6 300.8L45.2 301.7L46 302.1L47.2 302.4L48 303.4L49.6 306.1L50.4 306.7L51.9 306.5L52.9 306.5L53.9 307.5L55.3 309.3L56.1 309.7L57.1 309.1L58.7 307.6L60.2 307.4L61.4 307.2L63.6 305.7L64.8 305.7L67.8 306.8L69.9 306.9L71.5 306L73.3 304.8L74.7 304.8L77.8 305.9L81.6 306.7L84 306.7L87.7 306.6L98.8 307.2L112.6 307.1" stroke="#0072bd"/>
<path d="M37.5 328.3L38.3 325.5L39.1 323.5L40.1 322.1L40.9 321L42 318.6L44.4 310.9L46.4 303.1L47 301.5L47.6 300.7L48.2 300.6L50.6 302.3L52.3 303.1L53.1 304.2L54.1 306.4L55.3 309.2L56.1 310.3L56.9 310.3L59.3 308.1L63.2 307.2L64.4 307.8L66.4 309.4L67.8 309.7L70.1 309L73.7 306.9L75.5 306.7L78.2 307.5L81 308.9L83 308.8L91.1 307.6L99.4 307.4L117 307.1" stroke="#d95319"/>
<path d="M37.5 306.3L38.3 303.6L39.3 301.2L40.9 298L41.7 296.1L42.4 295.3L42.6 295.2L44.4 298.5L45 299L45.6 298.7L47 297.3L47.8 297.3L50 299.5L52.7 300.6L53.7 301.8L55.3 304.2L56.3 305L58.9 305.1L61.2 306.3L62.8 306L64.2 305.8L65.8 306.6L68 308L69.5 308L72.9 306.3L75.7 306.3L81.8 306.2L86.5 306.4L89.9 306.4L95.4 307.2L103 307.2L113 307.1" stroke="#edb120"/>
<path d="M37.5 273.3L38.3 276.5L38.9 278.3L39.5 279.6L40.3 280.4L41.1 280.2L41.7 279.8L42.4 280L42.8 280.6L44.6 285.1L45.4 286.4L46.8 287.8L47.6 289.4L49.4 294.6L50.2 296.2L51.3 297.1L53.1 298L55.3 300.2L56.3 300.2L58.3 298.8L59.1 298.8L60.6 300.1L61.8 301L64 301.6L66.6 303.3L68.9 303.7L75.1 303.2L77.4 304L80 305.5L82.4 305.7L86.9 305.9L94.8 306.7L97.8 306.7" stroke="#7e2f8e"/>
<path d="M37.5 250.9L38.1 257.7L38.7 263.7L39.3 268.5L39.9 272.3L40.5 275L41.1 276.7L42.6 279.5L44 279.2L44.8 278.2L46.2 275.1L46.8 274.4L47.2 274.5L47.8 275.7L48.6 278.5L49.6 282.3L50.2 284L51.1 285.3L52.3 286.1L53.5 286.9L54.7 288.6L56.1 290.8L57.5 291.9L58.9 292.9L61.4 296.2L63 297.3L67.4 299.5L71.5 302.2L74.1 303.1L78.6 304L82 305L87.3 306L93.5 306.6L103.4 306.8" stroke="#77ac30"/>
<path d="M37.5 323L38.5 324.9L39.9 326.6L40.9 327.2L42.6 327.1L43.4 325.5L45 323.3L47.2 318.3L49 315.2L50.9 311.2L51.7 310L52.5 309.7L53.3 310.2L55.1 312.3L56.1 312.6L57.5 311.9L60.6 310L62.8 307.5L63.8 307.1L66.6 307.5L72.7 306.2L74.7 306.6L78.6 308.6L80.8 308.6L85.4 308.1L92.7 308.1L96 307.8L99.8 307.4" stroke="#4dbeee"/>
<path d="M37.5 364.9L38.1 363.3L38.3 362.3L38.9 358.2L39.5 354.9L40.1 352.4L42.2 345.9L43.2 343.5L44.2 341.8L46.6 332L47.6 328.8L49.4 323.9L51.3 318.4L52.1 316.5L52.9 315.4L53.9 315L57.7 315.8L60.2 317.3L61.2 317L62.4 315.5L63.8 313.7L64.8 313.2L67.6 313.3L71.7 311.8L75.1 311.2L77.4 311.1L79.6 311L82 309.7L84 308.7L98.2 308L107.1 307.3L116 307.2" stroke="#a2142f"/>
<path d="M37.5 326.5L38.3 328L39.3 329L40.5 329.1L41.3 328.4L42.6 327L43.4 324.9L45.2 321.7L46.8 318.2L47.6 317.2L50 315.6L51.7 314.5L52.7 314.6L54.7 316.4L55.5 316.3L56.3 315.2L57.3 312.8L58.7 308.9L59.6 307.4L60.6 306.4L62.4 305.8L63.8 306.1L66.6 307.7L70.3 308L72.7 307.3L74.5 307L76.5 307.7L78.6 308.4L82.2 308.3L85.8 307.3L91.7 307.6L101 307.4L103.7 307.2" stroke="#0072bd"/>
<path d="M37.5 343.1L38.5 341L40.5 336L42.2 332.3L43.4 330.2L45.2 328.6L46.4 326.3L48 323.2L50 319.7L52.3 315.3L53.3 314.1L54.3 313.8L56.1 313.8L58.3 312.9L59.8 313.4L61.2 313.9L62.8 313.3L66.4 311.6L69.1 309.8L73.5 308.4L75.7 308.4L78.6 309.1L84.2 308.3L95.4 308.1L97.6 307.9" stroke="#d95319"/>
<path d="M37.5 272.7L38.5 273.7L40.1 276.1L40.7 276.3L41.3 275.9L42.6 274.8L43.6 276L46 280.2L46.6 281.9L47.2 284.3L48.2 289.6L49 293.8L49.6 296L50.2 297.4L50.9 297.8L51.9 297.4L53.1 296.8L54.1 297.2L55.7 298.5L56.7 298.6L58.5 297.9L59.6 298.4L61.4 299.9L64.2 300.4L65.6 301.6L68 304.5L69.3 305.2L70.9 305L72.9 304.6L77.4 305.5L82.4 305.4L86.7 306.4L92.5 306.3L96.6 306.7" stroke="#edb120"/>
<path d="M37.5 335.5L38.3 332.4L38.9 330.8L39.5 329.9L41.1 329.2L42.6 327.6L44.8 323.6L45.8 320.7L46.6 318.5L47.2 317.4L47.8 317.1L48.8 317.7L50.2 318.9L51.7 319.1L54.5 318.2L55.5 317.1L56.9 314.5L58.1 312.3L58.9 311.7L59.8 311.8L61.8 313.3L62.8 313.4L64.4 312.2L67.2 310L69.3 309.3L71.7 309.3L76.7 310.9L78.6 311.3L89.3 308.2L92.9 307.8L112.4 307.2" stroke="#7e2f8e"/>
<path d="M37.5 324.3L38.3 319.6L38.9 316.8L39.7 313.7L40.9 309.7L42 305.9L42.6 304.3L43.2 304.8L44 306.4L45 308.7L45.6 309.5L46.8 309.7L48 310L49.8 310.8L54.1 310.4L55.3 309.4L57.3 306.8L58.1 306.4L59.1 306.9L60.6 308.2L61.6 308.4L64.2 307L68.5 306.5L71.9 306.4L75.3 306.8L78.2 307.6L84.8 307.5L88.5 307.5L93.1 307.2L103.7 307.3L113.6 307.1" stroke="#77ac30"/>
<path d="M37.5 358.6L38.1 351.6L38.7 345.3L39.3 340L39.9 335.6L40.5 332.2L41.3 328.6L42 326.7L42.6 325.5L44.4 327.4L45.2 327.6L47.2 326L49.2 325.7L50.4 324.7L52.1 323L53.1 322.8L54.5 322.9L55.3 322.2L56.5 320.2L57.7 318.1L58.7 317.1L61 315.9L63.2 313.9L66 312.6L68 311.2L69.5 311.1L72.1 312L73.9 311.6L76.1 310.9L79.6 311L84.8 309.4L89.1 308.6L92.5 308.2L98 307.9L105.3 307.3L109.7 307.2" stroke="#4dbeee"/>
<path d="M37.5 291.7L38.9 296.7L39.7 298.9L40.3 300.1L40.9 300.6L42 299.9L42.8 299L43.6 298.4L45.4 298.3L46.8 297.7L47.6 298.3L49.6 301.6L50.4 302.2L51.5 302L52.9 301.4L53.7 301.7L55.7 304.1L56.5 304.3L58.7 303.2L59.8 303.6L61.8 305.2L65.2 306.5L66.6 306.3L69.3 305.2L72.9 304.6L74.5 305.2L76.7 306.4L78.4 306.4L82.2 305.5L84.4 305.8L87.7 306.7L103.7 307.1L105.5 307.1" stroke="#a2142f"/>
<path d="M37.5 349L40.7 336.2L42 330.6L42.6 328.5L43.2 327.5L44.2 327.2L45 326.8L45.8 325.5L47 322.9L47.8 322L48.6 321.9L50.2 323.1L51.9 324.4L52.9 324.5L53.9 323.6L56.3 319.8L57.3 318.9L58.5 318.8L60 319L60.8 318.5L61.8 316.9L63.4 313.5L64.4 312.1L67.8 310.2L70.5 308.4L72.3 308L75.3 308.7L77.8 309.3L81.4 308.7L87.1 308.9L91.9 308.2L101.8 307.5L106.3 307.3" stroke="#0072bd"/>
<path d="M37.5 247.9L38.1 254L38.7 259.1L39.1 261.9L39.5 264.1L39.9 265.8L40.5 267.5L41.1 268.1L42 268.3L42.8 269.4L43.4 270.7L45 275.6L45.6 276.8L46.4 277.6L48.4 277.8L50.2 277.6L51.9 278.9L52.7 280.8L53.5 283.5L55.1 290.1L55.9 292.6L56.7 294.2L57.9 295.2L59.1 296.3L61.2 299.3L62.2 299.9L64.4 300.5L69.9 303.3L71.5 303.2L74.1 302.5L76.7 302.8L81.6 304.7L86.3 305.1L88.9 305.4L92.3 306L107.7 306.9L112.1 307" stroke="#d95319"/>
<path d="M37.5 264.3L40.1 273.8L40.7 275.4L41.5 276.5L43.6 279.4L44.6 280.8L45.4 281.2L46.6 281.2L47.4 282L48.2 283.7L50 288.5L51.3 291L52.7 292.9L54.1 294.1L55.3 294.2L57.5 293L58.3 293.3L59.1 294.3L61.2 298.3L62.2 299.7L64 300.8L66.4 301.4L70.5 302.4L73.3 302.5L78.8 304.8L82.2 305.6L90.9 306.2L94.1 306.3L98.4 306.8L102.2 306.8" stroke="#edb120"/>
<path d="M37.5 314.9L38.9 309.3L39.9 305.9L40.9 303.5L41.5 302.4L42.2 302.2L42.6 302.4L44.2 306.4L44.8 307.4L45.4 307.7L47 307.4L48.2 308.4L49.2 309.1L50.2 309L52.3 307.6L53.3 307.8L55.3 308.9L58.1 308.8L60.2 309.6L61.2 309.1L63.6 306.2L64.8 305.8L68.7 306.3L72.3 305.4L79.6 307.5L84.2 307L87.9 307.1L91.5 306.9L95.8 307.3" stroke="#7e2f8e"/>
<path d="M37.5 249.6L38.3 256.7L39.1 263L39.7 267.1L40.3 270.4L40.7 272L41.1 273.1L42 274.1L42.6 274.3L43.6 273.5L45.4 273.1L47 272.1L47.8 272.3L48.2 272.7L49.4 276L50.2 277.5L51.3 278.4L52.1 278.9L52.5 279.8L53.7 284.1L54.9 288.5L55.7 290.6L56.5 291.9L58.9 293.9L60.8 296L61.8 296.4L63.6 296.3L65 297.2L68 300.2L69.5 300.8L72.9 301.3L75.9 302.9L79 304.5L83.6 305.7L86.5 306.3L96.2 306.7L110.1 306.9" stroke="#77ac30"/>
<path d="M37.5 296.8L38.3 297L38.9 297.9L39.5 299.4L40.7 303.4L41.3 304.7L42.2 305.6L42.6 305.7L44 303.7L45.8 301.7L46.8 300.6L47.6 300.7L49.4 302.4L50.2 302.3L51.1 301.4L52.9 297.7L53.5 297.1L54.1 297.2L54.9 298.3L56.5 301.4L57.3 302.3L58.5 302.5L62 302L63.4 301.9L64.8 302.9L66.8 304.6L68.2 305.1L69.7 304.8L72.1 303.4L73.3 303.5L75.1 305.1L77.6 307.1L79.8 308L81.8 308.1L86.1 307L90.3 306.8L95 307.4L105.1 307.1" stroke="#4dbeee"/>
<path d="M37.5 368.3L38.5 360.8L39.1 357.1L39.7 354L40.3 351.7L42.2 345.9L43.2 343.5L45 340.6L46.8 336.3L47.8 334.9L49.4 333.2L52.1 328.9L52.7 328.2L53.7 325.4L54.9 323.1L57.7 318.5L58.7 317.6L62.6 316.4L64.2 316.9L65.4 317.3L66.4 316.9L68.9 313.9L70.1 313.4L72.5 312.9L74.9 312L78.2 312.1L80 311L82.2 309.6L84.6 309L88.1 308.8L92.3 308.1L97.2 308.1L102.6 307.8" stroke="#a2142f"/>
<path d="M37.5 293.1L38.7 296L40.1 298.6L41.7 300.6L42.4 302L43.6 305.1L44.8 308.6L45.4 309.8L46.2 310.5L48 310.5L49 309.9L50 308.5L52.1 304.6L52.9 303.8L53.7 304L55.7 306.4L56.5 306.7L58.7 305.6L59.8 305.9L61.6 307.1L62.8 306.9L67.2 304.1L68.7 304.1L72.1 306L73.7 306L76.5 305.6L85.2 306.8L88.1 307.3L92.7 307.1L97.4 307.4" stroke="#0072bd"/>
<path d="M37.5 283.2L38.1 286.2L38.7 288.5L39.3 289.9L39.9 290.5L40.5 290.3L41.1 289.2L42.2 287L42.6 286.4L43.2 286.5L45 288.7L46 288.9L47 289L47.8 289.7L49.6 292.4L50.6 293L52.5 293.2L53.5 294.1L55.5 297.3L56.5 298L58.1 298.7L59.1 299.9L61 303L62.2 304.1L65 305.7L67.8 307.3L69.7 307.6L72.7 307.2L75.9 307.8L78.2 307.1L80.8 306.4L84.8 306.2L88.1 305.9L90.7 306L100.4 307L112.6 307.1" stroke="#d95319"/>
<path d="M37.5 333.6L38.3 327.8L39.1 322.7L41.7 308.3L42.4 305.8L42.6 305.2L43.2 305.8L44.6 308.6L45.2 309.2L46 309.2L47.2 309L48 309.5L50.6 313.1L52.3 314.4L53.9 314.8L55.1 314.2L56.5 312.5L58.5 309.6L60.6 307.8L62.4 306.8L63.4 307.1L65.8 309.3L67 309.6L69.5 309.4L72.3 310.1L76.3 309L83.8 307.8L88.1 307.7L91.9 307.2L102.2 307.4L105.7 307.2" stroke="#edb120"/>
<path d="M37.5 293.6L38.7 290.9L39.9 288.9L41.3 287.6L41.7 287.5L42.4 288.3L42.6 288.7L44 293.8L44.6 295.5L45.2 296.6L47 298.1L48.2 300.2L49 301.6L49.8 302.2L52.1 301.8L53.5 302.5L54.7 303.1L55.7 302.6L57.7 300.6L58.5 300.5L59.3 301.2L61.2 303.8L62.2 304.4L66.4 304.3L71.3 303.3L73.5 303.7L78.4 306.4L81.2 306.9L87.9 307.3L102.6 307.1" stroke="#7e2f8e"/>
<path d="M37.5 257.3L38.3 261.1L38.9 263L39.5 264L40.1 263.9L40.7 262.9L41.5 260.9L42 260.4L42.4 260.6L42.6 260.9L43.2 264.2L44.8 275L45.4 278.2L46 280.7L47.2 284.4L48.6 288L49.6 289.8L50.6 290.6L53.5 291.4L55.9 293.3L56.9 293.3L58.9 292.5L60.4 293L63 294.4L64 295.7L66.8 300.9L68 302.4L69.1 302.8L70.9 302.4L72.3 302.2L73.7 302.9L76.1 304.7L78 305.1L85.2 305.4L90.3 306.2L94.3 306L95.2 306.1" stroke="#77ac30"/>
<path d="M37.5 299.3L38.7 300.7L39.7 301L40.5 300.6L42 298.3L42.6 298L43.2 298.5L44.8 301.5L45.4 302L46.2 301.7L47.8 300.7L50 300.7L51.7 301.4L54.5 304.3L55.5 304.6L57.9 303.4L58.9 303.8L61.2 306.1L64 306.9L66.4 308.6L67.8 308.6L70.5 307.5L72.5 306.6L74.1 306.7L77.6 307.8L81.8 307.7L86.1 306.9L98 307.1L102.6 307.2" stroke="#4dbeee"/>
<path d="M37.5 267.3L39.1 268.5L41.5 268.9L42.6 270.3L43.4 272.7L44 273.8L44.6 274.1L45.4 273.4L46.2 272.4L46.8 272.4L47.2 273.1L47.6 274.3L48.2 277.1L49.6 284.7L50.2 287.3L50.9 289.2L51.7 290.8L53.1 293.1L54.1 295.6L55.3 298.8L55.9 299.8L56.7 300.4L58.9 299.5L60 300.1L61.8 302L63 302.3L66 301.7L67.4 302.4L69.5 303.8L70.9 304L73.3 303.8L74.9 304.5L77.6 306.2L79.4 306.5L83.6 305.7L88.3 306.7L93.1 306.1L99.4 306.8L112.8 307" stroke="#a2142f"/>
<path d="M37.5 311.3L38.1 308.4L38.7 306.3L39.3 305L40.1 304.3L41.1 303.6L42.6 302.1L43.4 302.6L44.4 304.2L46.6 308.6L48 311.9L48.6 312.8L49.2 313.1L49.8 312.6L51.7 309.8L52.5 309.4L53.7 310.1L54.7 310.6L55.7 310.3L57.7 308.6L58.9 308.5L60.6 308.7L62 307.9L64.2 306.2L66.2 305.6L70.3 306.2L72.5 306.6L75.1 307.5L77.8 307.4L81 307L86.3 306.8L89.3 306.6L93.5 307L107.9 307.1" stroke="#0072bd"/>
<path d="M37.5 362.7L38.5 358.8L39.1 357L39.9 353.1L41.3 348.3L42.6 344.8L43.6 342.8L45 340.6L46 338.2L47.2 333.8L50 325.5L51.1 323.2L52.7 320.8L55.5 316.9L56.7 316L58.1 316L59.8 316.3L60.6 315.8L61.8 313.9L63 312L64 311.4L66.4 311.8L67.8 311L70.5 309.1L72.1 308.7L75.9 309.5L80.8 309.9L85.2 309.1L88.7 308.9L93.3 307.9L100.4 307.5L104.7 307.4" stroke="#d95319"/>
<path d="M37.5 252.1L38.3 258.4L38.9 262.5L39.5 265.8L40.1 268.4L40.7 270.1L41.3 271.1L43.4 274L45.6 278.6L46.6 280.7L47.4 283.2L48.8 288.2L49.4 289.6L50 290.2L50.6 290L51.5 288.6L52.9 285.3L53.7 284.2L54.5 284.1L55.7 285L56.7 286.4L58.9 288L60 290L61.2 292.4L62.4 293.7L64.2 295.3L67.6 299L69.5 300.3L72.3 301.7L75.7 304.2L77.8 304.7L80.8 305.2L83.8 305.7L88.7 305.4L95.6 306.6L108.1 306.9" stroke="#edb120"/>
<path d="M37.5 340.1L38.1 333.5L38.7 327.9L39.3 323.3L39.9 319.7L40.5 316.9L41.3 313.9L42 312.2L42.6 311.2L44 313.2L44.8 313.5L45.8 312.8L46.8 311.9L47.6 312L49.4 313.2L50.9 313L52.7 312.4L54.1 313.1L55.5 313.8L56.9 313.3L58.1 312.8L59.1 313.2L61.2 315.1L62.4 315.4L66.2 313.7L68.9 311.6L70.9 311.1L73.3 310.5L75.7 309.6L79.4 309.8L85.2 308.3L89.1 308L93.3 307.5L116.6 307.1" stroke="#7e2f8e"/>
<path d="M37.5 363.6L38.7 358.1L39.3 356L39.9 353.1L41.3 348.3L42.6 344.8L43.6 342.8L45 340.6L46.8 336.3L47.8 334.9L49.4 333.2L51.3 330.1L51.5 329.5L52.7 324.4L53.5 321.8L54.3 320.1L55.3 319L58.9 316.4L61.8 315.4L64 314.2L67.2 314L71.7 312.8L73.5 311.4L75.3 309.8L76.9 309.5L80 309.5L84.6 308.4L89.1 308.3L93.5 307.8L103.9 307.4" stroke="#77ac30"/>
<path d="M37.5 329.5L38.9 322.5L41.3 311.7L42 309.4L42.6 307.7L43.4 308.1L44.8 309.7L46.6 310.4L47.2 311.1L48 313L49.2 316.4L50 318L50.9 318.7L52.3 318.9L53.9 318.4L54.9 317.2L57.1 313.4L58.1 312.4L59.6 312.4L60.8 312.3L61.8 311.3L63.6 308.7L64.6 308.1L66.4 308.2L71.3 309.7L77.4 309.6L81 309.9L83.6 309L86.9 308.1L93.5 307.4L99.8 307.6L107.9 307.2L116.6 307.1" stroke="#4dbeee"/>
<path d="M37.5 239.6L38.3 248.5L39.1 256.6L39.7 262L40.3 266.6L40.7 269.1L41.3 272L42.6 276.6L43.6 277.8L44.8 279.7L45.6 280.1L46.8 280L47.4 280.5L48.2 282.1L49.4 285L50 285.9L50.6 286.2L51.5 285.8L53.1 284.1L53.9 284L54.7 284.7L58.7 290.7L60.8 294.2L62.2 295.7L63.8 297.3L65.8 299.8L68.5 301.4L70.1 301.8L73.3 301.1L76.1 301.9L80 303.4L83.6 305.5L85.6 305.8L89.5 305.6L94.5 306.1L98.6 306.7L103.2 306.8" stroke="#a2142f"/>
<path d="M37.5 295.9L38.1 292.7L38.7 290.2L39.5 287.7L41.3 283.6L41.7 283.1L42.2 283.1L42.6 283.7L43.4 287.9L44.4 293.6L45 296.2L45.6 297.7L46.2 298.4L49.4 299.6L51.3 299.3L52.1 299.8L53.1 301.3L54.5 304L55.5 305L57.7 305.8L59.1 307.2L60.4 308.4L61.2 308.4L62.4 307.4L64 305.8L66.8 304.8L68.7 304.8L71.3 305.2L74.5 304.7L76.3 305.3L78.8 306.6L80.4 306.4L82.8 305.7L84.6 306.1L87.3 307.2L89.7 307L92.5 306.8L96.6 307.2" stroke="#0072bd"/>
<path d="M37.5 318.1L38.1 316.1L38.7 314.8L39.3 314.4L39.9 314.8L41.1 316.2L42.2 316.3L42.6 316L43.8 313.2L44.8 310.1L46.2 305.3L46.8 303.9L47.4 303.2L48.2 303.4L49.8 304.5L51.7 305L52.7 306L54.1 308.3L54.7 308.8L55.3 308.6L56.1 307.4L57.9 303L58.7 301.8L59.6 301.7L60.8 302.7L65 307.5L66.2 308.2L70.3 308.1L73.7 307.6L77.2 306.9L79.8 306.4L83.8 306.7L87.5 306.8L94.3 307.7L105.9 307.2" stroke="#d95319"/>
<path d="M37.5 294.9L38.3 298.5L39.1 301.3L40.1 303.9L40.9 305.2L42.6 306.4L43.8 304.7L44.6 302.9L46 298.3L46.6 297L47 296.9L47.4 297.3L48 298.8L49.4 303.8L50 305.2L50.6 305.9L51.5 305.9L53.1 304.5L55.7 301.5L56.7 301.2L57.7 301.7L59.6 303.5L60.4 303.6L61.4 302.7L62.8 301.1L63.6 300.9L65 301.8L67 303.1L70.3 303.8L72.5 304.6L74.7 305.4L78.6 305.6L82.2 306.8L92.5 307L96 307.1L99 306.9" stroke="#edb120"/>
<path d="M37.5 314.1L38.9 314.4L39.9 313.9L40.9 312.7L41.7 311.4L42.4 311.1L43.2 311.7L44.4 313.3L45 313.3L45.6 312.5L47.2 308.2L47.8 307.2L48.4 306.8L49.2 307.3L51.3 309.6L52.3 309.8L53.5 309L57.5 304.7L58.5 304.2L59.6 304.7L61.2 306L62.2 306.1L64.6 305.2L70.9 305.7L78.4 307.1L83.6 307.6L92.1 307.4L101 307.4" stroke="#7e2f8e"/>
<path d="M37.5 242.8L38.1 248L38.7 252.5L39.3 256.1L39.9 258.8L40.5 260.5L41.1 261.3L42 262L42.8 263.4L43.6 265.7L45 270.3L46 272.5L47.4 275.3L49 279.1L49.8 280.2L50.9 280.5L52.1 280.4L52.9 281.2L53.7 282.9L55.3 287.8L56.1 289.4L56.9 290.3L59.1 290.9L61.8 292.7L63.2 293.8L66 297.7L68.7 300.5L70.1 301.2L72.7 301.2L73.9 301.9L76.5 304.5L78 305.1L80 304.7L83 304L85.8 304.3L90.7 305.6L98.8 306.6L109.1 306.9L115.6 307" stroke="#77ac30"/>
<path d="M37.5 274.5L38.5 276.2L39.3 278.3L40.3 281.9L42.6 290.3L43.6 292.4L44.6 293.7L46.6 294.7L47.4 295.8L48.8 298.7L49.4 299.4L50 299.5L50.9 298.9L52.3 297.1L52.9 297L53.5 297.5L54.3 299.3L55.5 302.6L56.3 304L57.1 304.4L58.3 303.7L62.2 300.4L63 300.3L64 301.1L66 303.8L67.4 304.8L69.3 305.3L70.9 304.8L73.9 302.7L75.3 302.7L80.2 304.7L86.9 306.5L91.5 306.4L96 306.9L103.2 307" stroke="#4dbeee"/>
<path d="M37.5 354.9L38.7 350.9L39.5 349.1L41.3 346.6L42.6 344.4L43.6 341.3L44.6 338.5L45.4 335.4L46.8 329.3L47.6 326.7L48.6 324.5L49.8 322.7L50.9 322L51.9 322L54.1 323.3L54.9 323.1L55.9 321.9L57.9 318.9L59.3 317.9L61.2 316.7L63.4 314.8L65 314.4L66.4 314.1L67.8 312.8L69.7 311L70.9 310.4L73.7 310.6L76.3 310L79.6 310.1L84 309.4L87.1 309.4L91.3 308L101.2 307.5L108.5 307.3L116 307.2" stroke="#a2142f"/>
<path d="M37.5 286L38.3 288.8L38.9 290.3L39.5 291L40.1 291.1L40.7 290.5L41.7 288.9L42.4 288.8L42.8 289.5L43.4 291.5L44.6 296.6L45.2 298.5L45.8 299.5L46.6 299.8L48.6 299L49.6 297.9L51.9 294.2L52.7 293.5L53.5 293.5L55.3 295L57.9 297L59.3 299L60.6 300.8L61.6 301.6L63.6 302.4L67.2 306L69.1 306.8L71.5 306.7L75.7 305.6L81.2 305.2L89.9 306.6L96.8 307L102.6 307" stroke="#0072bd"/>
<path d="M37.5 360.7L37.9 355.2L38.3 350.2L38.7 346L39.1 342.4L39.5 339.5L40.1 336.2L42 328.8L42.6 326.8L44.6 325.9L45.4 324.8L46.6 322.6L47.2 322.1L47.8 322.2L49.6 324.3L50.4 324.4L51.7 323.5L52.9 322.5L54.1 322.6L55.3 322.7L56.7 321.8L58.1 320.8L60.6 320.7L61.6 319.9L64 316.6L69.5 312.7L75.3 310.5L78.6 311L81 309.8L83.2 309L87.1 309.1L91.3 307.8L97.2 307.6L103.4 307.3L105.5 307.2" stroke="#d95319"/>
<path d="M37.5 300.3L38.1 302L38.7 302.9L39.3 302.9L39.9 302.1L40.5 300.4L41.7 295.8L42.4 294.1L42.6 293.7L43.2 293.9L44.8 295.9L46.4 296.7L47 297.6L47.6 299.2L49 304L49.6 305.6L50.2 306.5L51.1 306.7L52.1 306.1L53.9 304.5L55.1 304.3L60.6 306.3L63 306.4L65.4 307.7L66.6 307.5L70.5 305.1L72.3 304.8L82.4 306L88.7 306.9L94.5 307L99 307.1" stroke="#edb120"/>
<path d="M37.5 284.2L39.3 284.9L40.3 284.5L41.3 283.3L42 282.7L42.6 282.7L43.4 284.5L44.8 288.3L45.6 289.8L47.2 292L49 295.3L50.2 296.6L52.3 298.3L54.3 301L55.1 301.4L55.9 301.1L57.7 299.2L58.5 299.1L59.6 299.9L61 301.6L62 302L64.2 302.1L68.2 303.8L70.7 304L72.9 304L74.9 305.2L77.4 306.6L80.8 307.5L88.3 307.1L93.1 306.4L99.4 306.9L101.8 306.8" stroke="#7e2f8e"/>
<path d="M37.5 259.7L38.5 265.6L39.3 269.7L40.1 273.1L40.9 275.6L41.7 277.8L42.6 280.9L44.4 286.4L45.2 288L47.2 290.2L48.6 292.1L49.4 292.4L50.4 291.8L52.1 290.3L53.1 290.1L54.3 291.1L55.5 292L56.3 291.8L58.1 289.9L58.7 289.8L59.3 290.4L60.2 292.1L61.8 296.7L63 299.3L64.6 301.8L65.8 302.9L67.2 303.3L70.1 302.4L72.1 302L77.4 302.8L79.4 303.9L81.8 305.5L83.8 305.8L95 306.2L95.8 306.2" stroke="#77ac30"/>
<path d="M37.5 255.3L41.3 258.5L41.7 259.3L42.4 261.6L42.6 262.6L44 272.4L44.6 275.9L45.2 278.6L45.8 280.3L47 282.3L49.4 286.2L50.4 287L52.3 287.6L53.3 288.7L55.9 293.2L58.5 296.6L60.4 299.5L61.4 300.1L63 299.7L64.4 299.5L66.8 300.3L70.1 302.1L72.1 302.3L74.3 302.2L76.7 303.4L79.2 304.5L83.6 304.6L87.5 305.8L91.5 306.2L95.4 307L98.6 307" stroke="#4dbeee"/>
<path d="M37.5 245.6L38.1 250.4L38.5 253L38.9 255L39.3 256.4L39.7 257.2L40.3 257.5L40.9 257.2L42 258.7L42.8 260.6L43 261.2L43.2 262.4L44.4 271L45 274.7L45.6 277.4L46.2 279.1L47.2 280.8L49.8 284.1L51.1 284.9L52.5 284.9L54.1 284.7L56.1 285.8L57.9 287.4L58.9 289.1L60.6 292.6L61.4 293.7L62.4 294L63.8 294.2L65.2 295.3L68.9 299.7L70.1 300.4L72.9 300.5L75.3 301.9L78 303.2L80.8 303.6L83.6 303.8L88.9 305.5L95.6 306.4L104.5 306.8L109.1 306.9" stroke="#a2142f"/>
<path d="M37.5 255.9L38.3 255.4L40.1 255.5L40.3 255.8L40.9 257.2L42 258.7L42.8 260.6L44.6 266.1L45.4 268.4L47.4 272.2L49.4 277.1L50.6 278.9L52.1 280.7L52.9 282.4L53.7 284.8L55.1 290.1L55.7 291.9L56.3 293L57.1 293.7L58.7 294.4L60.8 296.5L61.8 296.8L63.4 296.5L64.6 297.4L66.8 299.6L69.9 301.3L73.5 302.9L79.4 305.1L81.6 305.8L85.6 305.6L89.5 306.4L95.4 306.4L101 306.8L111.1 307" stroke="#0072bd"/>
<path d="M37.5 332.1L38.9 330.5L40.1 330.2L42.2 330.2L42.6 330.4L43.6 329.7L44.8 329.2L45.6 327.9L47 324.9L48 323.6L50.6 321.5L52.9 319.7L54.9 318.4L56.5 316.4L58.5 313.5L60 312.5L62 311.4L63.8 310.2L65.2 310.4L67.4 311L70.1 310.6L76.7 307.9L85 307.1L93.1 308.3L100.6 307.5L111.3 307.2L115.2 307.2" stroke="#d95319"/>
<path d="M37.5 242.6L38.1 249.1L38.7 254.7L39.1 257.7L39.5 260.3L40.1 263.2L40.7 265.1L41.3 266L43.6 269.1L46.4 274.2L47 275.9L47.8 279L49.4 286.5L50.2 289.3L51.1 291.2L51.9 292.1L52.9 292.3L54.9 292L57.7 292.5L59.3 292.9L63.2 295.2L65.4 297.5L67.2 298.4L69.7 298.7L71.9 298.7L73.3 299.6L76.1 302.6L78 303.5L81.8 304.3L85.8 304.2L91.5 306.1L100.4 306.9L104.7 306.9" stroke="#edb120"/>
<path d="M37.5 285.1L38.9 288.8L39.9 290.7L40.7 291.5L42.4 291.5L43.2 292L45 294.5L45.8 294.8L47.4 294.6L49.8 295.9L52.7 295.4L53.7 296L55.7 298L56.9 298.3L58.5 298.2L59.8 299L61.2 300L63.4 300.3L64.4 301.1L66.4 303.7L67.6 304.3L69.3 304L71.3 303.4L72.9 303.9L75.9 305.6L80.4 306.7L84.6 306.9L87.5 307.1L92.1 306.8L102.6 306.9" stroke="#7e2f8e"/>
<path d="M37.5 317.3L38.5 314.5L39.5 312.5L41.3 310.2L42 310L42.6 310.7L44.2 314.1L44.8 314.8L45.4 314.8L47 313.4L48.4 313.3L49.4 313.1L50.9 311.6L52.3 310.3L53.3 310.1L57.5 312L58.5 313.2L60.4 316.2L61.2 317L62 316.9L63 316L65 313.2L67 311.6L71.1 309.4L74.1 307.2L75.9 306.9L83.4 307.4L92.3 307.2L101.4 307.5" stroke="#77ac30"/>
<path d="M37.5 287.5L38.5 289.8L39.3 290.8L40.3 291.2L41.1 290.8L42 290.2L42.8 290.2L44.2 291.4L44.8 291.4L45.6 290.5L46.6 288.9L47.2 288.6L47.8 288.9L48.6 290.4L49.8 293L50.6 294L52.1 294.7L53.3 295.4L55.5 298.2L56.5 298.8L58.5 299L60 300.2L61.4 301.5L68 303L70.3 303.8L71.9 303.6L74.1 302.9L75.7 303.4L80.2 306.7L82.4 307.3L106.9 307" stroke="#4dbeee"/>
<path d="M37.5 341.9L38.1 337L38.5 334.3L38.9 332.3L39.3 331L39.7 330.2L40.3 330L41.5 330.2L42.4 329.6L43 328.4L45.8 321.1L46.4 320L47 319.6L47.8 320.1L49 321.5L49.8 321.7L50.9 320.9L54.3 316.1L56.7 311.9L57.9 310.6L59.1 310.3L61.8 310.9L65.8 310.2L68.2 309.3L70.1 309.6L72.3 310.2L76.7 309.6L79.8 309.7L84 308.6L87.9 308.4L91.5 307.9L95.6 307.9L104.5 307.1L107.3 307.2" stroke="#a2142f"/>
<path d="M37.5 276.7L40.1 280.2L40.7 280.5L41.5 279.9L42.6 279.1L43.6 280.1L45.2 282.6L46.8 284.2L47.6 285.8L49.6 291.3L50.6 293L53.1 295.4L55.3 298.5L56.7 299.5L58.1 300.4L60.4 303.4L61.4 304L63.4 303.6L64.6 304.3L66.4 305.7L68 306.1L72.9 305.6L76.3 305.7L79.6 304.8L82 305.3L85.6 306.1L89.7 306.4L93.9 307.1L111.1 307.1" stroke="#0072bd"/>
<path d="M37.5 337.2L38.5 334.5L39.3 333.3L40.7 332L41.3 330.7L43.2 325.6L43.8 324.6L45.8 323.3L47 322.4L49 322.6L49.8 321.9L50.9 320.1L52.3 317L53.1 315.9L54.1 315.5L55.9 315.4L58.7 313.3L61.4 312.5L66.2 309.2L67.8 308.6L69.7 309L71.9 309.7L76.3 309.2L80 309.5L89.5 307.9L94.5 308.1L99.4 307.5L108.5 307.1L116.8 307.1" stroke="#d95319"/>
<path d="M37.5 301.7L38.1 299.8L38.7 298.5L39.3 298.1L40.9 298.3L42.8 296.6L44.8 296.1L46.8 294.2L47.4 294.2L48.2 295L51.1 300.6L52.7 302.7L54.5 304.4L56.1 304.8L57.5 305.1L58.5 306L60.6 308.8L61.6 309.5L64 309.5L66.2 310.4L67.6 309.9L70.7 308.4L74.7 306.9L78.6 306.9L81.2 306.6L89.3 307L94.1 307.1L99 307.3L104.7 307.1L108.7 307.1" stroke="#edb120"/>
<path d="M37.5 309.8L41.1 306.8L42 306L42.8 306.1L43.8 307.2L45.2 309.2L46.6 310.8L47.8 313.4L48.6 315L49.2 315.3L49.8 314.7L50.6 312.8L52.1 308.8L52.7 307.6L53.3 307L54.1 306.9L56.5 308.5L58.3 308.6L60.6 308L63.6 305.8L66.4 305L68.2 304.3L70.5 304.6L76.1 307L78 307.1L81 306.4L85.6 307.2L89.1 306.8L96.2 307.2L109.5 307.1" stroke="#7e2f8e"/>
<path d="M37.5 305.2L38.5 304.9L39.5 303.6L41.3 300.9L41.7 300.7L42.4 301.2L43 302.6L44.2 306.9L45.2 310.4L47 315L48 317.1L48.6 317.7L49.2 317.4L49.8 316.4L50.9 313.4L52.1 309.6L52.7 308.4L53.3 307.7L54.1 307.6L55.9 308.4L57.3 307.9L58.7 307.4L61.2 308.2L62.6 307.5L64 306.9L66.4 307.4L69.3 307.7L73.5 306.5L75.7 306.8L79.6 308.2L82.4 308.3L88.9 307L93.9 307L99.6 307.1L111.9 307.1" stroke="#77ac30"/>
<path d="M37.5 271.2L38.3 277.8L38.9 282.2L39.5 286L40.1 289.1L40.7 291.3L41.3 292.6L42.6 294.5L43.6 293.9L44.8 293.5L46.2 292.5L46.8 292.8L47.4 294.1L48.8 298.8L49.4 300.2L50 300.7L50.6 300.1L51.5 298.4L52.7 295.3L53.3 294.3L53.9 294.1L54.7 294.7L56.1 296.4L57.1 296.8L58.7 296.6L60 297.4L61.6 298.7L63.6 299.5L65.2 301.1L67 303.2L68.5 304L70.1 303.7L72.5 302.9L74.3 303.2L77.6 304.4L82.6 305L85.8 305.4L89.5 306.2L96.2 306.6L101.4 307" stroke="#4dbeee"/>
<path d="M37.5 257.9L38.3 261.8L39.1 264.9L39.9 267L40.7 268.3L41.7 269.1L42.6 270.8L44.4 277L45 278.5L45.6 279.3L46.6 279.5L47.8 279.6L48.8 280.7L51.5 285.1L52.9 288L54.7 292.3L55.7 293.9L56.9 294.6L58.7 295.1L60.8 296.3L63.4 296.5L65 297.7L68.5 301.7L69.7 302.3L72.5 302.2L74.1 303.1L76.9 305.3L78.8 305.9L84.2 305.5L89.5 306L96.2 306.4L102 306.8L111.3 306.9" stroke="#a2142f"/>
<path d="M37.5 244.6L39.1 253.8L39.7 256.8L40.3 259.1L40.9 260.5L42.6 261.5L43.4 263.1L45.4 268.9L47.2 273.1L49 278.3L49.8 279.9L51.1 281.3L52.5 282.6L53.5 284.3L55.7 289.4L56.7 290.9L57.9 291.5L59.8 292.1L62.4 294.1L63.8 296L65.4 298.5L66.8 299.7L68.5 300.2L70.1 299.7L72.3 298.7L73.5 298.8L76.1 300.7L78.8 302.8L80.8 303.4L83.4 304L86.1 304.9L89.7 305L94.3 306L98 306.2" stroke="#0072bd"/>
<path d="M37.5 313.4L38.7 310.7L41.3 303L41.7 302.2L42.4 301.9L42.6 301.9L44.2 306L44.8 307L45.4 307L46.2 306L47.2 304.5L48 304.2L50.2 304.9L52.1 305L53.1 305.7L55.1 308.6L56.1 309.2L57.3 308.8L59.1 307.7L62.6 306.8L63.6 307.3L65.6 309.6L66.6 310L68.9 309.5L71.3 310.1L72.5 309.5L74.3 308.4L75.5 308.5L77.8 309.4L79 309.1L81.4 307.3L83 307L86.9 307.7L94.3 307.6L102.8 307.1" stroke="#d95319"/>
<path d="M37.5 345.1L38.3 340.7L38.9 338.1L39.5 336.3L40.1 335.3L41.3 335.3L42.4 335.3L42.6 335.2L43.4 333.1L44.4 329.6L45.8 324.1L46.4 322.3L47 321.3L47.8 320.8L49 320.2L50.4 318.4L51.9 316.7L54.5 315.2L57.3 312L58.3 311.7L60.6 312.8L61.8 312.4L63.6 311.2L65 311.2L67.8 311.9L70.3 311.7L73.3 311L78 311.2L83.6 309L90.3 308L97.6 307.7L108.1 307.2" stroke="#edb120"/>
<path d="M37.5 277.8L38.5 284.4L39.5 290.2L40.3 294L40.9 296.1L42.2 298.8L42.6 299.5L44 298L44.8 296.5L46.4 291.9L47 291L47.6 291.1L48.4 292.3L49.6 294.4L50.4 295L51.3 294.8L53.3 293.1L54.1 293.1L55.1 294.2L57.5 297.8L59.1 300.3L60.6 302.7L61.6 303.6L62.8 303.5L64.8 303.2L70.9 304.2L74.7 304.3L78.8 305.6L84 305.5L90.3 306L94.8 306.6L99 306.9L111.7 307.1" stroke="#7e2f8e"/>
<path d="M37.5 280.7L38.5 283.4L39.5 285.1L41.1 287.4L41.5 288.3L42.2 290.5L43 294L43.8 297.1L44.4 298.8L45 299.6L45.6 299.6L47.4 297.8L48.8 297.5L51.5 297.4L52.7 298.1L54.7 300.2L55.7 300.5L57.9 299.4L58.7 299.8L60.8 302.4L61.8 303L64.2 302.9L67.2 304.3L69.1 305.2L70.5 305L72.9 304.1L75.1 304.4L80.2 306.2L84.2 306.2L88.7 307.1L102.4 307.1L105.5 307" stroke="#77ac30"/>
<path d="M37.5 260.4L38.1 266L38.5 269.3L38.9 272L39.3 274.2L39.9 276.6L40.5 277.9L41.1 278.4L43.4 278.9L46.6 282.1L47.4 283.7L49 288.1L49.8 289.6L50.9 290.5L53.1 291L54.3 292.3L56.3 295.1L59.1 298L60.8 299.8L62.4 300.5L64.2 301.3L66 302.3L67.8 302.2L69.7 301.3L71.7 300L72.9 300L74.5 301.2L76.3 302.6L81.4 303.8L87.7 305.2L91.9 306.4L96 306.6" stroke="#4dbeee"/>
<path d="M37.5 357.3L38.9 349.6L39.9 345L41.1 340.8L41.7 339.1L42.4 338.1L43.2 337.6L44.8 337.7L45.8 336.9L48.4 334L49.6 331.8L51.1 329L52.7 327L54.1 325.3L55.3 323L56.9 319.4L57.7 318.2L58.5 317.7L60.4 317.7L61.4 316.7L63.4 313.5L64.4 312.6L69.5 311.5L72.3 311.7L75.9 310.4L79.2 310.5L83.6 309.1L88.1 309.1L92.3 307.9L110.9 307.3" stroke="#a2142f"/>
<path d="M37.5 349.5L38.5 344.8L39.3 341.8L41.1 336.3L42.6 331.4L43.4 329.5L45.4 326.6L48.6 320L50 316.9L50.9 315.8L51.5 315.7L52.3 316.3L54.1 319.2L54.7 319.6L55.3 319.4L56.1 318.3L57.7 315.4L58.5 314.8L59.3 315.1L60.8 316.3L61.6 316.3L62.4 315.5L64.6 312L66.6 310L68 309.3L71.3 309.3L74.3 308.3L76.1 308.6L78.6 309.4L81.2 309.1L85.4 308L91.7 307.7L101.6 307.5L102 307.5" stroke="#0072bd"/>
<path d="M37.5 319.4L39.9 318.8L40.7 318L41.5 316.1L42.6 313.7L43.2 312.7L44 312.5L45.2 312.5L46.8 311.9L47.8 312.5L48.8 313.4L49.4 313.4L50.2 312.6L51.9 309.6L52.5 309.1L53.1 309.2L53.9 310.4L55.3 313.1L56.1 313.9L56.9 313.9L59.3 312L61.8 311.1L64.8 308.6L67.8 307.2L70.1 307L73.1 307.4L75.9 307.4L79.2 308.1L88.1 307.9L92.1 307.2L99.2 307.3" stroke="#d95319"/>
<path d="M37.5 352.5L38.7 344.5L39.7 338.5L42 326.9L42.6 324.1L43.4 322.7L45.6 320.7L46.8 319.5L47.8 319.3L50.9 320.6L53.3 320.7L54.7 320L57.1 317.9L60 316.4L62.6 314L63.8 313.7L66.4 314.3L67.8 313.7L70.7 311.9L72.7 311.4L77.8 311.3L81.6 309.8L90.3 308.9L97 307.8L103.2 307.3" stroke="#edb120"/>
<path d="M37.5 262.3L39.1 264.1L40.5 265.6L41.5 266.3L42.2 267.8L42.6 269.3L44.2 279.1L44.8 281.9L45.2 283.2L45.8 284.2L46.6 284.4L48 284.5L49.4 284.9L50.4 284.5L52.3 283.2L52.9 283.2L53.5 283.9L54.1 285.3L55.1 288.6L56.1 292.1L56.9 294.1L57.9 295.7L60 297.5L61.4 298L63.2 298L64.4 298.9L67 301.8L68.2 302.4L69.9 302.3L71.7 302L73.5 302.7L78.6 306.1L80.8 306.5L87.1 306.5L90.5 306L98.6 306.7L108.9 306.9" stroke="#7e2f8e"/>
<path d="M37.5 338.8L39.3 331.3L40.9 324.1L42 319.4L42.6 317.1L43.2 316.5L43.8 316.5L47.8 321.1L48.6 321.3L49.4 320.5L51.5 316.8L52.3 316.2L53.1 316.4L54.7 317.9L55.5 317.7L56.3 316.7L57.9 313.8L58.7 313.1L61 313L62.2 312L63.6 310.6L64.6 310.3L67 310.6L69.9 309.5L73.3 307.8L75.5 307.7L78.4 308.1L82.2 307.1L87.5 307.6L92.5 307.7L98 307.7L107.5 307.2" stroke="#77ac30"/>
<path d="M37.5 347.7L38.7 338.5L39.9 330.3L40.9 324.3L41.5 321.3L42 319.9L42.4 319L42.6 318.9L43.2 320.4L44.2 323.5L44.8 324.6L45.2 324.7L45.8 323.8L46.8 320.9L47.6 318.6L48.4 317.1L49.6 315.9L51.7 314.9L54.3 314.6L55.3 313.7L57.3 310.8L58.1 310.4L58.9 310.8L60.8 312.6L61.8 312.9L67 311.2L68.9 311.4L71.1 312L72.9 311.5L75.1 310.8L78.2 310.7L82.2 309.1L85.6 308.5L89.3 308.2L92.9 307.6L107.3 307.2" stroke="#4dbeee"/>
<path d="M37.5 368.5L38.3 362.3L38.9 358.2L39.5 354.9L40.1 352.4L42.2 345.9L43.2 343.5L45 340.6L46.8 336.3L47.8 334.9L49.4 333.2L52.1 328.9L53.3 327.8L54.9 326.8L56.3 324.9L57.9 322.6L59.1 321.7L61 321L62.8 319.1L64.2 317.8L67.2 316.5L69.5 315.3L72.5 314.3L75.3 312.9L78.8 312.5L83.6 310.5L88.7 309.6L92.5 308.9L104.1 307.7" stroke="#0072bd"/>
<path d="M37.5 239.5L38.3 245.4L38.9 249.3L39.5 252.6L40.1 255.1L40.7 256.8L42 258.7L42.8 260.6L44.6 266.1L45.4 267.7L47 269.7L47.8 271.5L49.4 276L50.2 277.5L51.3 278.4L52.9 279.5L53.9 281.1L55.7 285L56.7 286.4L58.9 288L61.2 290.8L63.6 292.4L67 296.2L68.9 297.6L73.1 298.6L76.9 300.9L83 303.4L94.1 305.6L101 306.4L121 307L239.8 307.1" stroke="#0072bd" stroke-width="1.5"/>
</g>
<path d="M37.5 229.6H239.8V377.9H37.5ZM78 377.9v-2M78 229.6v2M118.4 377.9v-2M118.4 229.6v2M158.9 377.9v-2M158.9 229.6v2M199.3 377.9v-2M199.3 229.6v2M37.5 353.2h2M239.8 353.2h-2M37.5 328.5h2M239.8 328.5h-2M37.5 303.8h2M239.8 303.8h-2M37.5 279h2M239.8 279h-2M37.5 254.3h2M239.8 254.3h-2" stroke="#9a9a9a" stroke-width="0.8" fill="none"/>
<g font-size="11" fill="#262626">
<text x="37.5" y="394.2" text-anchor="middle">0</text>
<text x="78" y="394.2" text-anchor="middle">200</text>
<text x="118.4" y="394.2" text-anchor="middle">400</text>
<text x="158.9" y="394.2" text-anchor="middle">600</text>
<text x="199.3" y="394.2" text-anchor="middle">800</text>
<text x="239.8" y="394.2" text-anchor="middle">1000</text>
<text x="33.9" y="234.7" text-anchor="end">3</text>
<text x="33.9" y="259.5" text-anchor="end">2</text>
<text x="33.9" y="284.2" text-anchor="end">1</text>
<text x="33.9" y="308.9" text-anchor="end">0</text>
<text x="33.9" y="333.6" text-anchor="end">-1</text>
<text x="33.9" y="358.3" text-anchor="end">-2</text>
<text x="33.9" y="383" text-anchor="end">-3</text>
</g>
<text x="138.7" y="409.9" text-anchor="middle" font-size="12.4" fill="#262626">The number of iterations k</text>
<text transform="translate(13.4 303.8) rotate(-90)" text-anchor="middle" font-size="12.4" fill="#262626">The state of UAV <tspan font-family="'DejaVu Sans',sans-serif" font-style="italic" fill="#707070" font-size="12.4">ϕ</tspan><tspan font-size="9.3" dy="4.1">i</tspan><tspan dy="-4.1">(k)</tspan></text>
<rect x="122.1" y="234.4" width="112.6" height="53.4" fill="#fff" stroke="#858585" stroke-width="0.7"/>
<g font-size="10.1" fill="#111" stroke="#111" stroke-width="0.2">
<path d="M124.2 241.9h18.8" stroke="#2687c7" stroke-width="1.3" fill="none"/>
<text x="144.7" y="245.5">The state of UAV 1</text>
<path d="M124.2 254.8h18.8" stroke="#df6d3c" stroke-width="1.3" fill="none"/>
<text x="144.7" y="258.4">The state of UAV 2</text>
<path d="M124.2 267.6h18.8" stroke="#f0bd41" stroke-width="1.3" fill="none"/>
<text x="144.7" y="271.3">...</text>
<path d="M124.2 280.5h18.8" stroke="#914e9f" stroke-width="1.3" fill="none"/>
<text x="144.7" y="284.1">The state of UAV N</text>
</g>
</g>
<g>
<rect x="332.4" y="229.5" width="202" height="148.5" fill="#fff"/>
<path d="M372.8 229.5V378M413.2 229.5V378M453.6 229.5V378M494 229.5V378M332.4 353.2H534.4M332.4 328.5H534.4M332.4 303.8H534.4M332.4 279H534.4M332.4 254.2H534.4" stroke="#ececec" stroke-width="0.7" fill="none"/>
<clipPath id="cp4"><rect x="332.4" y="228.5" width="203" height="150.5"/></clipPath>
<g clip-path="url(#cp4)" fill="none" stroke-width="1.7" stroke-linejoin="round" stroke-linecap="butt">
<path d="M332.4 358.7L333.6 349.4L334 347.1L334.2 346.2L334.4 345.7L334.6 344.6L334.8 343.3L335.2 339.3L335.6 336L337 322.8L337.4 319.6L337.9 318.5L338.5 320.4L338.9 322L339.7 326.2L339.9 326.9L340.1 327.1L340.3 327L340.5 326.5L340.7 325.8L341.1 323.6L341.7 319.9L342.3 316.9L342.7 315.6L343.1 315.4L343.5 316L344.5 318.9L345.1 319.7L345.9 319.9L346.7 319.4L347.3 318.3L348.4 316L349.2 315L349.8 313.9L350.2 313.7L351.6 314.4L352.4 314.1L353.8 312.4L355.8 311.3L357.4 310.9L359.5 309.2L361.5 309.1L364.1 307.4L365.1 307.4L366.3 307.4L368.8 307L369.2 307" stroke="#0072bd"/>
<path d="M332.4 291.2L332.8 293.6L333 295L333.2 296.1L334.2 299.1L334.8 301.6L335.2 302.9L336 307.3L336.4 309.1L336.8 310.4L337.2 311.1L337.4 311L337.7 310.2L337.9 309.1L338.3 308.2L338.5 307.4L339.1 304.3L339.9 301.6L340.3 300.5L340.9 299.9L341.5 300L342.1 301.2L343.7 305.2L344.9 309.3L345.3 310L345.5 309.9L345.7 309.5L346.3 307.1L346.7 305.6L347.1 304.8L347.8 304.4L348.4 305.1L349.4 306.7L349.8 306.8L350.4 306.1L350.8 305.2L351.4 304.7L352 305.1L352.8 306.3L353.4 306.5L354.2 306L355.2 304.9L357 303.8L358.7 303.6L360.5 301.4L361.1 301.5L362.3 302.5L363.7 302.6L364.7 303.7L366.1 306.1L366.9 306.8L369.2 307" stroke="#d95319"/>
<path d="M332.4 285.2L332.8 286.4L333 287.6L333.4 288.8L334.4 291L334.8 291.3L335.8 289.2L336.2 288.4L337.7 287.4L337.9 287L338.3 289.3L338.5 290.1L339.1 291.8L339.9 294.9L340.3 295.5L340.7 295.4L341.3 294.5L342.7 290.8L343.5 289.4L343.9 289L344.9 289.7L345.3 290.3L345.7 291.6L346.1 293.5L347.1 298.9L348.2 303.5L348.8 305.6L349.4 307.1L350.6 308.8L351.2 309.1L351.8 308.5L353 306.6L354.6 304.8L355.2 304.3L355.8 304.5L356.8 306.1L357.4 306.6L358.3 306.1L360.1 303.3L361.1 302.3L361.9 302.3L363.7 304L365.1 304.9L366.9 306.6L369 307L369.2 307" stroke="#edb120"/>
<path d="M332.4 329.3L333.2 329.2L333.8 328.8L334 329L334.2 329.5L334.8 332L335.2 332.8L335.6 334.9L336.2 338.6L336.4 339.6L336.6 340.2L336.8 340.6L337 340.7L337.2 340.4L337.4 339.8L337.7 338.3L338.1 334.3L338.7 327.9L339.1 324.2L339.5 321L339.9 318.5L340.3 316.8L340.7 315.9L341.3 315.5L342.1 315.8L343.1 316.8L343.7 316.8L344.3 316L345.1 314L345.5 313.7L346.1 314.5L346.9 315.7L347.3 315.7L347.8 315L348.8 312.4L349.6 311.3L350 311.2L351 311.8L351.8 312.5L352.6 312.6L354.6 310.7L356 309.7L357.4 308.8L359.1 306.3L359.7 306.2L361.5 307.7L363.3 306.4L366.1 306.6L369.2 307" stroke="#7e2f8e"/>
<path d="M332.4 305.2L332.8 306.8L333.4 310.5L334.4 316.2L334.8 317.6L335.2 317.6L335.6 318.8L336.4 322.8L336.8 323.6L337 323.5L337.2 323.2L337.4 322.6L337.7 321.2L337.9 319.6L338.7 315.7L339.1 314.4L339.9 312.6L340.5 310.2L341.5 305L341.9 303.5L342.3 302.8L342.7 302.9L343.3 304.4L344.1 307.3L344.5 308.2L345.1 308.5L345.7 307.7L346.5 306.4L347.5 305.7L348.4 305.9L349.4 306.6L350.4 306.2L351 305.8L352.6 305.5L354 305.8L354.8 305.1L356.4 303.3L356.8 303.2L359.5 305.5L360.3 305.6L361.7 305.2L363.3 306L364.9 305.3L365.9 305.9L367.1 306.8L369.2 307" stroke="#77ac30"/>
<path d="M332.4 256.2L332.8 259.9L333 262.5L333.2 264.6L333.4 266.4L333.6 267.9L333.8 269.1L334 270.1L334.4 271.3L334.8 271.8L335.4 272.2L336 273.3L336.6 275.5L337.2 278.2L337.4 278.9L337.7 279.3L337.9 279.4L338.1 281.2L338.3 282.8L338.5 283.9L339.1 286.4L340.1 291.6L340.5 293.2L340.9 294.2L341.3 294.6L341.9 294.3L342.9 293L343.5 293L343.9 293.6L344.5 295.5L345.3 299.3L345.7 300.7L346.1 301.4L346.5 301.2L346.9 300.2L347.8 297.6L348.2 297L349 297L350.4 298.1L351.8 296.8L352.4 297.1L353.2 298.8L353.8 300.1L354.2 300.4L354.8 299.9L355.4 299.3L356.4 299.3L357.4 299.5L359.1 298.1L360.5 298.4L361.5 299.5L363.1 301.6L364.9 302.7L365.7 304L366.9 306.2L368.2 306.9L369.2 307" stroke="#4dbeee"/>
<path d="M332.4 286.1L332.8 287.6L333 288.8L333.2 289.7L333.6 290.8L334.6 291.8L335.2 292.4L336.2 295.9L336.4 296.5L336.8 296.9L337.2 296.5L337.7 295.4L337.9 294.7L338.9 299.4L339.3 301.4L339.5 302L339.7 302.4L339.9 302.5L340.3 301.8L341.1 299.9L341.5 299.6L341.9 299.9L342.5 301.3L343.3 304.2L344.3 308.7L344.7 310L345.1 310.6L345.5 310.5L345.9 309.5L346.7 307L348.6 303.7L349.2 302.7L349.8 302.3L350.6 302.9L351.6 304.4L352.6 304.8L353.6 304.1L354.4 303.6L355.2 304L356 304.8L356.4 304.7L357.9 301.9L358.7 301.4L359.3 301.5L360.3 302L361.3 302.2L363.1 303.7L364.7 304.1L366.5 306.3L367.8 306.8L369.2 307" stroke="#a2142f"/>
<path d="M332.4 279.5L332.8 280.2L333.2 282.4L334.2 286.6L334.4 287.3L334.6 287.5L334.8 287.5L335 286.9L335.6 284.2L336.2 280.2L336.4 279.1L336.6 278.4L336.8 278L337 278L337.4 278.7L337.7 279.6L337.9 280.1L338.1 282.3L338.3 284L338.5 285.1L338.9 286L340.7 288.4L341.3 288.2L341.9 287.8L342.5 288.1L342.9 288.9L343.7 291.3L345.1 296.8L345.7 299.2L346.3 300.9L347.1 302.5L348 303.2L348.6 303.2L349.6 302.3L350.4 301.5L350.8 301L351.8 299.9L352.4 299.3L353 299.5L354.6 301.4L355.8 302.3L356.6 303.7L357.2 304.7L357.6 304.6L358.3 303.7L359.1 301.8L359.5 301.6L360.3 302.5L361.1 303.2L361.7 303L362.7 302.3L363.5 302.3L364.5 303.7L365.7 305.7L367.1 306.8L369.2 307" stroke="#0072bd"/>
<path d="M332.4 288.4L332.8 288.9L333 289.7L333.2 290.1L333.8 290.4L334.6 289.7L335.2 288.5L335.8 288.9L336.2 289.7L337.4 293.5L337.7 294L337.9 294.2L338.1 295.7L338.3 296.9L338.5 297.7L339.7 299.2L340.7 300L341.3 300.8L342.5 303.7L342.9 304.2L343.3 303.8L343.9 302.4L344.3 302.1L344.7 302.5L345.1 303.8L345.5 305.9L346.1 309.7L346.3 310.7L346.5 311.4L346.9 312.1L347.3 312.1L348 311.2L349 308.9L349.8 306.2L350.8 304.1L352.4 302.9L354.4 301.9L355 301.6L356.4 302.8L357.2 302.6L358.1 301.7L358.9 301.5L359.3 301.8L360.3 303.6L361.7 305.3L362.5 305.6L364.1 305L364.9 305.3L366.3 306.6L369.2 307" stroke="#d95319"/>
<path d="M332.4 298.2L333 299.5L333.2 299.5L333.6 298.7L334.2 297.1L334.8 296.6L335 296.6L335.2 296.8L335.4 297.6L335.8 300.1L336.2 303.7L336.4 305.6L336.8 308.7L337 309.9L337.2 310.6L337.4 311.1L337.7 311L337.9 310.7L338.3 311.6L338.5 311.7L339.1 310.9L339.5 309.7L340.1 306.9L340.5 304.7L340.9 303.2L341.3 302.5L341.7 302.7L342.7 304.6L343.5 306.6L344.5 309.8L344.9 310.4L345.3 310.5L345.7 309.7L346.3 308.1L346.9 307.3L348 307L348.6 307.3L349.4 308.6L350.2 308.8L350.8 308.2L351.4 307L352.6 303.9L353 303.3L353.6 303.3L355.4 305L357.9 305.5L358.9 305.8L359.7 305.3L360.9 304.1L362.1 303.6L363.7 302.8L364.5 302.9L365.3 303.9L366.7 306.1L367.8 306.8L369.2 307" stroke="#edb120"/>
<path d="M332.4 250L332.8 250.8L333 252.3L335 262.7L336 268.8L336.4 271.9L337 277.2L337.2 278.6L337.4 279.4L337.7 279.4L337.9 278.6L338.1 279.4L338.3 279.8L338.5 279.6L339.1 278.1L340.1 277.5L340.7 278L341.7 279L342.9 279.6L343.5 280.7L343.9 281.9L344.5 284.2L345.1 285.7L346.3 287.1L346.7 288.1L347.8 291.1L348.4 293.1L349 294.3L349.8 295.1L350.4 295.3L350.8 295.1L353 296.7L354 298L355.6 300.4L356.2 300.7L357.6 300.2L359.1 299L360.7 300.1L362.3 300.8L363.5 301.6L365.1 304L366.1 305.6L367.1 306.5L369 307L369.2 307" stroke="#7e2f8e"/>
<path d="M332.4 321.4L333 320.4L333.4 319.2L334 316.9L334.2 316.4L335 316.1L335.2 316L336 317.4L336.4 317.7L337.2 316.2L337.7 315.1L337.9 314.4L338.3 314.3L338.5 314L339.3 311.7L339.9 310.7L340.3 310.5L341.5 311.5L341.9 311.3L342.7 309.9L343.1 310L343.7 310.9L344.5 312.7L344.9 313L345.3 312.8L345.9 311.5L346.9 308.7L348.4 305.4L349 304.8L349.6 304.9L351 306.7L351.6 306.7L352.8 305L353.2 304.9L353.8 305.7L354.4 306.8L355 307L355.6 306.4L356.8 304.3L357.4 304.5L360.1 307.2L360.9 307.2L361.7 306.6L362.7 305.7L363.7 305.6L365.5 306L367.1 306.9L369.2 307" stroke="#77ac30"/>
<path d="M332.4 359.6L332.8 355.2L333.2 351.6L333.4 350.2L333.6 349.2L333.8 348.5L334 348.3L334.2 348.6L334.4 349.5L334.8 350.4L335 350.1L336.4 346L337.9 340.1L338.3 337.8L338.5 336.3L338.9 332.2L339.3 328.7L339.5 327.3L339.7 326.2L340.1 324.6L341.3 321.9L342.3 318.7L342.7 318L343.1 318L344.1 319.6L344.5 319.6L344.9 319.1L345.9 316.6L346.7 315.4L347.3 315.2L348.4 315.4L349.2 314.8L349.8 313.5L350.2 313.2L351.6 313.7L353.2 313.4L354.8 312.5L356.8 313.1L360.1 311.2L361.1 310.1L362.5 309.9L363.3 309.8L364.1 309L365.1 307.7L366.1 307.1L369.2 307" stroke="#4dbeee"/>
<path d="M332.4 271.9L332.8 273.4L333 274.8L333.2 275.6L333.6 276.3L334 276.2L334.4 275.6L334.8 274.4L335.8 270.6L336.2 269.6L336.8 269.1L337.4 269.2L337.7 269.5L337.9 269.5L338.1 271.7L338.3 273.5L338.5 274.7L339.5 277.8L340.5 280.1L341.3 282.8L342.1 285.6L342.5 286.2L343.1 286.1L343.7 285.8L343.9 285.9L344.3 287.3L344.7 289.7L345.9 298.3L346.3 300.5L346.7 301.9L347.1 302.6L347.8 302.4L348.8 301.4L349.8 301.4L350.4 301.9L351 302.2L352.2 302.7L353 302.7L353.8 301.9L355 299.7L356 299.5L356.8 299.9L358.3 301.7L358.9 301.9L360.7 302L361.3 302.7L362.7 305.1L363.3 305.4L364.3 305.1L365.1 304.9L366.1 305.7L367.1 306.6L369.2 307" stroke="#a2142f"/>
<path d="M332.4 336.9L332.8 335.6L333.4 334.7L333.8 334.8L334.2 335.5L334.4 336.1L334.6 336.1L334.8 335.6L335.2 333.2L335.6 331.8L336 331L337.2 331.2L337.4 330.9L337.7 330.1L338.5 325.2L339.1 321.2L339.5 319.5L340.3 317.4L340.7 316L341.1 314L341.9 308.4L342.1 307.3L342.5 306L342.9 305.4L343.3 305.4L343.7 306L344.1 307.1L345.3 311.9L345.7 312.9L345.9 312.9L346.1 312.6L346.5 311.2L347.1 308.6L347.5 307.4L348 306.9L348.4 307.2L348.8 308.3L349.2 310L350 312.2L350.4 312.6L351.2 311.8L352.2 310.8L353.4 310.2L354.4 310.7L355.4 311.4L356.2 311.1L357 310.1L357.6 308.8L359.3 303.7L359.7 302.9L360.3 302.4L360.9 302.9L362.1 304.9L362.9 305.3L364.3 305.5L366.1 307L369.2 307" stroke="#0072bd"/>
<path d="M332.4 259.7L332.8 261.2L333.2 264.6L334 270.7L334.4 273.1L334.6 273.9L334.8 274.3L335 274.4L335.6 273.6L336 272.8L336.2 272.8L336.6 273.6L336.8 274.4L337 275.4L337.7 279.7L337.9 280.8L338.1 283.7L338.3 286.1L338.5 288L338.9 290.5L339.3 292.1L339.9 293.5L340.5 294.3L341.9 297.3L342.3 297.6L342.7 297.1L342.9 296.5L343.5 293.6L343.9 291.4L344.3 290.2L344.7 289.8L345.1 290.4L346.3 294.4L347.3 296.7L347.8 298.2L348.8 303.2L349.2 304.4L349.6 304.7L350.2 304.3L350.8 303.3L351.4 303.3L352.8 304.7L353.4 304.5L354.6 303.3L355.8 302.8L356.6 301.3L357.2 300L357.9 299.2L359.3 299L360.7 300L364.5 304.2L366.3 305.7L367.3 306.6L369.2 307" stroke="#d95319"/>
<path d="M332.4 312.8L333 311.3L333.2 310.4L333.8 307L334 306.1L334.2 305.6L335 304.9L335.2 304.7L335.6 304.5L335.8 304.1L336.2 302.5L337 298.7L337.4 297.4L337.9 297.4L338.5 302.1L339.3 308L339.7 311.1L339.9 312.4L340.1 313.3L340.3 314L340.5 314.5L340.9 314.6L341.3 314L342.5 310.4L342.9 309.9L344.3 309.5L345.9 307.5L346.5 307.5L347.8 309.3L349.2 309.9L350 309.5L351.4 309.8L352.8 310.9L353.8 310.7L354.4 310L355.2 308.3L356.6 304.7L357 304.1L358.1 304.5L359.3 305.6L360.1 306.4L362.3 306.5L363.3 307.1L364.1 306.9L365.1 306.3L366.5 306.5L369 307L369.2 307" stroke="#edb120"/>
<path d="M332.4 362.1L333.6 354.3L334 352.3L334.2 351.6L334.4 351.3L334.8 349.5L335.2 346.3L335.6 344.7L336.4 342.1L336.6 341L336.8 339.6L337 337.8L337.2 335.6L337.9 327.6L338.1 325.6L338.7 320.4L338.9 319L339.1 318.1L339.3 317.7L339.5 317.6L339.9 318.4L340.7 320.5L341.1 321L341.7 320.6L342.7 319.6L344.1 319.8L344.9 320.5L345.7 321.6L346.3 321.7L346.9 320.7L347.5 318.8L348.2 316.2L348.6 314.9L349 314.3L350 313.7L351.2 313.6L353 312.6L355.4 312.5L358.1 311.1L359.7 311.4L360.3 311.1L362.1 308.5L364.9 307.4L368.2 307L369.2 307" stroke="#7e2f8e"/>
<path d="M332.4 237.4L332.8 240.9L333 243.8L333.2 246.2L333.8 252.3L334.2 255.7L334.8 259.8L335.4 262.9L336 265.4L336.4 267.6L336.8 270.3L337.4 274.8L337.7 275.4L337.9 275.2L338.1 276.7L338.3 277.5L338.5 277.7L339.1 276.8L339.9 276.9L340.5 277.8L341.1 278.7L342.9 279.2L343.9 280.2L345.3 284.3L345.9 286.9L346.5 290.3L347.1 294.4L348 299.1L348.6 301.8L349 303.1L349.4 303.8L350 303.8L350.4 303.5L351.2 302.5L352.6 300.9L354.8 299.9L356 300.8L356.6 300.5L359.1 297.7L360.5 298.2L362.5 299.9L364.7 302.5L366.5 305.8L367.3 306.6L369 307L369.2 307" stroke="#77ac30"/>
<path d="M332.4 287.5L332.6 286.7L332.8 286.1L333.4 286.4L334.2 286.3L334.4 286.2L334.8 285.2L335.6 282L336.2 278.6L336.8 275.9L337.2 274.8L337.4 274.5L337.9 275.6L338.1 278.2L338.3 280.5L338.5 282.4L339.5 289.9L339.9 292.4L340.1 293.3L340.5 294.5L340.9 295L341.5 294.8L342.7 293.1L343.1 293.3L343.9 294.9L344.3 295.7L345.1 296.3L346.3 296.6L347.5 297.5L350.4 298.7L350.8 298.8L352.2 300.9L352.8 302.1L353.4 302.7L355 302.5L356 303.6L356.8 304.7L357.4 304.8L358.3 303.9L358.9 302.6L359.3 301.6L360.1 300.5L360.7 300.6L361.3 301.7L362.3 304.6L362.9 305.5L363.5 305.4L364.5 304.9L365.3 305.4L366.7 306.6L369.2 307" stroke="#4dbeee"/>
<path d="M332.4 292L332.8 294.5L333 296.1L333.2 297.2L333.8 299.7L334.4 301.9L334.6 302.3L334.8 302.4L335 302.1L335.6 300.2L336.2 296.9L336.6 295.4L336.8 295L337 295L337.4 295.6L337.9 296.8L338.3 300.4L338.5 301.7L338.7 302.5L339.1 303.3L340.1 303.9L340.7 303.7L341.1 302.9L341.9 299.6L342.7 296.3L343.1 295.3L343.5 295L343.9 295.2L344.7 296.7L345.5 298.7L346.3 299.9L347.1 301.1L348.2 303.2L348.8 303.7L349.4 303.6L350.2 303.4L350.6 303.6L351.6 305.2L352.6 306.1L354.6 306.9L355.6 306.5L356.4 305.3L357 304.2L357.9 304.2L359.1 305.1L359.7 305.1L360.5 304.2L361.3 303.1L361.9 303L362.5 304L363.5 306.5L364.1 307.1L365.7 306.8L366.7 306.7L369.2 307" stroke="#a2142f"/>
<path d="M332.4 322.9L332.8 320.4L333.4 318.6L334 317.7L334.4 317.4L334.6 316.8L334.8 315.9L335.2 312.8L335.8 309.2L336.2 307.4L336.8 305.6L337.4 304.4L337.7 304.3L337.9 303.9L338.3 304.8L338.5 304.9L339.1 304.3L339.5 304.7L339.9 305.9L340.9 309.3L341.7 310.9L342.5 312L343.9 315.1L345.1 318.6L345.5 319.4L345.9 319.5L346.3 318.8L346.7 317.3L347.3 314.5L347.8 313.4L348.2 313.1L348.6 313.5L349.2 314.9L349.6 315.1L350.2 314.5L350.8 313L351.6 310.6L352.2 309.7L353 309.6L353.8 309.8L354.6 309.1L355.6 308L358.1 306.8L360.3 307L361.1 307.1L361.9 307.4L363.1 306.9L363.9 306.5L364.9 306.8L365.9 307.3L369.2 307" stroke="#0072bd"/>
<path d="M332.4 242.6L332.8 246.2L333 249.1L333.4 253.8L334 260L334.8 267.2L335.6 273.8L336.2 277.9L336.4 279.1L336.6 279.7L336.8 279.9L337 279.4L337.2 278.4L337.4 276.9L337.9 272.4L338.5 273L339.1 273.4L340.5 276.2L341.7 278.2L343.1 279.6L343.9 280.8L344.7 282.8L345.3 284.9L346.9 292.1L347.5 294.1L348.4 295.8L349 296.4L350 296.6L350.6 297.1L351.2 298.2L351.6 298.4L353 297.5L353.8 297.8L354.8 298.3L356 298.1L356.8 297.8L358.7 299L359.3 299.1L360.9 300.5L362.5 301.3L364.5 303.7L366.9 306.5L369 307L369.2 307" stroke="#d95319"/>
<path d="M332.4 348.5L333.2 345.3L334 341.4L334.2 340.7L334.4 340.2L334.8 338.5L335.2 335.9L336 333.6L336.6 332.6L337 332.7L337.7 334.1L338.1 334.2L338.3 333.8L338.5 333L338.9 330.4L339.7 323.7L340.1 320.9L340.3 319.8L340.5 318.9L340.9 318L341.7 317.5L342.5 317.3L343.3 316.3L344.7 313.9L345.1 313.6L345.5 313.9L347.1 316.5L347.8 316.9L348.2 316.4L348.6 315.4L349.2 312.8L349.6 310.8L350 309.5L350.6 308.6L352.4 309.4L354.2 309L355.6 310L356.2 309.8L357.4 308L358.3 306.6L359.3 305.8L360.5 306L361.7 307.1L363.9 308L367.8 307L369.2 307" stroke="#edb120"/>
<path d="M332.4 341.4L332.8 338.2L333.6 332.6L333.8 331.4L334 330.6L334.2 330.1L334.8 329.6L335.2 328.5L335.8 328.1L337 326.4L337.7 326L337.9 325.6L338.3 325.2L338.5 324.6L338.9 322.3L339.5 317.9L340.1 314.5L340.5 312.9L340.9 312.1L341.5 311.7L342.3 311.8L343.3 312.9L343.9 313.5L344.5 314.8L345.3 317.1L345.9 318.2L346.3 318.4L346.7 318.1L347.1 317.1L347.5 315.4L348.6 310.1L349.2 307.7L349.6 306.7L350 306.4L350.8 307.2L352.2 309.7L353 311.2L353.8 311.9L354.6 311.9L356.8 310.2L358.5 308.5L359.5 308.3L360.3 308L361.1 307.4L363.3 308.5L364.1 308.3L366.9 307.1L369.2 307" stroke="#7e2f8e"/>
<path d="M332.4 361.5L333.2 349.3L333.6 343.4L333.8 340.7L334 338.2L334.2 336.1L334.6 333.2L335 330.9L335.2 330L335.4 330L336.2 331.5L336.4 331.6L336.6 330.9L336.8 329.7L337 328.1L337.4 324L337.9 320.3L338.1 319.2L338.3 318.5L338.7 318.2L338.9 318.5L339.1 319.2L339.7 322.1L340.1 323.4L341.9 326L342.3 326.2L343.9 324.4L345.1 323.4L346.3 321.6L347.8 320.4L349.2 318.4L350 316.1L350.8 314.5L352.2 313.1L354.6 310.7L356 310.2L356.8 310.5L357.6 311L358.7 310.7L359.7 310.4L361.7 310.5L363.3 309.7L364.1 308.7L365.1 307.4L366.1 307L369.2 307" stroke="#77ac30"/>
<path d="M332.4 352.4L332.8 347.6L333.4 341.1L333.8 337.2L334 335.7L334.2 334.5L335 332L335.2 331.6L335.4 331.9L335.8 333.4L336.2 334.9L336.4 335.3L336.6 335.1L336.8 334.4L337 333.3L337.9 327.3L338.3 325.8L338.7 324.7L339.1 324.3L339.5 324.5L340.5 326.4L341.1 326.9L341.5 326.4L342.1 324.7L343.3 320.1L344.7 314.5L345.3 312.7L345.9 311.7L346.5 311.5L348 312.8L349 314.2L349.2 314.6L349.8 314.5L350.4 313.9L351.8 310.7L352.6 309.7L353.2 309.5L354.8 310.6L355.4 310.3L356.8 308.2L358.1 307.8L359.5 307.5L360.3 306.9L361.3 305.9L362.1 305.7L362.7 306.4L363.7 307.9L364.7 308.6L365.5 308.4L367.1 307.2L369.2 307" stroke="#4dbeee"/>
<path d="M332.4 351L333.6 344L333.8 343.1L334 342.6L334.2 342.5L334.6 342.9L334.8 343L335.2 342.2L335.8 342.5L336.4 342.2L337.4 340.6L338.1 338.3L338.3 337.5L338.5 336.3L339.7 326.8L340.1 324.2L340.3 323.3L340.5 322.8L340.7 322.5L341.1 322.8L341.7 323.9L342.1 324L342.9 322.8L343.7 321.1L344.3 320.6L345.1 320.3L345.7 319.4L346.5 318L347.1 317.9L348 318.2L348.6 317.8L349.2 316.5L349.6 314.4L350 312L350.6 309.6L351 308.6L351.6 308L354.4 307.8L355.2 307.9L356.6 309.6L357.4 309.8L358.7 308.9L359.5 308.1L360.3 308.1L361.9 309.3L363.5 309.2L367.3 307.1L369.2 307" stroke="#a2142f"/>
<path d="M332.4 251.4L332.8 255.6L333 258.5L333.2 261L333.6 265L334 268.4L334.6 272.4L335.4 276.9L335.6 277.9L336 279.2L336.4 279.9L336.6 279.7L336.8 279L337 277.8L337.2 276.2L337.9 270.2L338.5 271.8L338.7 272L340.5 276.4L341.1 278.3L342.1 282.6L342.9 285.3L343.3 286L344.5 286.6L345.1 287.5L345.5 288.5L346.1 291L347.1 296L347.8 298L348.6 299.8L349.4 300.7L350.4 301L350.8 300.9L351.6 301.6L352.8 303.6L353.2 303.7L353.8 302.9L354.4 301.6L355 300.2L357 299.5L358.3 300L359.9 300.6L361.3 300.2L362.1 300.8L362.7 301.9L363.7 304.3L364.3 305.1L365.7 305.4L367.3 306.7L369.2 307" stroke="#0072bd"/>
<path d="M332.4 366.4L333 358.3L333.4 353.4L333.6 351.2L333.8 349.2L334 347.6L334.2 346.4L334.6 344.8L334.8 343.8L335.2 341.2L335.8 339L336.2 336.9L336.6 334.3L337.2 330.2L337.4 329L337.9 327.5L338.7 326.8L339.9 327L340.7 326.3L341.7 326.7L342.3 326.2L343.5 324.6L345.1 323.5L345.9 321.8L346.9 319.6L348.2 318.1L349.2 317.1L350 315.3L351.4 312.9L353.2 309.3L353.6 309L354 309.3L355 311.2L355.6 311.4L356.2 310.6L357 309.1L357.9 308.5L361.1 309.6L361.7 310L363.1 309.8L366.3 307.6L367.8 307.1L369.2 307" stroke="#d95319"/>
<path d="M332.4 300.8L332.8 300.2L333.2 300.5L333.8 300.8L334.4 301.8L334.8 301.9L335.2 301.3L335.6 301.8L336 303L337.2 308.5L337.4 309.1L337.9 309.7L338.3 311.7L338.5 312.4L339.5 314.3L339.9 314.8L340.5 314.6L341.1 313.6L341.5 312.2L341.9 310.2L343.1 302.7L343.3 301.6L343.5 300.8L343.7 300.3L343.9 300.2L344.3 301.1L345.1 303.6L345.9 305.1L346.5 306.2L347.3 308.8L347.8 309.4L348.2 309.3L348.6 308.6L349.2 306.4L349.6 304.8L350 304L350.4 304.2L350.6 304.5L351.4 306.7L351.8 307.1L352.2 306.8L353.2 304.6L353.8 304.2L355.6 304.8L356.2 304.4L357.2 302.7L357.9 302L358.5 301.9L359.1 302.5L359.9 304.3L360.7 305.4L361.5 305.8L363.3 305.2L365.9 306.7L369.2 307" stroke="#edb120"/>
<path d="M332.4 244.1L332.6 245.4L332.8 247L333 249.6L333.6 256.1L334.4 264.3L335 269.9L335.6 274.9L336.2 279.2L336.6 282.2L337 284.5L337.2 285.2L337.4 285.6L337.7 285.2L337.9 284.3L338.3 285.9L338.7 286.7L339.3 288L340.1 289.9L340.7 290.7L341.3 290.7L341.9 289.9L342.9 287.7L343.5 287.1L343.9 287.2L346.1 291.2L347.8 294L349.6 297.2L350.4 298L351.2 297.5L352.2 296.4L353.2 296L355.2 297L357.4 299.6L358.9 299.6L359.3 299.6L360.1 300.7L360.9 302.3L361.5 302.9L362.7 303L364.9 304L366.7 306.3L368.4 306.9L369.2 307" stroke="#7e2f8e"/>
<path d="M332.4 275.1L332.8 277.6L333 279.2L333.2 280.5L334 283.7L334.2 284.7L334.6 287.4L335.2 292.6L335.6 296.3L336.2 300.9L336.4 302.2L336.6 303L336.8 303.5L337.2 303.7L337.4 303.5L337.7 302.4L337.9 301L338.3 300.7L338.5 300.2L339.7 295.5L340.3 293L340.5 292.6L340.7 292.4L340.9 292.6L341.3 293.6L342.5 298.4L342.9 299.5L343.1 299.8L343.5 299.6L344.5 298L344.9 297.5L345.1 297.6L345.5 298.7L345.9 300.5L346.5 303.7L346.9 305.1L347.1 305.6L347.5 305.7L348.8 304L350 302.9L350.4 302.3L350.8 301.5L351.8 301.1L353.4 301.3L354 301.4L354.6 302.1L355.8 304.4L356.4 304.8L357.4 303.7L358.3 301.9L359.3 299.3L359.9 299L360.5 299.5L361.9 301.7L363.1 302.5L364.5 303.3L365.5 304.8L366.5 306.2L367.5 306.8L369.2 307" stroke="#77ac30"/>
<path d="M332.4 368.6L333.2 360.9L333.8 356L334.2 353.4L334.4 352.5L334.6 350.8L334.8 348.6L335.2 342.6L335.4 340.3L335.6 338.4L335.8 336.8L336 335.5L336.2 334.7L336.6 334.1L336.8 334.3L337 334.8L337.4 336.8L337.7 338L337.9 338.9L338.3 338.3L338.7 337L340.5 330.7L341.5 328.1L342.5 326.3L344.5 324.3L346.1 322.8L347.5 320.7L348.4 318.4L348.8 317.9L349.2 318L351 316.1L353.4 313.1L354.6 312.6L357.6 311.5L359.7 310.1L361.9 309.3L364.1 308.6L367.3 307L369.2 307" stroke="#4dbeee"/>
<path d="M332.4 270.1L332.8 272.4L333 274.3L333.2 275.6L333.4 276.6L333.6 277.3L334 277.9L335 278L335.2 278.3L335.8 279.8L336.4 280.8L336.8 280.7L337.2 280.1L337.9 278.7L338.3 281.5L338.5 282.5L339.1 284L339.5 284.6L339.9 284.7L341.7 283.1L342.5 282.2L342.9 282.4L343.3 283.2L343.5 283.8L343.7 284.7L343.9 285.9L344.5 290.7L344.7 291.9L344.9 292.9L345.1 293.7L345.5 294.4L345.9 294.3L346.5 293.6L346.9 293.8L348 295.8L348.8 297.2L350 299.1L350.4 299.7L350.8 300.1L353.4 304.1L355.2 305.5L355.8 305.6L356.2 305.2L357 303.3L357.6 302.6L358.9 302.8L359.9 301.6L360.5 300.8L361.1 300.6L362.1 301.5L363.5 303.5L364.3 304.1L365.5 304.6L367.3 306.5L368.8 307L369.2 307" stroke="#a2142f"/>
<path d="M332.4 267.2L332.6 267.3L332.8 267.7L333.4 271.7L333.8 275.1L334.6 283.6L334.8 285.5L335 287L335.4 288.9L335.6 289.4L336 289.2L337 287.5L337.9 286.7L338.3 289.3L338.5 290.1L338.9 290.3L339.3 289.8L340.1 287.6L340.5 287.3L341.5 287.6L342.1 287L342.5 286.3L342.7 286.2L342.9 286.4L343.1 286.8L343.3 287.5L343.5 288.5L343.7 289.7L343.9 291.2L344.7 298L344.9 299.4L345.1 300.4L345.3 301.1L345.7 301.7L346.1 301.6L347.1 300.5L347.5 300.5L348 301.1L349.2 304.9L349.8 305.7L350.2 305.8L350.4 305.6L351.2 303.8L352.2 301.1L353 300.2L354.6 299.1L355.2 299.2L356.4 301L358.1 302.7L358.9 303L360.1 303.2L361.1 302.6L361.7 302.9L362.5 304.3L363.3 306L363.9 306.6L365.7 305.9L368 306.9L369.2 307" stroke="#0072bd"/>
<path d="M332.4 342.6L333 340L333.4 338.4L333.6 337.9L333.8 337.8L334 338L334.2 338.8L334.4 339.9L334.8 341.4L335.2 341.5L336 343.3L336.4 344L336.6 344.1L337.4 341.6L338.3 338.6L339.3 334.4L340.1 331.6L340.5 329.7L340.9 327.1L341.9 318.9L342.7 312.5L342.9 311.3L343.1 310.3L343.3 309.6L343.7 309.1L344.1 309.5L344.9 310.9L345.3 311.2L345.7 310.9L346.5 309.7L347.1 309.7L348 310.6L349 312.9L349.2 313.5L349.8 314.3L350.6 314.9L351.6 314.6L352.6 313.5L354.4 311.5L356.2 310L357.9 306.7L358.5 306.6L360.1 307.3L361.3 307L363.7 307.3L365.1 306.9L369.2 307" stroke="#d95319"/>
<path d="M332.4 357.3L332.8 353.5L333.2 350.2L333.4 348.8L333.6 347.6L333.8 346.8L334 346.3L334.2 346.2L334.4 346.5L334.8 346.3L335.2 344.5L335.8 342.8L336.4 340.2L337.7 332.7L337.9 331.6L338.3 330.2L339.1 328.4L339.9 326.8L341.1 322.8L342.3 319.8L343.1 316.9L343.7 314.5L344.1 313.4L344.7 312.7L345.3 312.5L346.3 312.9L348 312.2L349 311.7L349.8 311.7L351.2 312.6L353 312.5L354.2 311.6L355.6 309.9L356.8 309.6L358.1 309.7L359.7 308.9L361.9 308.8L364.3 308.3L366.9 307.1L369.2 307" stroke="#edb120"/>
<path d="M332.4 281.8L332.8 282.3L333.2 284.1L334.6 288.9L334.8 289.4L335.6 290.2L336 289.8L336.4 288.8L336.8 286.9L337.4 283.5L337.9 282L338.3 284.6L338.5 285.6L339.5 289.3L340.5 292L340.9 292.6L341.3 292.6L341.7 291.9L342.5 289.6L342.9 289L343.5 288.7L343.9 289.1L345.5 294.1L346.3 296.5L347.3 298.3L348.4 299.8L349.2 301.3L350 301.7L350.8 301.5L351.6 301.8L353.2 300.9L354 301.2L355.8 303.5L356.8 304.7L357.4 305.5L358.3 305.9L358.9 305.4L360.1 303.8L360.7 303.7L362.1 304.9L363.9 304.6L364.9 304.9L366.9 306.6L369.2 307" stroke="#7e2f8e"/>
<path d="M332.4 338.6L333.4 331.4L333.8 328.5L334 327.3L334.2 326.3L334.6 324.8L334.8 324L335.2 321.5L335.8 319.2L337 313.4L337.4 311.8L337.9 311L338.3 311.4L338.5 311.1L338.9 309.6L340.1 302.8L340.3 302L340.5 301.6L340.7 301.6L340.9 301.9L341.1 302.7L341.3 303.8L341.9 308.3L342.3 311.5L342.5 312.7L342.7 313.6L342.9 314L343.1 314L343.5 312.9L344.3 309.9L344.7 308.9L345.1 308.8L345.7 309.9L347.5 314.3L348 315L348.6 315.2L349.2 314.8L351 308.9L351.4 308.1L351.8 307.8L352.6 308.3L353.8 309.1L354.8 309L356.8 307.4L358.1 308L358.7 308.1L359.9 306.4L360.5 305.6L361.1 305.7L362.3 306.5L364.5 306.5L365.9 307L369.2 307" stroke="#77ac30"/>
<path d="M332.4 246.1L332.8 250.3L333 253.3L333.2 255.8L333.6 259.8L333.8 261.5L334 262.8L334.2 263.8L334.4 264.5L334.8 265.2L336 265.7L336.4 266.5L337.2 269.1L337.7 269.7L337.9 269.5L338.1 271.3L338.3 272.6L338.5 273.3L339.5 274.7L340.5 276.7L341.5 279L342.3 281.2L342.9 281.8L343.3 281.3L343.9 280.2L344.7 281.7L345.7 284.7L346.7 288.2L348.2 293.6L349 295.8L350 297.3L350.4 297.8L350.8 297.9L351.6 298.4L353.4 298.8L355 298.3L356.4 299.2L358.1 299.2L358.9 298.8L359.3 298.6L360.7 298.8L362.7 300.1L364.7 302.4L366.7 305.9L367.5 306.6L369 307L369.2 307" stroke="#4dbeee"/>
<path d="M332.4 257.4L332.8 259.7L333 261.5L333.2 262.8L333.6 264.7L334.8 269.2L335.6 272.8L336 273.7L336.4 274.1L337.4 273.1L337.9 273L338.1 275L338.3 276.7L338.5 277.9L338.9 279.1L339.7 280.5L340.5 281L341.3 282.5L342.3 284.6L342.9 285.3L343.3 285.2L343.9 284.5L344.5 284.6L344.9 285.2L345.5 286.9L346.3 289.4L347.8 293L348.4 294.2L349.4 294.9L350.6 295.7L351 296.5L351.8 298.2L352.6 299L354.8 300.1L356.4 300.5L357 301.2L357.6 302.2L358.1 302.5L358.5 302.2L359.5 300.1L360.3 299.1L361.1 299.1L362.5 300.4L364.9 303.1L366.7 306.1L367.5 306.7L369.2 307" stroke="#a2142f"/>
<path d="M332.4 364.3L333.2 356.7L333.6 352.9L333.8 351.1L334 349.7L334.2 348.5L334.4 347.8L334.8 345.7L335.2 342.6L336.4 337.9L337 335L337.4 333.4L337.9 332.5L338.5 331.6L340.3 327.4L341.1 325.8L341.7 323.9L342.7 319.9L343.5 317.8L344.1 317L344.7 316.8L345.3 317.2L346.1 318.5L346.5 318.7L346.9 318.3L347.8 316.4L348.2 316L348.6 316.3L349.2 317.3L349.8 317L351.6 315.1L352.6 314.9L354.2 314.2L355.8 313.7L357.2 312.6L359.1 310.4L361.1 307.1L362.3 306.3L363.5 306.2L365.5 307.4L368.4 307L369.2 307" stroke="#0072bd"/>
<path d="M332.4 324.1L332.8 323.1L333.8 322.5L334.2 322.8L334.4 323.3L334.8 323.4L335.2 322.2L335.6 321.5L336 320L336.8 316.7L337.2 315.9L337.9 315.9L338.3 317.4L338.5 317.8L338.9 317.5L339.5 316L340.5 312.3L341.3 310L341.7 308.3L342.3 304.9L343.3 298.5L343.5 297.5L343.7 296.8L343.9 296.3L344.3 296.4L344.5 296.8L344.7 297.5L345.1 299.9L346.3 308.6L346.5 309.8L346.7 310.7L346.9 311.3L347.3 311.8L348 311.4L349 310.3L350 309.8L350.6 309.9L352.2 309.2L353.6 309.5L354.4 308.9L355.4 307.9L356.2 308L357.4 308.8L358.1 308.5L359.5 306L361.1 303.6L361.9 303.1L362.7 303.5L365.1 305.7L366.1 306.6L369 307L369.2 307" stroke="#d95319"/>
<path d="M332.4 253.7L332.6 255L332.8 256.6L333.2 261.3L334 269.6L334.4 273L334.6 274.3L334.8 275.3L335 275.9L335.4 276.4L335.6 276.5L336.6 275.4L337.7 273.6L337.9 273.3L338.3 277.3L338.5 279L339.3 284.4L339.7 286.5L340.1 287.7L340.7 288.5L341.7 289.1L342.9 290.3L343.3 290.1L344.9 287.7L345.5 287.7L346.5 289.3L347.3 291L348.2 292.3L349.2 294.4L349.8 296L350.4 296.9L350.8 297L352.6 298.7L353.4 298.6L355 297.3L357 298.2L359.1 299.4L359.9 300.8L360.7 302.5L361.3 303.1L363.9 302.7L364.7 303L365.5 304.1L366.5 305.9L367.3 306.6L369.2 307" stroke="#edb120"/>
<path d="M332.4 334.3L332.8 330.7L333.4 326.9L333.8 325L334 324.4L334.2 324.1L334.6 324L334.8 323.8L335.2 322.7L335.8 322.7L336 322.4L336.2 321.8L336.4 321L336.8 318.2L337.9 309.3L338.7 306L338.9 305.4L339.1 305.1L339.3 305.2L339.5 305.6L340.5 309.3L340.9 310.4L341.5 311.1L342.7 311.2L343.7 312.9L344.3 314.3L344.7 314.6L345.1 314.3L345.5 313.2L346.5 309.1L347.1 307.5L348 306.4L348.8 306.1L349.6 306.8L350.2 308.2L351 310.9L351.4 311.9L351.8 312.3L352.4 311.8L353.8 308.9L354.4 308.4L355.2 308.6L357.4 310L358.3 309.8L359.1 308.7L360.9 306.8L362.7 305.4L364.7 305.2L366.7 306.8L369.2 307" stroke="#7e2f8e"/>
<path d="M332.4 299.9L332.8 301.2L333.2 303.2L334.2 306.8L334.8 309.3L335.2 310.5L335.6 312.2L335.8 312.6L336 312.8L336.2 312.6L336.4 312L336.6 310.9L336.8 309.3L337 307.4L337.4 302.7L337.9 297.9L338.1 297.4L338.7 297.1L338.9 297.3L339.1 297.9L340.1 302.5L340.7 305.8L341.3 308.2L341.9 309.8L342.3 310.3L342.9 309.7L344.1 306.5L344.7 305.8L345.9 305.7L346.7 304.8L348 302.8L348.6 302.7L349.8 303.4L350.4 303.5L351.8 303L353.4 300.4L354 300L354.6 300.5L356.2 303.3L357.2 306.1L357.9 307L358.3 307.2L358.9 306.6L359.7 305.2L360.3 304.9L361.1 305.5L361.9 306.5L362.9 306.7L364.3 305.6L364.9 305.7L366.3 307L369.2 307" stroke="#77ac30"/>
<path d="M332.4 347.6L333.2 344.7L334 341.3L334.2 340.7L334.4 340.5L334.8 339L335.2 336.3L336 332.7L336.4 331.8L336.8 331.4L337.2 331.9L337.9 333.4L338.3 334L338.5 334.1L339.1 333.4L340.1 331.3L340.7 329.5L341.1 327.6L341.9 322.5L342.3 320.6L342.5 320.1L342.7 319.8L343.3 320.1L344.1 321L344.5 320.8L344.9 320L346.1 316.4L346.9 314.8L348 314L349.2 313.3L350 312.1L350.8 311.9L351.8 312.2L354.2 311.5L354.8 310.7L356.2 307.7L356.8 307L357.4 307.3L358.7 309.1L359.7 309.6L361.3 309.4L363.1 309.5L364.1 308.8L365.1 308L367.8 307L369.2 307" stroke="#4dbeee"/>
<path d="M332.4 311.5L332.8 311.5L333 311.7L333.8 311.3L334 311.5L334.2 311.9L335 315.2L335.2 315.9L336 320.8L336.2 321.8L336.4 322.4L336.6 322.6L337 322.1L337.4 320.8L337.9 318.2L338.5 316L339.1 312.4L339.9 306.8L340.1 305.7L340.3 304.8L340.5 304.3L340.7 304.1L340.9 304.4L341.3 305.6L342.1 308.6L342.3 309L342.5 309.2L342.7 309L342.9 308.6L343.1 307.9L343.5 305.8L343.9 303.5L344.1 302.7L344.5 301.9L344.9 301.9L345.3 302.5L345.7 303.8L346.1 305.6L346.9 310.1L347.3 311.5L348.2 313.3L349.2 314.4L350.4 313.1L351.4 311.1L353 307L353.6 306.1L356.8 304.7L358.3 304.4L359.3 304.1L361.5 305.1L364.3 306.4L365.5 307L367.8 306.9L369.2 307" stroke="#a2142f"/>
<path d="M332.4 303.1L332.8 304.6L333.2 306.8L334 309.9L334.4 311.2L334.8 311.6L335.2 311.1L336 312.4L336.4 313.4L336.8 314L337.4 313.9L337.9 312.6L338.3 312.7L338.7 312.1L340.1 310.1L340.5 310L341.1 310.7L341.7 311.7L341.9 311.8L342.1 311.7L342.5 310.6L343.1 308L343.7 304.9L343.9 304.1L344.3 303.5L345.1 303.3L346.1 302L346.5 301.9L346.9 302.5L347.5 304.4L348.2 306.7L348.8 307.9L349.2 308.4L351.2 307.9L351.8 306.7L352.8 304.1L353.2 303.6L353.6 303.7L354.4 305L355.2 306.5L355.8 307L357 306.7L358.5 307.1L360.3 306.1L362.3 304.1L362.9 304.3L364.1 306L367.1 306.9L369.2 307" stroke="#0072bd"/>
<path d="M332.4 365.6L333 357.1L333.4 352.2L333.6 350.1L333.8 348.4L334 347.2L334.2 346.6L334.8 346.4L335.2 345.2L335.6 344.9L335.8 344.4L336 343.8L336.2 342.8L336.4 341.5L337 336.3L337.2 335L337.4 334.2L337.7 334L337.9 334.3L338.5 336L338.7 336.1L341.3 329.1L342.5 326.6L343.3 325.1L343.7 324.3L344.3 322.3L344.9 321.3L347.1 318.9L349.2 317.1L350 315.6L352.2 313.8L355.8 312.4L357.2 311.3L358.3 310.1L359.7 309.6L362.1 309L363.9 308.3L365.7 306.8L369.2 307" stroke="#d95319"/>
<path d="M332.4 254.8L332.8 258.5L333 261.1L333.2 263.2L333.6 266.6L333.8 267.9L334 269L334.2 269.8L334.4 270.4L334.6 270.6L334.8 270.5L335.4 269.7L335.8 269.9L336 270.5L336.2 271.6L336.4 273.2L336.6 275L337 279.4L337.2 281.2L337.4 282.4L337.7 282.8L337.9 282.3L338.1 283.4L338.3 284L338.5 284.2L339.1 284L340.1 286.1L340.9 287.7L342.3 288.7L343.1 288.8L343.9 288.4L344.5 289.4L345.9 293.8L346.7 295.3L347.3 295.8L348.4 296L349.6 294.7L350.2 294.9L350.6 295.1L351 296L351.8 298.3L352.6 299.6L354.2 301.9L354.8 302.1L356 302.1L357 302.4L357.4 302L358.9 298.2L359.1 297.9L359.7 298.1L360.7 299.8L362.3 303.7L362.9 304.4L364.9 304.5L366.3 305.7L367.3 306.6L369 307L369.2 307" stroke="#edb120"/>
<path d="M332.4 302.4L332.8 301.7L333.2 301.9L334.2 301.4L334.6 301.3L335.2 300.6L335.8 301.5L337.2 305.5L337.4 305.7L337.7 305.5L337.9 304.8L338.1 304.8L338.3 304.4L338.5 303.4L339.3 296.9L339.9 292.6L340.1 291.3L340.3 290.4L340.5 289.8L340.7 289.6L340.9 289.7L341.3 290.6L342.3 294.2L342.7 296L343.1 298.2L343.5 299.7L343.7 300.1L344.1 300.1L344.5 299.2L344.9 297.8L345.1 297.4L345.5 297.3L346.1 298.4L347.1 301.1L348.4 302.9L349.4 304L350.8 304.9L351.8 305.9L353.4 306.4L354.6 307.9L355.6 310.2L356.2 310.9L356.8 310.7L357.4 310L358.1 308.6L358.9 305.9L359.1 305.5L359.5 305.3L360.1 306L360.9 307.2L361.5 307.5L362.7 306.4L363.7 305.3L364.5 305.3L366.1 307L369.2 307" stroke="#7e2f8e"/>
<path d="M332.4 280.9L332.6 280.8L332.8 280.9L333.4 283.3L334.4 287L334.6 287.4L334.8 287.6L335.4 286.5L335.8 285.4L336.6 282.5L337 282L337.4 282.1L337.9 283L338.1 285.1L338.3 286.9L338.5 288.2L339.5 291.8L340.1 295L340.7 298.1L341.3 300.5L341.7 301.5L342.7 302.5L343.3 304L343.9 305.9L344.3 306.7L344.9 307L345.5 306.5L347.8 301.8L348.4 301.2L349 301.4L350.4 302L350.8 301.9L351.6 302.4L352.2 302.2L354.2 299.5L355 299.1L357 300.2L358.3 301.4L359.9 303.6L362.7 304.5L364.1 305.8L366.1 306.2L367.5 306.9L369.2 307" stroke="#77ac30"/>
<path d="M332.4 334.7L332.8 331.9L333.4 329L333.8 327.8L334.2 327.6L334.4 327.8L334.6 327.7L334.8 327.3L335.2 325.3L336.2 321.6L337.2 318.7L337.7 317.1L337.9 316L338.5 314.3L339.1 312L340.5 309L341.1 308.4L342.5 307.8L343.1 307L343.9 305.2L344.3 305.2L344.7 306L345.1 307.6L346.1 312.7L346.5 313.9L347.1 314.6L347.8 314.6L348.6 313.9L349.2 313L350 311.2L351.4 309.9L352.8 309.1L354.2 309.2L356.6 307.8L358.1 307.1L360.3 308L361.7 307.9L363.5 306.6L364.5 305.8L365.5 306L367.5 306.8L369.2 307" stroke="#4dbeee"/>
<path d="M332.4 353.8L333 348.2L333.6 341.7L334 337.2L334.2 335.2L334.6 331.8L334.8 329.9L335.2 325.5L335.6 322L336 317.6L336.4 313.2L336.8 309.1L337 307.4L337.2 306L337.4 305L337.9 305.3L338.3 307.5L338.5 308.1L338.9 308.3L339.7 308.2L340.5 308.6L341.1 309.5L341.5 310.6L342.5 314.8L342.9 315.7L343.1 315.8L343.5 315.2L344.1 313.3L345.1 309.6L345.7 308.2L346.3 307.8L347.1 307.6L348.2 306.8L348.6 307L349 307.7L349.4 308.8L350.4 310.5L351 310.3L352.4 308.8L353 308.6L353.6 309L354.4 310.5L355 311.6L355.6 312L356.2 311.7L357.9 309.6L361.1 307.2L362.5 307.1L363.7 307.4L365.3 306.8L369 307L369.2 307" stroke="#a2142f"/>
<path d="M332.4 289.9L332.8 290.5L333 291.4L333.4 292.4L333.8 292.7L334.4 292.2L334.8 291.1L335.2 289.8L335.6 289.7L336.2 290.1L336.6 290.6L337.2 290.4L337.9 289.6L338.3 291.8L338.5 292.6L339.3 293.7L339.7 293.8L340.1 293.1L340.9 290.8L341.3 290.2L341.7 290.1L343.1 291.4L343.9 291.7L344.9 292.6L345.7 293L346.3 294L347.3 296.1L348 297.1L348.6 298.6L349.2 300.7L350.2 304.6L351 306.7L351.6 307.6L352.2 307.4L353 306.4L353.6 306.4L354.2 306.6L354.8 306L356.2 302.4L356.8 301.7L357.9 302.3L359.1 303.9L359.7 305.1L360.3 305.7L362.3 305.1L364.3 305.6L365.7 305.7L367.3 306.8L369.2 307" stroke="#0072bd"/>
<path d="M332.4 278.1L332.8 277.3L333.2 278.1L335.6 279L336.2 278.7L336.6 279.2L336.8 279.8L337.2 281.6L337.4 282.8L337.7 284.2L337.9 285.3L338.1 288.1L338.3 290.3L338.5 292L338.7 293L339.1 294.3L339.5 295L339.9 295.2L341.3 294.1L341.9 294.3L342.5 295.4L343.3 298L344.5 300.9L344.9 301.3L345.7 300.8L346.7 299.8L347.3 299.8L347.8 300.4L348.8 303L349.2 303.7L349.8 303.6L350.8 302.6L352.6 302.8L353.2 303.7L354.4 306.6L355 307.2L355.8 307.2L356.6 306.5L358.1 304.3L359.9 302.3L360.7 301L361.3 300.7L363.5 301.8L364.9 303.1L366.7 306L367.8 306.7L369.2 307" stroke="#d95319"/>
<path d="M332.4 292.9L332.8 291.9L333 292L333.4 291.2L334.2 288.9L334.6 288.6L335 289.2L335.2 290L335.8 293.9L336.2 296L336.4 296.8L336.6 297.1L336.8 297.1L337 296.7L337.2 296L337.7 293.9L337.9 292.6L338.3 293.3L338.9 293.4L339.1 293.7L339.5 295L340.1 297.3L340.7 298.8L341.1 299.2L341.5 299.1L341.9 298.3L342.3 296.9L342.7 295.1L342.9 294.4L343.1 294L343.3 293.8L343.7 294.3L344.1 295.5L344.9 298.1L345.5 299L346.3 299.7L346.9 300.9L347.8 302.7L348.2 303.2L348.8 303L349.8 301.6L350.2 301.6L350.6 302L351 303.2L351.6 305.2L352.2 306.4L354.8 308.8L355.6 308.7L357.4 307.4L358.5 305.5L359.3 303.9L359.9 303.6L360.7 304.4L361.5 305.3L362.3 305.2L363.5 304.7L366.5 306.1L368 306.8L369.2 307" stroke="#edb120"/>
<path d="M332.4 326.3L332.8 324.7L333.4 323.2L334 321L334.4 319.3L334.8 316.4L335.2 312.6L335.4 311.5L335.8 310.1L336.2 309.7L337 309.7L337.7 309.2L337.9 308.8L338.3 309.7L338.5 309.7L339.1 309.3L339.5 309.6L340.7 311.7L341.1 311.8L341.7 311.2L342.9 309.4L343.7 308L344.5 306.3L345.3 305.6L345.7 305.8L346.1 306.7L346.7 309.1L347.1 310.7L347.8 312L348.4 312.7L349.2 312.5L350.2 310.3L350.8 309.3L352.4 308.7L353.8 306.8L354.6 306.5L356 306.9L357.9 306.1L360.1 306.4L360.7 307L361.5 308.3L362.7 308.8L363.5 308.6L365.5 307.1L366.7 306.7L369.2 307" stroke="#7e2f8e"/>
<path d="M332.4 235.9L332.8 240.6L333 243.8L333.2 246.4L333.6 250.6L334.6 259.9L335.4 268.2L335.6 269.9L336 272.2L337.2 277.9L337.4 278.6L337.7 278.4L337.9 277.9L338.1 279.2L338.3 280.2L338.5 280.7L339.7 280.2L340.5 278.9L341.1 278.8L342.3 280.2L343.7 281.3L344.1 282.2L345.7 286.7L346.7 288.9L347.5 291.5L348.8 296.2L349.2 297.3L349.8 297.9L350.4 297.8L350.8 297.3L353.4 296.3L354.4 296.8L355.6 298.2L356.2 298.2L357 297.5L357.9 297.7L359.3 299.8L360.3 301.6L360.9 301.8L361.9 301.3L362.7 301.6L364.7 303.2L366.5 305.9L367.5 306.6L369.2 307" stroke="#77ac30"/>
<path d="M332.4 320.6L332.8 319L333.6 317.2L334.2 315.4L334.4 314.6L334.6 313.2L334.8 311.5L335.2 306.9L335.8 301.2L336 299.5L336.2 298.3L336.4 297.4L336.6 296.8L336.8 296.6L337.4 296.9L337.7 297.4L337.9 297.4L338.1 298.5L338.3 299L338.5 299.1L339.1 298.3L339.5 298.6L339.9 299.6L340.3 301L340.9 303.5L341.1 304L341.3 304.3L341.7 304L342.1 303L342.9 300.3L343.5 298.9L343.9 298.7L345.3 299.7L345.9 300.7L346.5 302.5L347.1 304.9L347.8 307.5L348.2 308.4L348.6 308.6L349 308.2L349.2 307.8L350.2 304.5L350.6 303.3L351 302.8L351.6 302.9L353.2 304.3L354.4 304.4L355.4 304.2L356.8 304.9L358.9 305.5L359.7 306L361.1 308L361.5 308.2L362.3 307.6L363.3 306.3L364.3 306.2L366.9 306.8L369.2 307" stroke="#4dbeee"/>
<path d="M332.4 345.4L332.8 342.9L333.2 341.1L333.6 339.9L334 339.6L334.4 340.2L334.6 340.1L334.8 339.7L335.2 337.7L335.8 336.8L337.4 336.4L338.5 333.5L339.3 330L340.3 324.9L340.7 323.4L341.1 322.5L341.9 321.9L343.5 321.2L345.5 320L346.3 318.6L347.1 316.9L347.5 316.5L349 316.8L349.2 316.8L350.6 313.4L353 310.2L353.6 310L354.6 310.6L355.6 311.3L356.2 311.1L357 310L358.5 306.9L359.1 306.2L361.7 306.4L364.1 306.1L365.1 306.1L367.1 306.9L369.2 307" stroke="#a2142f"/>
<path d="M332.4 325.1L332.8 323.6L333.6 321.8L334 321.6L334.2 321.9L334.4 322.4L334.8 322.7L335.2 321.7L336 320.9L336.2 320.9L336.6 321.5L336.8 322.1L337.2 324.3L337.4 325.5L337.9 327.3L338.3 329.6L338.5 330.4L338.9 330.6L339.3 329.9L339.7 328.7L339.9 327.8L340.5 324.1L341.1 320.1L341.7 317L342.7 312.4L343.3 310.6L343.7 310.1L343.9 310.2L344.5 311.6L345.3 314.1L345.7 314.8L346.3 314.8L347.3 314.3L348.4 314.2L349.2 313.5L350 311.8L351 310.8L352.6 309.8L353.4 309.4L355.2 310L356.2 309.7L357.6 308.6L359.9 308.5L360.5 307.8L361.3 306.5L361.9 305.9L362.5 306.1L363.5 307.1L364.3 307.1L365.9 306.7L369.2 307" stroke="#0072bd"/>
<path d="M332.4 306.1L332.8 305.5L333.2 305.7L333.8 305.9L334.2 306.5L334.4 307L334.8 307.2L335.4 305.4L335.6 304.7L336 302.3L336.4 299.9L336.6 298.8L336.8 298L337 297.5L337.4 297.1L337.9 297.8L338.5 303L339.1 307L339.7 311.6L339.9 312.9L340.1 313.9L340.3 314.5L340.5 314.8L340.7 314.8L340.9 314.4L341.1 313.7L341.3 312.7L341.9 308.7L342.1 307.5L342.5 305.9L343.3 304.1L344.3 301.9L345.1 299L345.5 298.1L345.9 298.1L346.3 298.7L346.9 300.6L348 303.9L349.4 307L350.2 308L350.6 308.1L351 307.8L351.6 306.4L352.6 303.5L353 303L353.6 303.1L354.8 304.1L355.6 304.2L356.4 303.3L357 302.7L358.1 302.6L358.9 303.2L359.3 303.9L360.1 305.5L360.9 305.8L362.3 305.5L363.7 306.8L365.1 306.6L366.5 306.5L369.2 307" stroke="#d95319"/>
<path d="M332.4 295.8L332.8 295.2L333.2 295.7L334.2 295.7L334.6 295.7L335.2 295L336 295.5L336.6 297.1L337.2 299.4L337.7 301.2L337.9 301.8L338.1 303.6L338.3 305L338.5 306L338.9 306.8L339.5 306.7L339.9 306.2L340.7 304.5L341.3 304L342.1 304.7L342.9 305.3L343.3 305.1L344.3 303.4L345.5 300.3L346.1 299.9L346.7 300.5L347.5 301.5L348.2 301.7L349.4 300.9L350 301.3L350.8 302.9L351.2 303.9L351.6 304.3L353 303.5L353.6 304.2L354.6 306.2L355.2 306.5L356.4 305.7L357.9 304.6L358.9 303.9L360.5 301.3L361.3 300.9L362.3 301.5L364.1 304.2L365.9 305.6L367.1 306.6L369.2 307" stroke="#edb120"/>
<path d="M332.4 331.3L333.2 332.2L334 332.3L334.4 333L334.6 333L334.8 332.6L335.2 330.5L335.8 329.1L336 329L336.2 329.1L336.8 330.3L337.4 331.8L337.7 331.5L338.1 330L338.5 327.6L339.3 321.1L339.5 319.8L339.7 318.8L340.1 317.3L341.1 315.1L341.5 313.6L341.9 311.4L342.3 309.1L342.7 307.3L343.7 303.6L344.1 302.6L344.7 302.1L345.1 302.2L345.5 302.9L346.9 307.3L347.3 308.1L348 308.4L349 308.5L349.4 308.4L350.2 307.3L351.2 305.2L351.8 304.6L352.2 305L353.4 307.9L354 308.5L356 308L357.9 306.6L358.3 306.9L359.5 309.2L359.9 309.5L360.3 309.3L361.7 307.1L362.3 306.9L363.7 307.4L366.5 306.7L369.2 307" stroke="#7e2f8e"/>
<path d="M332.4 317.5L332.8 314.5L333.2 313.2L333.4 312.8L333.8 312.9L334.2 313.7L334.4 314.4L334.8 314.9L335.2 314.4L335.8 315.1L336.2 316.4L336.4 317.3L336.8 318.3L337.2 318.6L337.4 318.3L337.9 316.7L338.5 315.8L339.3 314.1L339.9 312.9L340.5 311.3L340.9 310.8L341.3 310.9L341.7 311.7L342.5 313.6L342.9 313.9L343.1 313.7L343.5 312.5L344.5 308.5L344.7 307.8L344.9 307.5L345.1 307.4L345.3 307.6L345.5 308.2L345.7 309L346.3 312.6L346.5 313.5L346.9 314.5L347.3 314.6L347.8 313.7L348.6 310.5L349 309.5L349.6 308.6L350 308.6L351 309.6L352.2 309.4L354.8 307.6L356.4 305.3L357 304.1L358.1 303.2L359.3 303L360.5 303.6L361.1 304.5L362.3 307.1L363.1 308.1L363.9 308.4L366.3 307L369.2 307" stroke="#77ac30"/>
<path d="M332.4 308.7L332.8 308.8L333.2 309.5L333.8 310.3L334.4 311.7L334.6 311.9L334.8 311.7L335 310.9L335.6 307.5L336.2 303.1L336.6 300.8L336.8 300.2L337 300L337.2 300.2L337.4 300.8L337.9 303L338.1 305.1L338.3 306.8L338.5 308L338.7 308.4L338.9 308.5L339.1 308.1L339.5 306.8L340.1 304.5L340.3 303.9L340.5 303.7L340.9 304.1L341.9 306.8L342.3 307.4L342.7 307.2L343.1 306.2L343.7 303.5L343.9 302.8L344.1 302.6L344.3 302.6L344.5 302.9L344.9 304.4L345.7 309.1L345.9 310L346.1 310.7L346.3 311L346.7 310.8L348 308.6L349 308L349.4 307.6L350.2 306.4L350.8 305.9L353 306.2L354 305.7L355 304.8L356.4 305.3L357.2 304.5L358.1 303.2L358.7 302.8L359.1 303L360.3 306L360.9 306.6L361.5 306.4L362.3 305L362.7 304.7L363.3 305.3L363.9 306.1L364.7 306.1L365.7 305.9L367.5 306.8L369.2 307" stroke="#4dbeee"/>
<path d="M332.4 315.6L332.8 314.6L333.2 313.9L333.8 312.2L334 311.8L334.2 311.7L334.8 312.5L335.2 313.3L336.2 318.2L336.4 318.8L336.6 318.7L336.8 318.3L337.2 316.7L337.7 314.2L337.9 312.8L338.7 311.4L339.1 311.2L340.3 312.7L341.5 314.9L343.3 316.5L344.3 316.8L344.9 316.1L346.5 313L347.1 312.9L348.4 313.9L349 313.9L349.2 313.8L350.4 310.1L351 308.1L353.4 303L354.6 301.7L355.2 301.5L356.2 302.6L356.8 303.8L357.2 304.7L357.9 305.1L359.3 304.8L362.1 305.3L364.3 305.1L365.3 305.8L366.5 306.6L369.2 307" stroke="#a2142f"/>
<path d="M332.4 297.2L332.8 296.6L333.2 297.2L334.4 297.9L334.6 297.5L334.8 296.8L335.6 291.9L335.8 290.9L336 290.2L336.2 290.1L336.4 290.5L336.6 291.1L337.7 295.7L337.9 296.2L338.1 297.7L338.3 298.9L338.5 299.6L339.1 300.7L340.3 304.6L340.7 305.1L341.1 304.9L342.5 302.2L343.3 301.4L343.7 301.5L343.9 301.8L345.3 306.6L345.9 307.8L346.5 308.1L347.3 307.4L348.2 306.5L348.8 306.4L350.4 307.4L351.6 307.9L352.6 307.5L355 305.5L356.6 304.4L357.6 303.5L358.7 302.3L359.1 302.1L360.1 303.5L360.9 303.7L362.3 303L363.3 303.5L365.9 306.7L366.9 307L369.2 307" stroke="#0072bd"/>
<path d="M332.4 273.2L332.8 274.4L333.2 277.3L334.2 283.9L334.6 286.5L334.8 287.7L335.4 289.9L335.6 290.5L336 290.8L336.4 290.5L337 288.5L337.4 287.2L337.9 286.4L338.3 289.4L338.5 290.6L338.9 292L339.3 292.3L339.5 292.1L339.9 291L340.3 289.8L340.5 289.5L340.9 289.6L341.7 291.2L342.1 291.4L342.9 290.9L343.5 291.1L343.9 291.8L345.1 294.7L346.1 297.1L347.1 300.4L347.5 300.9L348 300.6L348.8 298.6L349.4 297.9L350 298L350.8 299L352.4 302.2L353 302.6L354 302L355 300.8L357.6 301.4L359.3 301.5L360.3 302.2L362.3 302.4L364.1 303.5L365.5 304.8L366.9 306.5L368.8 307L369.2 307" stroke="#d95319"/>
<path d="M332.4 355L333.2 347.2L333.6 343.9L333.8 342.6L334 341.8L334.2 341.4L334.4 341.5L334.8 341.1L335.2 339.5L335.8 339.3L336.6 340.1L337 340.1L337.2 339.7L337.4 339.1L337.7 338.1L338.5 332.9L338.9 330.7L339.3 329.4L340.1 327.4L341.3 324.1L342.1 322.7L343.1 321.9L343.9 320.2L344.7 318.2L345.3 317.6L346.9 317.3L348 316.7L349 315.3L349.2 314.9L349.8 313.1L350.4 312.3L351 312L352 312.7L353 313.8L353.6 313.8L355.2 312.4L356.2 312.5L357 312.4L357.9 311.5L359.1 309.9L359.9 309.4L361.1 309.6L361.7 309.9L364.3 309.3L366.3 307.8L367.5 307.1L369.2 307" stroke="#edb120"/>
<path d="M332.4 344.1L332.8 340.5L333.4 336.4L333.6 335.3L333.8 334.4L334 333.9L334.2 333.7L334.4 333.8L334.8 333.4L335.2 331.9L335.6 331.7L336 332.3L336.4 333.2L336.8 333.3L337.2 332.6L337.4 331.9L337.9 329.8L338.3 328.3L338.7 327.3L339.1 326.9L339.9 327L340.3 326.3L340.7 324.9L341.3 321.9L342.7 314.1L342.9 313.3L343.3 312.4L343.7 312.5L344.3 313.2L344.7 313.2L345.5 312.3L345.9 312.5L346.7 313.3L347.3 313.1L348.6 311.6L349.2 311.1L350.4 308.4L350.8 307.8L352.6 307.5L354.2 305.9L354.8 306L355.2 306.6L356.2 309.3L356.6 309.9L357.4 309.9L359.9 307.9L360.7 307.2L361.3 307.7L362.3 308.7L363.1 308.8L364.5 307.9L365.9 307.7L367.5 307L369.2 307" stroke="#7e2f8e"/>
<path d="M332.4 265.1L332.8 267.7L333.2 272.1L333.8 277.9L334.2 281L334.4 282.2L334.6 283.1L334.8 283.6L335.2 283.6L335.6 283.3L335.8 282.6L336.2 280.6L337 275.6L337.4 273.7L337.9 272.7L338.1 274.3L338.3 275.5L338.5 276.2L339.5 276.5L340.1 276.8L340.3 277.3L340.7 278.7L341.9 284.2L342.5 286.2L342.9 287L343.3 287.2L344.1 286.9L344.7 287.4L345.1 288.3L345.7 290.7L346.7 295.1L347.3 297L348.2 298.6L348.8 299L349.4 298.5L350.2 297.4L350.6 297.1L351 297.6L352 299.5L353 300.8L353.8 301L354.6 301.1L355.2 301.9L356 303.1L356.6 303.1L358.1 302.4L359.9 301.8L361.3 300.7L362.3 301.1L363.9 302.8L365.9 305.5L367.3 306.6L369 307L369.2 307" stroke="#77ac30"/>
<path d="M332.4 327.8L332.8 325L333.6 320.9L333.8 320.2L334 319.8L334.2 319.8L334.8 321.1L335.2 321.4L335.8 323.5L336.2 324.1L336.4 324.1L337 322.6L337.7 320.4L337.9 319.5L338.9 318.2L339.1 318.2L339.5 319L339.9 320L340.3 320.5L340.7 320.4L341.3 319.2L342.3 317.1L342.9 316.2L343.5 315.9L344.5 316.3L344.9 315.8L345.3 314.8L345.7 313.1L346.3 309.2L346.5 308.2L346.7 307.5L346.9 307L347.1 306.9L347.5 307.3L348.2 308.9L348.8 311.3L349.2 313.2L349.4 314L349.6 314.5L349.8 314.7L350.2 314.4L350.6 313.5L351.4 311.3L352 310.7L353.4 310.7L354.2 310L355 309.1L356.4 308.3L357 308.1L358.3 308.8L358.9 308.4L359.9 307.5L360.7 307.3L361.7 307.6L363.7 306.8L365.9 307.3L369.2 307" stroke="#4dbeee"/>
<path d="M332.4 330.4L332.8 326L333.2 322.9L333.6 320.4L334 318.7L334.6 317.1L334.8 316.3L335.2 314.5L335.4 314.3L335.6 314.5L335.8 315L336 315.8L336.4 318.3L336.8 320.1L337 320.7L337.4 321L337.7 320.9L337.9 320.5L338.5 320.6L338.9 320.3L339.9 320.8L340.7 319.7L341.5 318L342.1 315.9L342.9 311.8L343.3 310.3L343.7 309.4L344.3 309.1L348 310.5L349 311.9L349.4 312.5L350 312.8L351.8 312.1L352.8 311.9L353.8 310.9L355 309.2L356.8 307.5L358.7 307.1L360.7 305.2L361.3 305.2L363.1 306.9L364.9 307.3L365.7 307.5L367.5 306.9L369.2 307" stroke="#a2142f"/>
<path d="M332.4 310.4L332.8 311.2L333 311.9L333.2 312.2L333.4 312.1L333.8 311.4L335.2 307.1L335.8 307.3L336.2 306.9L336.4 306.5L337.4 302.3L337.9 301.7L338.5 305.1L338.9 306.4L339.3 307.1L339.7 307L340.1 306L340.7 303.9L341.1 303.2L341.7 303.1L342.5 303.9L343.7 306.8L344.3 307.4L345.3 307.7L346.1 308.7L347.1 310.3L348 311.4L348.8 312.9L349.2 313.1L349.6 312.1L350.2 309.5L350.8 306.5L351.4 304.7L351.8 304L352.2 303.8L352.6 304.2L353.2 305.6L353.8 307.3L354.4 308.1L355 308L356.6 307L357.4 306.7L358.5 305.3L359.3 303.9L359.9 303.5L361.7 304.2L362.5 305L363.5 306.6L364.1 306.9L366.5 306.8L369.2 307" stroke="#0072bd"/>
<path d="M332.4 263.2L332.6 263.5L332.8 264L333.6 270L334.6 279.2L334.8 280.8L335.4 284.5L335.6 285.5L336 286.8L336.6 288.2L337.2 289.1L337.4 289.3L337.7 289L337.9 288.4L338.1 289.4L338.3 290.1L338.5 290.3L339.5 289.7L340.9 289.5L341.3 289.8L341.7 290.8L342.5 293.3L342.9 294.2L343.3 294.4L343.7 294L344.5 293.1L345.1 293.6L345.5 294.5L346.7 299.2L347.1 300.3L347.5 300.8L348.6 300.8L349.4 301.5L350 301.3L350.4 300.8L350.8 300L352.2 298.3L353 298.3L353.6 298.8L354.8 301L355.4 301.1L356.8 299.4L357.4 299.9L358.5 301L359.3 301.1L359.9 301.6L361.5 304.2L362.5 304.7L363.9 304.5L364.9 304.1L365.5 304.5L366.9 306.4L368.8 307L369.2 307" stroke="#d95319"/>
<path d="M332.4 258.3L332.8 261.1L333 263.4L333.4 266.9L334.2 272.8L334.8 276.7L335.4 279.4L335.6 280.1L336 280.5L336.8 280.8L337.4 281.6L337.7 281.7L337.9 281.4L338.1 282.9L338.3 284.1L338.5 284.7L339.5 285.5L340.5 286.6L341.1 286.5L342.5 285.2L343.1 285.4L343.9 286.5L345.3 290.6L345.7 291.4L346.1 291.5L347.3 291.1L347.8 291.1L348.6 292.7L349.8 294.1L350.6 294.7L351 296L351.8 299L352.8 301.5L353.4 302.3L354.2 302.4L356 300.9L357 300L358.1 299.8L358.9 299.8L359.7 299.5L360.7 299.7L362.9 302L364.7 302.6L365.5 303.6L366.9 306.1L368.2 306.9L369.2 307" stroke="#edb120"/>
<path d="M332.4 367.8L333 359.6L333.4 354.8L333.8 350.9L334.2 347.7L334.4 346.5L334.8 343L335.2 338.7L335.4 337.5L335.6 336.7L335.8 336.2L336.2 336.1L336.8 336.4L337.2 335.9L337.7 334.7L338.3 332.4L338.9 330.4L339.5 328.9L339.9 327.3L340.9 321L341.1 320.2L341.3 319.6L341.5 319.4L341.9 319.7L342.9 321.3L343.3 321.3L343.9 320.4L344.5 318.4L345.1 315.9L345.5 314.8L345.9 314.6L346.3 315.3L347.3 318.2L347.8 318.7L349 318.3L349.2 318.4L352.6 314.8L354.2 313.8L355.6 313.4L356.6 312.3L357.9 311.2L359.7 310.1L360.7 308.7L362.1 306.3L362.7 306L364.7 307.1L366.3 307.2L369.2 307" stroke="#7e2f8e"/>
<path d="M332.4 318.7L332.8 319.6L333.6 322.7L334.4 325.7L334.6 326L334.8 325.9L335 325L335.6 321.7L336 319.1L336.2 318L336.6 316.5L336.8 316.1L337.2 316.1L337.9 316.2L338.3 317.3L338.5 317.6L339.1 317.8L339.9 319.1L340.3 319.1L340.7 318.6L341.3 317L342.1 314L342.7 311.6L344.5 306.3L345.1 305.4L345.9 305.2L346.5 305.6L347.8 307.8L348.4 308.1L349.2 307.5L349.8 306.6L350.2 306.6L350.8 307.1L351.4 308.1L352 308.3L352.8 307.7L356.8 303.1L358.7 302.6L359.1 302.6L361.1 305.4L361.9 307L362.7 307.7L363.3 307.6L364.7 306.3L365.9 306.7L367.5 306.9L369.2 307" stroke="#77ac30"/>
<path d="M332.4 350.5L333.4 340.6L333.6 338.9L333.8 337.4L334 336.3L334.2 335.7L334.8 335.3L335.2 334.2L335.6 334.9L336.4 337.5L336.8 338.1L337 338L337.2 337.6L337.4 336.9L337.7 335.5L338.7 326.9L339.1 324.1L339.3 323.1L339.5 322.3L339.7 321.9L340.1 321.8L340.7 323L341.3 324.1L341.7 324.3L344.3 322.8L344.9 321.5L346.1 317.4L346.9 315.2L347.5 314.4L348.4 314.5L349.2 315.3L350.2 315L351.2 314.7L352.8 313.5L357.4 312L359.1 311.4L360.5 311.1L361.7 310.4L362.7 309.8L363.9 309.5L366.3 307.6L367.8 307L369.2 307" stroke="#4dbeee"/>
<path d="M332.4 316.7L332.8 316.8L333 317L333.2 316.9L333.6 316L334.2 313.9L334.4 313.5L334.8 311.9L335.2 309.7L336 307.7L337 306.4L337.7 305.3L337.9 304.4L338.3 304.4L338.9 303.1L339.3 302.8L339.7 303.1L340.7 305L341.1 305.2L341.5 304.8L342.1 303.2L342.7 301.4L343.1 301L343.5 301.5L343.9 302.9L344.3 304.7L344.7 305.7L345.1 305.8L345.9 304.6L346.3 304.4L346.9 305L349.2 309.1L350.4 309.4L352 308.3L353.8 306L355.2 305.1L357.6 305.7L359.7 307.7L360.3 307.6L361.1 306.3L362.3 303.7L362.7 303.5L363.5 304.1L364.5 305L366.9 306.8L369.2 307" stroke="#a2142f"/>
<path d="M332.4 239.5L332.8 242.9L333 245.6L333.2 248L333.6 252.2L334 255.7L334.2 257.2L334.6 259.4L335.4 262.4L336 264.2L336.4 266L337.2 270.2L337.4 271L337.7 271.4L337.9 271.5L338.1 273.6L338.3 275.3L338.5 276.7L339.1 279.8L339.7 283.5L340.3 286.4L340.9 288.6L341.3 289.4L341.7 289.6L342.3 288.7L343.7 285.5L343.9 285.2L344.3 285.7L344.7 286.8L345.3 289.8L345.9 292.9L346.5 295.2L347.5 298L348.2 299.2L348.8 299.7L349.4 299.4L350.2 298.3L350.8 296.9L351.4 296.4L352.4 296.7L355.2 298.6L356.2 299.5L358.3 299.9L359.3 300.4L360.7 301.9L363.1 303.9L364.9 304L365.9 305.3L366.9 306.4L369 307L369.2 307" stroke="#0072bd"/>
<path d="M332.4 346.1L333 344.1L333.2 343.1L333.6 340.4L334.2 335.4L334.4 334.1L334.8 331L335.2 327.5L335.4 326.7L335.6 326.3L335.8 326.2L336.2 326.7L337.2 329.2L337.7 329.7L338.3 329.6L338.5 329.4L339.1 327.5L339.5 325.7L339.9 323.2L340.5 318.6L340.9 316.1L341.3 314.3L341.7 313.4L342.5 312.8L342.9 312.5L343.9 310.4L344.5 310L344.9 310.4L345.9 312.6L346.3 312.9L347.1 312L348 310.9L349 310.6L349.2 310.6L350 309.1L351 306.6L351.4 306.1L351.8 306.3L352.2 307.2L353.2 311L353.8 312.3L354.4 312.6L355 312.1L356 310.1L357 307.4L357.6 306.2L358.1 306L361.1 308.2L361.7 308.6L365.5 308.1L367.3 307L369.2 307" stroke="#d95319"/>
<path d="M332.4 241L332.8 246L333 249.3L333.2 252.1L333.4 254.3L333.6 256.3L334 259.5L334.4 261.8L335 264L336 267L336.4 268.9L336.8 271.2L337 272.7L337.4 276.4L337.7 277.6L337.9 278.4L338.1 280.7L338.3 282.4L338.5 283.4L338.7 283.5L338.9 283.3L339.9 280.6L340.3 279.9L341.5 280.4L342.7 279.5L343.3 279.8L343.7 280.4L343.9 281L344.7 284.4L345.7 289.6L346.1 291.1L346.7 292.4L348 294L349.4 296.2L350.8 297.5L351.4 298.3L352.2 298.1L354.6 296.9L355.2 296.7L357 297.6L357.6 298.1L358.5 298.3L359.3 297.9L360.3 298.4L363.5 302.3L365.3 303.7L366.9 306.2L368.4 306.9L369.2 307" stroke="#edb120"/>
<path d="M332.4 241.3L332.8 247.4L333 251L333.2 253.8L333.4 255.9L333.6 257.7L333.8 259L334 260L334.4 261.3L335 262.8L336.2 267.6L337 271.2L337.7 274.6L337.9 275.4L338.1 278.1L338.3 280.4L338.5 282L338.7 283.1L338.9 283.8L339.3 284.8L339.7 285L340.3 284.4L341.7 281.9L342.1 281.7L342.5 281.9L344.1 285.2L345.1 287.1L346.1 289.5L346.9 290.9L347.8 293.1L348.8 296.6L349.2 297.7L349.8 298.3L350.4 298.2L350.8 297.9L352.8 298.8L353.4 299.6L354.4 301.5L354.8 301.7L355.6 300.6L356.8 298.3L358.1 297.8L359.1 297.9L360.7 299.2L362.7 300.9L364.9 302.7L366.9 306.1L368.2 306.9L369.2 307" stroke="#7e2f8e"/>
<path d="M332.4 245.4L332.8 248.3L333 250.7L333.4 254.6L334 259.8L334.6 264.2L335 266.6L335.4 268.5L335.6 269.2L336 269.3L336.8 268.4L337.2 268.6L337.7 269.5L337.9 270.1L338.1 273.2L338.3 275.9L338.5 278.1L338.9 281.4L339.3 284.2L339.7 286.3L340.1 287.5L340.5 288L341.7 287.8L342.7 289.2L343.3 289.9L344.3 289.4L345.1 288.6L345.5 289L345.9 290.1L346.5 292.8L347.1 295.6L347.5 296.9L348.2 298L349.2 298.3L350.8 298.6L351.6 299.1L353.6 297.8L355.2 298L356 298.2L357 298L358.1 298.8L358.9 299.7L361.1 301.6L362.7 302.7L364.7 303.1L365.5 304.1L366.9 306.3L368.4 306.9L369.2 307" stroke="#77ac30"/>
<path d="M332.4 249.1L332.8 254.1L333 257.2L333.2 259.5L333.4 261.3L333.8 264L334.6 268.6L335 271.5L335.4 275L336 280.7L336.2 282.4L336.4 283.8L336.6 284.5L336.8 284.8L337 284.6L337.2 283.8L337.4 282.4L337.7 280.1L337.9 277.4L338.7 276.1L338.9 276.3L339.1 276.6L339.5 278.4L340.7 285.7L340.9 286.7L341.1 287.5L341.3 288L341.5 288.1L341.9 287.4L342.7 284.6L343.1 283.8L343.5 283.5L343.9 283.8L344.7 286.3L346.3 292.5L346.9 294.3L347.8 296L349.2 300.4L349.8 301.5L350.4 302L351 302L351.6 302L352.4 300.8L353.6 298.5L354.4 298L355.2 298.1L356.2 298.9L357.4 298.6L358.5 298L359.1 297.8L361.1 299.3L362.9 300.4L364.7 302.2L366.9 306.1L368.2 306.9L369.2 307" stroke="#4dbeee"/>
<path d="M332.4 268.2L332.8 272.2L333 275L333.2 277.3L333.6 281.4L334 284.6L334.4 287L334.8 288.3L335.2 288.8L335.4 289.5L335.8 291.4L336.2 294L337 299.7L337.4 301.6L337.7 301.4L337.9 300.9L338.3 301.9L339.5 303L340.1 303.4L340.5 303.1L340.9 302.2L342.3 296.9L342.5 296.3L342.7 296.1L343.1 296.4L343.9 297.9L344.3 298.3L344.7 297.8L345.3 296.9L345.9 296.6L346.7 297.2L348 299.6L348.8 301.1L349.2 301.4L350.4 300.3L350.8 299.9L352 299.6L353 299.3L353.6 299.8L355 302.1L355.6 302.6L357 302.6L358.3 303.3L358.9 303.2L360.7 301.6L362.3 301.6L363.5 302.3L365.7 304.7L367.1 306.5L368.8 307L369.2 307" stroke="#a2142f"/>
<path d="M332.4 295L332.8 297.9L333 299.6L333.2 300.8L333.6 302.5L334.4 304.6L334.8 304.9L335.2 304.2L336.2 304.4L336.8 305.3L337.4 306.9L337.7 306.9L337.9 306.7L338.3 307.8L338.5 308L339.3 307.3L340.1 307.4L340.7 306.7L341.3 304.9L342.3 301.3L342.9 299.9L343.7 298.5L344.3 298.5L344.9 298.9L345.7 300.5L347.5 304.6L348.4 307L349 307.9L349.2 307.9L349.6 307.1L350.4 304.6L350.8 303.3L351.4 302.2L352.2 301.5L353 301.7L353.6 302.4L355.6 306.7L356 307.1L356.6 306.7L358.1 304.7L359.5 303.5L360.7 303L361.7 303.1L363.3 302.6L364.1 303.1L365.1 304.5L366.1 306.1L367.1 306.8L369.2 307" stroke="#0072bd"/>
<path d="M332.4 276.3L332.8 279.6L333 281.9L333.4 285.5L334.2 292.5L334.6 296L334.8 297.5L335.4 300.3L335.6 301.1L335.8 301.6L336 301.8L336.4 301.3L337.4 297.1L337.9 294.9L338.5 296.1L338.9 296.5L339.1 297L339.9 300.9L340.5 303.9L340.7 304.7L340.9 305.2L341.1 305.4L341.3 305.3L341.7 304.4L342.1 302.6L342.7 298.6L343.3 294.1L343.7 292L343.9 291.4L344.3 290.9L344.9 291L345.5 291.9L346.1 293.8L347.3 298.1L348.4 301.5L348.8 302.4L349.2 302.6L350.2 300.8L350.6 300.3L351 300.5L351.6 301.5L352.6 304L353.2 305L353.6 305.1L354.2 304.3L355.4 302.1L356 301.6L356.8 301.9L357.6 302.9L358.9 303.5L359.7 304.1L360.5 304.6L362.3 304L363.9 305.3L365.3 305.4L367.3 306.7L369.2 307" stroke="#d95319"/>
<path d="M332.4 270.6L332.8 271.9L333.2 274.8L334.6 283.3L335 285.4L335.6 288.2L336 289.2L336.4 289.8L337 289.6L337.4 289L337.7 288.4L337.9 287.5L338.1 288.2L338.3 288.5L338.5 288.4L339.1 287.1L339.5 287.1L339.9 288L340.3 289.7L340.9 292.9L341.3 294.2L341.7 294.6L342.1 294.2L342.7 292.8L343.1 292.4L343.5 292.9L343.9 294.2L344.5 297.3L345.1 301L345.5 302.8L345.9 303.9L346.3 304.3L346.9 304.1L348.2 302.5L349.8 299.2L350.6 297.7L351 297.5L352.8 297.4L354 297.3L356 297.6L357 298.2L357.9 299L359.1 299.7L359.9 301L360.7 302.5L363.1 304.2L364.1 304.2L364.9 303.9L365.5 304.5L366.9 306.4L368.6 307L369.2 307" stroke="#edb120"/>
<path d="M332.4 314.1L332.8 313.7L333.6 315.1L334 316.4L334.4 318.3L334.6 318.9L334.8 319L335 318.4L335.4 316.4L335.6 315.2L337 304.8L337.4 302.3L337.9 300.4L338.3 301L338.5 301.1L339.3 300.2L339.7 299.1L340.1 297.4L340.7 294.1L341.3 290.3L341.5 289.3L341.7 288.7L341.9 288.4L342.3 288.6L342.7 289.6L343.3 292.4L344.3 298.3L344.7 300L345.1 301L347.8 302.5L349.2 304.4L350.8 305L351.4 305.5L352.4 305.2L353.2 304.8L353.8 305.4L354.6 306.7L355.2 306.9L355.8 305.9L356.2 304.7L356.8 302.5L357.4 301.6L358.1 301.4L359.3 302L361.3 305.1L362.1 305.6L365.3 306.2L366.7 306.5L368.8 307L369.2 307" stroke="#7e2f8e"/>
<path d="M332.4 266.4L332.8 267.5L333 269L333.4 271.2L334.2 274.7L334.8 276.9L336.2 280.9L337.2 284.6L337.7 285.4L337.9 285.4L338.1 287L338.3 288.3L338.5 289.1L340.1 292.3L340.7 292.6L341.3 291.9L341.7 291.2L341.9 291.1L342.1 291.3L342.3 291.7L342.5 292.4L342.7 293.5L342.9 294.9L344.1 304.9L344.3 306L344.5 306.7L344.7 306.9L344.9 306.7L345.1 306.1L345.7 303.2L346.1 301.8L346.5 301L347.1 300.9L348.4 301.6L349.2 301.2L350 300.4L350.8 300.3L351.8 301.1L353.4 301.3L356.8 300.7L358.5 301.5L359.7 301.2L360.7 301.4L363.5 303.4L365.9 306L367.3 306.8L369.2 307" stroke="#77ac30"/>
<path d="M332.4 261.3L332.8 264.8L333 266.9L333.2 268.5L333.6 270.3L334.2 272.5L334.8 275.7L335.6 280.1L336 281.4L336.2 281.7L336.4 281.7L336.6 281.1L336.8 280.1L337 278.5L337.2 276.4L337.7 271.7L337.9 269.4L338.3 270.6L339.3 273.7L339.5 274.9L340.3 281.3L340.7 283.9L340.9 284.9L341.1 285.6L341.5 286.1L342.7 285.4L343.9 286L345.3 288.6L347.3 293.1L348.2 294.1L349.2 294.7L350.4 296.4L350.6 296.6L351.4 298.3L353.6 300.6L354.4 300.8L356 299.5L356.8 298.9L357.9 299.5L358.5 299.4L359.1 298.5L359.7 298.6L360.3 299.4L360.9 301L361.5 302.7L362.1 303.6L363.1 303.8L364.3 303.8L365.1 304.3L366.9 306.4L368.8 307L369.2 307" stroke="#4dbeee"/>
<path d="M332.4 238.5L332.6 239.3L332.8 240.5L333.4 246.8L333.8 250.4L334.2 253.4L335.2 258.9L336.2 263.7L336.6 265.3L337.9 269.2L338.1 272.4L338.3 275.2L338.5 277.3L338.7 278.9L338.9 280.1L339.3 281.7L339.7 282.6L340.3 283.3L340.7 284.4L341.1 286.2L341.9 290.8L342.3 292.6L342.9 294.3L343.5 295.3L344.3 295.7L345.5 295.4L346.3 294.9L346.7 295.1L347.8 296.8L348.2 297L348.6 296.6L349.4 295.1L349.8 294.8L350.8 295.3L351.6 296.1L352.8 296.6L354 297.4L355.2 297.1L356.6 297.6L359.1 297.7L360.9 300.8L361.7 301.1L362.7 301.3L363.7 302.3L365.3 304.3L367.3 306.5L368.8 307L369.2 307" stroke="#a2142f"/>
<path d="M332.4 356.4L332.8 352.3L333 350.6L333.2 349.2L333.4 348.1L333.6 347.4L333.8 347L334 347L334.2 347.3L334.4 347.9L334.6 348.1L334.8 347.9L335.2 345.9L336.4 342.3L337.9 336.5L338.7 334.4L339.7 332L341.3 326.9L342.1 324.9L342.7 324.2L344.3 323.3L345.7 321.2L348.4 316.2L349.8 314.7L351 314.7L351.6 314L353.4 310.2L354.2 309.3L355.2 309.2L356.6 309.6L357.6 309.2L358.7 308.2L359.3 307.5L359.9 307.4L361.5 308.5L363.1 308.3L364.5 308.4L367.5 307.1L369.2 307" stroke="#0072bd"/>
<path d="M332.4 332.9L332.8 331.8L333.2 330.9L334.2 328L334.4 327.7L334.8 326.2L335.2 323.9L336.4 321.3L337 319.3L337.4 318.6L337.9 318.6L338.3 319.9L338.5 320.2L339.1 319.9L339.5 319.1L339.9 317.6L340.7 314L341.1 312.9L342.3 311.4L343.1 309.7L343.9 307.6L344.3 307.1L344.7 307.2L345.1 308L345.7 310L346.5 313.5L347.1 315.5L347.5 316.3L348 316.4L348.6 315.5L349.2 314L350 310.9L350.8 308.7L351.6 307.9L352.6 307.6L354 308.6L354.6 308.4L355.6 307.3L356.2 307.2L357.2 307.6L358.1 306.7L359.3 305.4L360.5 304.8L361.1 305.2L362.1 307.3L362.9 308.1L363.9 308.1L367.1 307L369.2 307" stroke="#d95319"/>
<path d="M332.4 337.6L332.8 335.5L333.4 333.4L334 332.1L334.4 331.7L334.6 331L334.8 329.9L335.2 326.3L336 320.6L336.2 319.5L336.6 318.2L336.8 318L337 318.2L337.4 319.3L337.7 320L337.9 320.5L338.1 321.2L338.3 321.5L338.5 321.4L338.7 320.8L339.1 318.8L339.7 315.5L340.1 313.6L340.5 312.4L341.9 309.5L342.3 309.2L342.5 309.4L342.7 309.9L343.5 312.7L344.3 314.5L346.7 317.5L347.8 318.4L348.8 318.2L349.2 317.9L349.8 315.9L350.6 312.9L351.2 311.5L353.4 309.5L354.6 309.5L355.4 309.3L356.8 307.8L358.1 307.7L359.1 307.8L359.9 307.6L360.9 306.3L361.7 306.2L363.3 307.1L366.1 307.4L368.6 307L369.2 307" stroke="#edb120"/>
<path d="M332.4 307.6L332.8 308.9L333 309.8L333.2 310.3L333.6 310.4L334.2 310L334.6 309.9L335.2 309.2L335.8 310.6L336.4 312.1L336.6 312L336.8 311.6L337 310.7L337.2 309.5L337.7 306.3L337.9 304.3L338.3 303.1L338.7 302.3L339.1 302.2L339.9 302.8L340.5 302L341.5 299.8L342.1 299.4L342.7 299.9L343.3 300.9L343.9 301.6L345.1 303.7L347.1 306.2L347.8 306.3L349.8 304.3L351.2 303.5L352.2 303.6L353.6 304.4L354.8 304.7L355.6 305.3L356.2 305L357 303.3L357.9 302.7L359.3 303.6L360.3 304.3L361.9 304.3L362.9 304.2L364.3 304.5L365.1 304.7L366.9 306.5L368.8 307L369.2 307" stroke="#7e2f8e"/>
<path d="M332.4 283.5L332.8 287.4L333 289.6L333.2 291.3L333.6 293.7L334.4 296.8L334.8 297.7L335.2 298.1L336.4 301.2L337 301.6L337.4 301.5L337.9 300.1L338.3 300.8L338.5 300.7L339.9 297.3L340.3 296.6L341.1 296.6L342.1 296.5L344.3 294.9L344.9 294.6L345.5 295.1L346.1 296.4L348 302.2L348.6 303.4L349.2 304L350.4 303.7L353 301.3L354 300.9L356 301.7L357.4 301.9L358.7 300.8L359.3 300.2L360.3 300.1L361.1 300.8L362.9 303.3L364.3 303.8L365.1 304.3L366.7 306.3L368 306.9L369.2 307" stroke="#77ac30"/>
<path d="M332.4 277.2L332.8 280L333 282.1L333.4 285.3L334 289.4L334.4 291.8L334.8 293.1L335.2 293.4L335.8 294.6L336 295.2L336.4 297.1L337 300.4L337.2 301.2L337.4 301.8L337.7 301.5L337.9 300.7L338.1 300.8L338.3 300.7L338.5 300.1L339.5 295.5L340.3 290.8L340.5 289.9L340.7 289.3L340.9 289.1L341.1 289.3L341.3 289.9L342.1 293.7L342.5 295L342.9 295.6L343.1 295.5L343.5 294.6L344.1 292.4L344.5 291.7L344.9 291.7L345.3 292.5L345.9 294.9L346.5 297.2L347.1 298.6L348.4 299.8L349.8 302.4L350.4 303.1L350.8 303.3L351.8 304.7L352.4 305.2L353 304.9L354.2 303L355 302.5L356 303.2L357.2 304.9L358.1 304.9L358.9 304.1L359.7 302.9L360.5 302.5L361.1 303L362.5 304.8L363.7 305.4L365.1 306L366.5 306.7L369.2 307" stroke="#4dbeee"/>
<path d="M332.4 252.1L332.8 256.2L333 259.1L333.2 261.6L333.6 265.6L334 268.8L334.4 271.2L335.4 275.6L336 279.1L336.6 283.7L337 286.3L337.2 287.2L337.4 287.9L337.7 287.8L337.9 287.2L338.1 288.1L338.3 288.6L338.5 288.6L339.7 286.2L340.7 285L341.7 284.6L343.5 284.6L343.9 285L344.5 287.1L345.3 290.4L347.3 296.4L348.2 297.7L348.8 298L349.4 297.6L350.6 296.5L353 298.2L354.2 299.8L354.8 300.1L356 300L357 300.7L357.9 301.4L358.5 301.6L359.3 301.3L361.9 301.4L363.1 300.9L363.9 301.3L364.9 302.5L366.5 305.7L367.3 306.5L369 307L369.2 307" stroke="#a2142f"/>
<path d="M332.4 340.6L332.8 339.3L333.4 338L333.6 337.8L333.8 337.9L334 338.3L334.2 339L334.4 340L334.6 340.4L334.8 340.6L335 340L335.2 339L335.4 338.4L335.6 337.5L335.8 336.2L336.6 329.3L336.8 327.7L337.2 325.4L337.7 323.9L337.9 323.2L338.7 323L339.5 322.6L339.9 321.9L340.5 319.6L341.7 314.1L342.1 312.2L342.3 311.4L342.5 311L342.7 310.8L343.3 311.8L344.7 315.4L345.1 315.8L345.5 315.6L345.9 314.8L346.9 311.7L347.5 310.7L348.2 310.7L349.4 312.4L350.2 312.5L352.6 310.4L353.4 309.7L354.4 309.7L355.4 309.9L356 309.4L357 308L357.9 307.8L359.5 309.3L360.3 309.5L362.5 308.5L364.3 308.7L365.9 307.9L367.3 307.1L369.2 307" stroke="#0072bd"/>
<path d="M332.4 262.6L332.8 265.4L333 267.5L333.2 269.4L333.6 272.3L334 274.7L334.4 276.6L334.8 277.9L335.4 279.5L336 281.7L336.4 284L337.2 289.3L337.4 290.3L337.7 290.8L337.9 290.8L338.1 292.2L338.3 293L338.5 293.3L338.9 292.4L339.5 290.6L339.9 289.9L340.3 289.8L340.9 291.1L342.5 295.9L343.1 297.3L344.1 297.7L345.9 296.8L346.7 296.2L347.3 296.4L348 297.3L348.6 298.3L349.2 298.8L350.4 298.4L350.8 298.1L351.4 298.2L353 296.9L353.6 297.1L354.8 298.4L355.8 298.7L357 298.2L358.1 298.9L358.9 299.7L359.5 300.2L360.7 301.8L361.7 301.9L362.5 302.1L365.1 304.1L367.1 306.5L369 307L369.2 307" stroke="#d95319"/>
<path d="M332.4 363.3L333.6 354.7L333.8 353.5L334 352.7L334.2 352.2L334.4 352.1L334.6 351.6L334.8 350.8L335.2 347.8L336.4 342.1L337.4 336.1L338.1 332.3L339.5 324.7L340.1 322.4L340.5 321.5L340.9 321.4L341.9 322L342.3 321.6L343.1 319.8L343.9 317.2L344.3 316.5L344.7 316.5L345.9 318.2L346.5 318.2L348.2 317L349.2 316.7L350 315.2L351 314.6L353.8 314.1L355.6 313.9L357.4 312.7L358.7 311.4L361.1 310.3L362.3 310L364.1 309.2L366.9 307.2L369.2 307" stroke="#edb120"/>
<path d="M332.4 247.1L332.8 250.1L333 252.6L333.2 254.7L333.6 258.3L334 261.2L335.2 268L335.6 270.5L336.2 273.4L336.6 274.9L337.4 276.9L337.9 277.1L338.1 279.1L338.3 280.7L338.5 281.7L338.7 282.1L338.9 282.1L339.7 280.8L340.3 279.8L340.7 280L342.7 283.5L344.3 287.9L345.9 290.7L348 293.3L349.2 295L350 295.3L350.4 295.2L350.8 294.9L352.8 295.7L355 296.6L356.4 298.2L357.4 298.6L358.3 298.8L359.1 299.4L361.3 303.2L362.1 304L363.1 303.9L364.5 303L365.1 303.3L366.9 306.2L368.2 306.9L369.2 307" stroke="#7e2f8e"/>
<path d="M332.4 308.6L332.8 307.6L333.6 307L334 307.4L334.2 307.9L334.6 309.4L334.8 310L335.6 310.5L336.8 309.5L337.9 309.6L338.3 311.3L338.7 312.3L339.3 313.6L339.7 313.9L339.9 313.7L340.1 313.1L340.3 312.2L340.5 310.9L340.9 307.8L341.3 304.4L341.5 302.9L341.7 301.8L342.1 300.3L342.5 299.5L343.7 298.9L343.9 299L344.3 299.8L344.7 301.2L345.9 307L346.3 308L346.7 308.1L347.8 306.9L348.4 307.2L349.2 308.7L349.6 308.4L350.2 307L351 304.4L351.8 302.4L353 300.3L353.8 299.6L354.4 299.9L355.6 301.9L356.2 301.8L357 301.3L357.9 301.4L358.7 302L360.7 302.3L361.5 303.1L362.9 305L364.9 305.8L366.3 306.9L534.4 307" stroke="#0072bd" stroke-width="1.5"/>
</g>
<path d="M332.4 229.5H534.4V378H332.4ZM372.8 378v-2M372.8 229.5v2M413.2 378v-2M413.2 229.5v2M453.6 378v-2M453.6 229.5v2M494 378v-2M494 229.5v2M332.4 353.2h2M534.4 353.2h-2M332.4 328.5h2M534.4 328.5h-2M332.4 303.8h2M534.4 303.8h-2M332.4 279h2M534.4 279h-2M332.4 254.2h2M534.4 254.2h-2" stroke="#9a9a9a" stroke-width="0.8" fill="none"/>
<g font-size="11" fill="#262626">
<text x="332.4" y="394.2" text-anchor="middle">0</text>
<text x="372.8" y="394.2" text-anchor="middle">200</text>
<text x="413.2" y="394.2" text-anchor="middle">400</text>
<text x="453.6" y="394.2" text-anchor="middle">600</text>
<text x="494" y="394.2" text-anchor="middle">800</text>
<text x="534.4" y="394.2" text-anchor="middle">1000</text>
<text x="328.8" y="234.6" text-anchor="end">3</text>
<text x="328.8" y="259.4" text-anchor="end">2</text>
<text x="328.8" y="284.1" text-anchor="end">1</text>
<text x="328.8" y="308.9" text-anchor="end">0</text>
<text x="328.8" y="333.6" text-anchor="end">-1</text>
<text x="328.8" y="358.4" text-anchor="end">-2</text>
<text x="328.8" y="383.1" text-anchor="end">-3</text>
</g>
<text x="433.4" y="409.9" text-anchor="middle" font-size="12.4" fill="#262626">The number of iterations k</text>
<text transform="translate(308.2 303.8) rotate(-90)" text-anchor="middle" font-size="12.4" fill="#262626">The state of UAV <tspan font-family="'DejaVu Sans',sans-serif" font-style="italic" fill="#707070" font-size="12.4">ϕ</tspan><tspan font-size="9.3" dy="4.1">i</tspan><tspan dy="-4.1">(k)</tspan></text>
<rect x="417.2" y="234.7" width="112" height="52.8" fill="#fff" stroke="#858585" stroke-width="0.7"/>
<g font-size="10.1" fill="#111" stroke="#111" stroke-width="0.2">
<path d="M419.3 242.3h18.8" stroke="#2687c7" stroke-width="1.3" fill="none"/>
<text x="439.8" y="245.9">The state of UAV 1</text>
<path d="M419.3 255.2h18.8" stroke="#df6d3c" stroke-width="1.3" fill="none"/>
<text x="439.8" y="258.8">The state of UAV 2</text>
<path d="M419.3 268h18.8" stroke="#f0bd41" stroke-width="1.3" fill="none"/>
<text x="439.8" y="271.7">...</text>
<path d="M419.3 280.9h18.8" stroke="#914e9f" stroke-width="1.3" fill="none"/>
<text x="439.8" y="284.5">The state of UAV N</text>
</g>
</g>
<text x="128.7" y="209.6" text-anchor="middle" font-family="'Liberation Serif',serif" font-size="17.2" fill="#111">(<tspan font-weight="bold" font-size="15.5">a</tspan>)</text>
<text x="428.2" y="209.6" text-anchor="middle" font-family="'Liberation Serif',serif" font-size="17.2" fill="#111">(<tspan font-weight="bold" font-size="15.5">b</tspan>)</text>
<text x="128.8" y="431.4" text-anchor="middle" font-family="'Liberation Serif',serif" font-size="17.2" fill="#111">(<tspan font-weight="bold" font-size="15.5">c</tspan>)</text>
<text x="428.3" y="431.3" text-anchor="middle" font-family="'Liberation Serif',serif" font-size="17.2" fill="#111">(<tspan font-weight="bold" font-size="15.5">d</tspan>)</text>
</svg>
</body></html>
